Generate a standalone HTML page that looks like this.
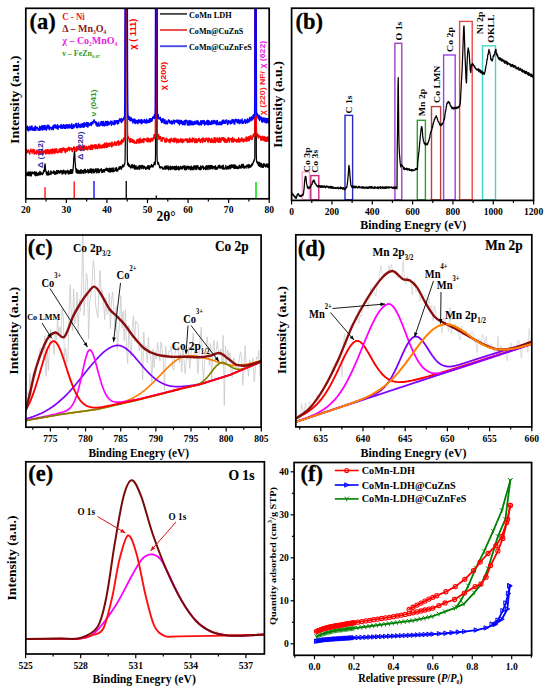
<!DOCTYPE html>
<html><head><meta charset="utf-8"><style>html,body{margin:0;padding:0;background:#fff;width:550px;height:692px;overflow:hidden}svg{display:block}</style></head>
<body><svg width="550" height="692" viewBox="0 0 550 692"><defs><clipPath id="ca"><rect x="25.8" y="9.100000000000001" width="243.39999999999998" height="190.5"/></clipPath>
<clipPath id="cb"><rect x="291.6" y="8.2" width="242.0" height="192.20000000000002"/></clipPath>
<clipPath id="cc"><rect x="25.9" y="235.0" width="235.20000000000002" height="192.2"/></clipPath>
<clipPath id="cd"><rect x="295.8" y="234.8" width="235.99999999999994" height="192.09999999999997"/></clipPath>
<clipPath id="ce"><rect x="25.8" y="461.8" width="238.59999999999997" height="192.2"/></clipPath>
<clipPath id="cf"><rect x="294.1" y="462.5" width="237.5" height="192.79999999999995"/></clipPath></defs>
<g clip-path="url(#ca)">
<path d="M25.8,172.58 L26.05,175.71 L26.3,175.33 L26.55,173.08 L26.8,174.12 L27.05,173.91 L27.3,174.78 L27.55,175.37 L27.8,172.3 L28.05,172 L28.3,175.54 L28.55,173.76 L28.8,175.2 L29.05,171.84 L29.3,173.78 L29.55,174.98 L29.8,172.8 L30.05,175.94 L30.3,175.73 L30.55,171.89 L30.8,171.85 L31.05,174.11 L31.3,175.85 L31.55,173.38 L31.8,172.64 L32.05,173.54 L32.3,171.79 L32.55,172.63 L32.8,173.57 L33.05,173.81 L33.3,172.64 L33.55,172.62 L33.8,172.55 L34.05,173.6 L34.3,172.84 L34.55,171.65 L34.8,175.23 L35.05,173.98 L35.3,174.34 L35.55,172.32 L35.8,175.86 L36.05,175.26 L36.3,172 L36.55,172.92 L36.8,174.62 L37.05,174.56 L37.3,175.54 L37.55,173.26 L37.8,175.04 L38.05,174.33 L38.3,172.7 L38.55,173.94 L38.8,175.22 L39.05,175.05 L39.3,173.54 L39.55,173.9 L39.8,171.44 L40.05,172.35 L40.3,174.78 L40.55,173.08 L40.8,172 L41.05,173.64 L41.3,174.31 L41.55,174.17 L41.8,172.84 L42.05,173.11 L42.3,173.4 L42.55,174.58 L42.8,173.42 L43.05,172.82 L43.3,173.13 L43.55,170.8 L43.8,170.2 L44.05,171.89 L44.3,171.34 L44.55,167.62 L44.8,165.21 L45.05,163.81 L45.3,166.17 L45.55,170.07 L45.8,171.09 L46.05,171.62 L46.3,173.99 L46.55,171.69 L46.8,173.11 L47.05,175.1 L47.3,173.45 L47.55,172.92 L47.8,172.07 L48.05,173.29 L48.3,175.08 L48.55,170.88 L48.8,174.29 L49.05,174.44 L49.3,174.71 L49.55,174.06 L49.8,174.35 L50.05,173.06 L50.3,173.23 L50.55,172.63 L50.8,170.99 L51.05,174.55 L51.3,173.22 L51.55,171.58 L51.8,172.91 L52.05,172.81 L52.3,172.23 L52.55,172.17 L52.8,173.01 L53.05,173.37 L53.3,173.31 L53.55,172.61 L53.8,170.71 L54.05,171.58 L54.3,171.34 L54.55,173.12 L54.8,174.32 L55.05,174.04 L55.3,174.02 L55.55,174.09 L55.8,171.61 L56.05,174.17 L56.3,173.42 L56.55,170.81 L56.8,170.51 L57.05,170.48 L57.3,173.73 L57.55,171.49 L57.8,170.86 L58.05,173.12 L58.3,171.87 L58.55,170.65 L58.8,171.03 L59.05,172.64 L59.3,171.04 L59.55,171.49 L59.8,173.41 L60.05,172.26 L60.3,171.67 L60.55,172.32 L60.8,170.33 L61.05,171.91 L61.3,172.05 L61.55,171.01 L61.8,170.65 L62.05,174.12 L62.3,172.39 L62.55,171.06 L62.8,172.79 L63.05,173.7 L63.3,170.19 L63.55,170.16 L63.8,170.71 L64.05,173.22 L64.3,170.75 L64.55,173.13 L64.8,173 L65.05,172.4 L65.3,170.96 L65.55,174.26 L65.8,173.47 L66.05,172.21 L66.3,170.91 L66.55,172.76 L66.8,171.63 L67.05,172.41 L67.3,171.27 L67.55,172.62 L67.8,170.08 L68.05,171.12 L68.3,174.04 L68.55,173.61 L68.8,171.09 L69.05,173.49 L69.3,171.06 L69.55,173.8 L69.8,172.91 L70.05,171.43 L70.3,170.68 L70.55,169.56 L70.8,173.35 L71.05,169.6 L71.3,172.98 L71.55,173.54 L71.8,171.74 L72.05,169.89 L72.3,172.81 L72.55,173.03 L72.8,171.33 L73.05,169.37 L73.3,166.67 L73.55,163.06 L73.8,157.9 L74.05,155.51 L74.3,151.78 L74.55,151.03 L74.8,153.77 L75.05,160.81 L75.3,163.55 L75.55,167.63 L75.8,168.72 L76.05,172.05 L76.3,172.59 L76.55,168.9 L76.8,169.81 L77.05,170.44 L77.3,173.39 L77.55,172.53 L77.8,170.61 L78.05,170.08 L78.3,172.13 L78.55,172.87 L78.8,173.29 L79.05,170.71 L79.3,173.09 L79.55,172.23 L79.8,171.34 L80.05,173.55 L80.3,170.24 L80.55,172.4 L80.8,169.57 L81.05,169.94 L81.3,173.2 L81.55,170.12 L81.8,172.52 L82.05,171.81 L82.3,172.87 L82.55,170.78 L82.8,170.65 L83.05,170.42 L83.3,172.95 L83.55,171.78 L83.8,173.31 L84.05,173.01 L84.3,169.69 L84.55,171.51 L84.8,169.53 L85.05,169.24 L85.3,169.38 L85.55,172.85 L85.8,172.5 L86.05,172.67 L86.3,170.51 L86.55,171.71 L86.8,172.43 L87.05,170.64 L87.3,171.48 L87.55,169.94 L87.8,169.31 L88.05,170.11 L88.3,172.84 L88.55,171.4 L88.8,172.97 L89.05,170.9 L89.3,170.1 L89.55,172.33 L89.8,172.5 L90.05,168.9 L90.3,171.78 L90.55,169.22 L90.8,169.32 L91.05,172.69 L91.3,168.96 L91.55,169.83 L91.8,173.11 L92.05,170.6 L92.3,169.25 L92.55,169.46 L92.8,169.78 L93.05,171.98 L93.3,169.14 L93.55,172.69 L93.8,170.33 L94.05,172.93 L94.3,172.64 L94.55,169.93 L94.8,169.74 L95.05,170.71 L95.3,169.04 L95.55,171.45 L95.8,168.75 L96.05,168.61 L96.3,172.87 L96.55,169.84 L96.8,171.15 L97.05,170.49 L97.3,169.88 L97.55,168.76 L97.8,172.49 L98.05,172.73 L98.3,172.72 L98.55,168.93 L98.8,169.37 L99.05,171.13 L99.3,172.71 L99.55,170.78 L99.8,171.4 L100.05,171.27 L100.3,169.49 L100.55,170.72 L100.8,169.68 L101.05,169.39 L101.3,168.66 L101.55,169.52 L101.8,172.6 L102.05,170.23 L102.3,171.11 L102.55,171.06 L102.8,172.36 L103.05,169.92 L103.3,169.54 L103.55,169.62 L103.8,169.56 L104.05,171.88 L104.3,172.07 L104.55,169.46 L104.8,169.58 L105.05,170.49 L105.3,170.63 L105.55,170.69 L105.8,169.14 L106.05,168.13 L106.3,169.1 L106.55,168.34 L106.8,170.43 L107.05,168.3 L107.3,168.3 L107.55,170.76 L107.8,169.22 L108.05,171.42 L108.3,170.09 L108.55,171.7 L108.8,168.56 L109.05,170.08 L109.3,171.35 L109.55,168.18 L109.8,172 L110.05,168.57 L110.3,171.21 L110.55,172.11 L110.8,171.37 L111.05,169.15 L111.3,168.2 L111.55,169.97 L111.8,171.74 L112.05,168.96 L112.3,171.59 L112.55,168.26 L112.8,171.62 L113.05,167.74 L113.3,168.97 L113.55,171.53 L113.8,171.07 L114.05,171.51 L114.3,171.19 L114.55,170.76 L114.8,170.48 L115.05,168.21 L115.3,169.31 L115.55,168.07 L115.8,170.5 L116.05,170.26 L116.3,168.41 L116.55,167.55 L116.8,171.47 L117.05,170.76 L117.3,169.59 L117.55,169.52 L117.8,170.84 L118.05,169.04 L118.3,168.71 L118.55,168.38 L118.8,167.94 L119.05,166.83 L119.3,169.48 L119.55,168.37 L119.8,168.95 L120.05,166.61 L120.3,167.79 L120.55,166.72 L120.8,166.54 L121.05,166.99 L121.3,169.36 L121.55,167.31 L121.8,167.16 L122.05,167.91 L122.3,166.05 L122.55,164.84 L122.8,166.9 L123.05,166.52 L123.3,166.89 L123.55,165.66 L123.8,166.41 L124.05,166.24 L124.3,163.67 L124.55,164.38 L124.8,163.85 L125.05,161.31 L125.3,142.79 L125.55,-34.17 L125.8,-50 L126.05,-50 L126.3,-50 L126.55,-50 L126.8,-50 L127.05,74.99 L127.3,156.36 L127.55,164.61 L127.8,162.03 L128.05,165.04 L128.3,165.87 L128.55,163.65 L128.8,165.58 L129.05,166.5 L129.3,164.6 L129.55,166.23 L129.8,166.53 L130.05,166.05 L130.3,167.36 L130.55,167.68 L130.8,168.09 L131.05,166.5 L131.3,164.86 L131.55,165.28 L131.8,165.22 L132.05,166.85 L132.3,167.74 L132.55,164.7 L132.8,167.53 L133.05,167.74 L133.3,166.16 L133.55,166.94 L133.8,165.44 L134.05,167.97 L134.3,164.97 L134.55,169.14 L134.8,168.41 L135.05,167.65 L135.3,166.09 L135.55,168.95 L135.8,169.18 L136.05,165.59 L136.3,168.41 L136.55,168.73 L136.8,167.94 L137.05,168.14 L137.3,167.03 L137.55,169.15 L137.8,169.38 L138.05,166.8 L138.3,168.66 L138.55,167.05 L138.8,165.88 L139.05,166.6 L139.3,165.73 L139.55,169.18 L139.8,169.41 L140.05,165.73 L140.3,167.85 L140.55,167.01 L140.8,165.74 L141.05,166.53 L141.3,166.33 L141.55,168.54 L141.8,165.26 L142.05,166.09 L142.3,167.19 L142.55,165.35 L142.8,168.02 L143.05,167.93 L143.3,168.94 L143.55,166.18 L143.8,166.52 L144.05,167.65 L144.3,166.47 L144.55,167.84 L144.8,166.37 L145.05,168.27 L145.3,168.74 L145.55,168.81 L145.8,169.53 L146.05,167.64 L146.3,167.39 L146.55,168.99 L146.8,168.6 L147.05,167.71 L147.3,166.87 L147.55,166.42 L147.8,165.63 L148.05,168.69 L148.3,165.63 L148.55,168.38 L148.8,167.46 L149.05,169.28 L149.3,168.35 L149.55,169.24 L149.8,165.52 L150.05,167.07 L150.3,167.34 L150.55,166.13 L150.8,166.91 L151.05,166.19 L151.3,166.86 L151.55,164.44 L151.8,166.28 L152.05,166.19 L152.3,165.42 L152.55,165.68 L152.8,167.19 L153.05,166.56 L153.3,165.5 L153.55,165.93 L153.8,164.46 L154.05,163.39 L154.3,162.17 L154.55,163.02 L154.8,164.05 L155.05,164.91 L155.3,164.22 L155.55,153.61 L155.8,-50 L156.05,-50 L156.3,-50 L156.55,-50 L156.8,-50 L157.05,155.74 L157.3,161.97 L157.55,161.85 L157.8,164.22 L158.05,164.22 L158.3,163.84 L158.55,162.63 L158.8,164.64 L159.05,165.1 L159.3,165.27 L159.55,167.51 L159.8,166.5 L160.05,167.34 L160.3,168.23 L160.55,167.71 L160.8,166.71 L161.05,167.93 L161.3,167.57 L161.55,167.7 L161.8,167.69 L162.05,166.78 L162.3,167.82 L162.55,167.9 L162.8,169.29 L163.05,168.66 L163.3,168.98 L163.55,168.67 L163.8,168.92 L164.05,168.03 L164.3,166.93 L164.55,166.58 L164.8,168.56 L165.05,169.31 L165.3,167.88 L165.55,166.18 L165.8,169.19 L166.05,167.67 L166.3,167.61 L166.55,165.77 L166.8,167.83 L167.05,168.87 L167.3,167.46 L167.55,167.18 L167.8,168.51 L168.05,165.72 L168.3,167.87 L168.55,169.81 L168.8,168.69 L169.05,167.43 L169.3,168.7 L169.55,168.33 L169.8,166.6 L170.05,166.6 L170.3,169.59 L170.55,166.87 L170.8,166.02 L171.05,169.35 L171.3,168 L171.55,167.32 L171.8,167.96 L172.05,168.95 L172.3,166.45 L172.55,168.59 L172.8,168.85 L173.05,169.3 L173.3,166.9 L173.55,168.4 L173.8,166.74 L174.05,168.19 L174.3,166.48 L174.55,169.2 L174.8,169.54 L175.05,167.17 L175.3,166.7 L175.55,169.96 L175.8,168.83 L176.05,169.44 L176.3,165.86 L176.55,169.68 L176.8,168.46 L177.05,167.12 L177.3,167.62 L177.55,169.07 L177.8,169.18 L178.05,166.56 L178.3,168.47 L178.55,166.45 L178.8,170 L179.05,167.67 L179.3,169.73 L179.55,168.92 L179.8,168.38 L180.05,166.87 L180.3,168.03 L180.55,166.32 L180.8,166.32 L181.05,168.86 L181.3,167.3 L181.55,169.01 L181.8,166.76 L182.05,168.86 L182.3,168.86 L182.55,167.05 L182.8,166.17 L183.05,167.45 L183.3,167.86 L183.55,166.14 L183.8,166.52 L184.05,165.94 L184.3,168.32 L184.55,169.6 L184.8,166.64 L185.05,165.84 L185.3,168.78 L185.55,169.27 L185.8,169.92 L186.05,168.38 L186.3,167.18 L186.55,169.36 L186.8,166.19 L187.05,168.72 L187.3,166.09 L187.55,167.43 L187.8,167.84 L188.05,167.33 L188.3,166.4 L188.55,166.68 L188.8,169.27 L189.05,167.69 L189.3,168.21 L189.55,166.58 L189.8,168.8 L190.05,167.1 L190.3,168.26 L190.55,169.65 L190.8,170.02 L191.05,165.84 L191.3,169.15 L191.55,169.41 L191.8,167.04 L192.05,167.32 L192.3,168.18 L192.55,169.67 L192.8,167.39 L193.05,169.5 L193.3,168.96 L193.55,166.29 L193.8,169.64 L194.05,165.68 L194.3,166.25 L194.55,168.54 L194.8,165.86 L195.05,167.28 L195.3,166.18 L195.55,167.64 L195.8,169.3 L196.05,169.58 L196.3,165.75 L196.55,165.86 L196.8,169.29 L197.05,165.78 L197.3,166.79 L197.55,166.1 L197.8,165.98 L198.05,165.7 L198.3,168.38 L198.55,168.85 L198.8,168.59 L199.05,169.29 L199.3,168.48 L199.55,167.28 L199.8,168.34 L200.05,169.83 L200.3,168.38 L200.55,166.62 L200.8,165.8 L201.05,169.65 L201.3,168.12 L201.55,167.06 L201.8,168.17 L202.05,167.97 L202.3,167.79 L202.55,165.76 L202.8,167.04 L203.05,167.29 L203.3,166.34 L203.55,169.33 L203.8,167.32 L204.05,168.36 L204.3,168.58 L204.55,168.7 L204.8,168.6 L205.05,168.73 L205.3,166.52 L205.55,169.7 L205.8,166.06 L206.05,169.43 L206.3,169.14 L206.55,169.12 L206.8,165.6 L207.05,165.76 L207.3,168.93 L207.55,167.41 L207.8,166.97 L208.05,169.66 L208.3,165.5 L208.55,167.66 L208.8,167.26 L209.05,165.87 L209.3,167.03 L209.55,168.4 L209.8,169.16 L210.05,165.38 L210.3,167.57 L210.55,165.66 L210.8,168.77 L211.05,165.62 L211.3,165.39 L211.55,166.92 L211.8,168.45 L212.05,166.59 L212.3,165.78 L212.55,168.7 L212.8,168.74 L213.05,168.95 L213.3,166.52 L213.55,167.04 L213.8,166.24 L214.05,167.61 L214.3,166.6 L214.55,166.63 L214.8,168.58 L215.05,169.33 L215.3,167.69 L215.55,165.57 L215.8,167.98 L216.05,167.07 L216.3,169.44 L216.55,168.25 L216.8,168.75 L217.05,168.15 L217.3,167.42 L217.55,169 L217.8,168.7 L218.05,166.32 L218.3,165.72 L218.55,166.65 L218.8,167.31 L219.05,165.44 L219.3,166.52 L219.55,167.52 L219.8,165.18 L220.05,168.56 L220.3,167.84 L220.55,166.34 L220.8,166.27 L221.05,166.5 L221.3,166.37 L221.55,168.23 L221.8,167.13 L222.05,167.23 L222.3,165.56 L222.55,168.93 L222.8,166.33 L223.05,166.33 L223.3,165.18 L223.55,169.18 L223.8,166.97 L224.05,168.87 L224.3,168.93 L224.55,169.11 L224.8,168.42 L225.05,168.9 L225.3,168.88 L225.55,168.34 L225.8,165.39 L226.05,167.1 L226.3,167.32 L226.55,169.15 L226.8,168.22 L227.05,167.86 L227.3,168.04 L227.55,166.34 L227.8,168.88 L228.05,167.56 L228.3,166.49 L228.55,166.76 L228.8,169.02 L229.05,167.04 L229.3,165.43 L229.55,165.33 L229.8,167.7 L230.05,167.14 L230.3,168.65 L230.55,165.46 L230.8,166.45 L231.05,167.84 L231.3,164.84 L231.55,165.05 L231.8,167.01 L232.05,165.77 L232.3,165.06 L232.55,165.73 L232.8,167.35 L233.05,166.88 L233.3,164.9 L233.55,164.87 L233.8,168.28 L234.05,167.36 L234.3,165.28 L234.55,168.3 L234.8,164.6 L235.05,166.11 L235.3,168.21 L235.55,167.6 L235.8,165.71 L236.05,168.38 L236.3,167.08 L236.55,168.24 L236.8,168.35 L237.05,166.29 L237.3,167.38 L237.55,166.79 L237.8,168.54 L238.05,167.89 L238.3,167.56 L238.55,167.93 L238.8,168.73 L239.05,165.46 L239.3,165.21 L239.55,167.59 L239.8,167.69 L240.05,166.55 L240.3,166.42 L240.55,166.04 L240.8,168.13 L241.05,167.74 L241.3,166.79 L241.55,164.39 L241.8,167.94 L242.05,166.2 L242.3,165 L242.55,165.47 L242.8,167.18 L243.05,164.14 L243.3,164.63 L243.55,165.42 L243.8,167.97 L244.05,167.34 L244.3,168.31 L244.55,166.4 L244.8,166.51 L245.05,166.4 L245.3,166.26 L245.55,166.31 L245.8,167.51 L246.05,168.07 L246.3,165.65 L246.55,166.6 L246.8,165.15 L247.05,165.09 L247.3,165.96 L247.55,166.27 L247.8,166.07 L248.05,167.91 L248.3,164.29 L248.55,166.32 L248.8,167.85 L249.05,166.65 L249.3,165.84 L249.55,164.91 L249.8,164.99 L250.05,167.26 L250.3,166.99 L250.55,165.9 L250.8,166.8 L251.05,166.8 L251.3,166.32 L251.55,164.14 L251.8,164.33 L252.05,165.6 L252.3,163.54 L252.55,164.96 L252.8,163.53 L253.05,162.6 L253.3,162.81 L253.55,160.97 L253.8,161.65 L254.05,161.53 L254.3,159.38 L254.55,159.67 L254.8,158.71 L255.05,93.67 L255.3,-50 L255.55,-50 L255.8,-50 L256.05,-50 L256.3,154.1 L256.55,161.94 L256.8,162.12 L257.05,161.37 L257.3,163.26 L257.55,162.34 L257.8,163.69 L258.05,163.02 L258.3,165.42 L258.55,164.55 L258.8,162.03 L259.05,162.39 L259.3,166.25 L259.55,163.17 L259.8,162.41 L260.05,163.54 L260.3,164.64 L260.55,166.82 L260.8,164.47 L261.05,165.97 L261.3,166.53 L261.55,163.31 L261.8,165.66 L262.05,167.4 L262.3,165.48 L262.55,165.45 L262.8,164.66 L263.05,167.33 L263.3,167.46 L263.55,163.67 L263.8,165.68 L264.05,165.11 L264.3,166.24 L264.55,163.82 L264.8,164.48 L265.05,164.55 L265.3,165.45 L265.55,166.84 L265.8,167.13 L266.05,166.82 L266.3,166.35 L266.55,163.76 L266.8,165.1 L267.05,166.33 L267.3,164.69 L267.55,165.63 L267.8,167.38 L268.05,163.91 L268.3,167.16 L268.55,163.87 L268.8,165.1 L269.05,167.39" fill="none" stroke="#000" stroke-width="1.25" stroke-linejoin="round" stroke-linecap="round" />
<path d="M25.8,153.77 L26.05,153.73 L26.3,149.28 L26.55,149.42 L26.8,153.18 L27.05,152.69 L27.3,152.36 L27.55,150.55 L27.8,152.04 L28.05,152.05 L28.3,151.93 L28.55,149.82 L28.8,151.18 L29.05,151 L29.3,152.65 L29.55,154.01 L29.8,153.79 L30.05,151.76 L30.3,151.27 L30.55,150.39 L30.8,149.23 L31.05,149.19 L31.3,151.38 L31.55,150.65 L31.8,150.96 L32.05,153.53 L32.3,151.7 L32.55,151.88 L32.8,150.26 L33.05,149.2 L33.3,150.71 L33.55,149.77 L33.8,151.64 L34.05,154.08 L34.3,152.47 L34.55,150.01 L34.8,153.57 L35.05,153.09 L35.3,152.78 L35.55,153.64 L35.8,152.93 L36.05,153.06 L36.3,150.89 L36.55,154.03 L36.8,153.93 L37.05,149.93 L37.3,152.9 L37.55,152.71 L37.8,151.44 L38.05,151.79 L38.3,151.59 L38.55,153.77 L38.8,151.65 L39.05,153.31 L39.3,150.92 L39.55,153.57 L39.8,153.66 L40.05,151.47 L40.3,152.01 L40.55,153.77 L40.8,152.79 L41.05,151.61 L41.3,150.29 L41.55,150.81 L41.8,152.68 L42.05,150.02 L42.3,153.73 L42.55,150.54 L42.8,153.75 L43.05,150.75 L43.3,153.99 L43.55,152.74 L43.8,151.73 L44.05,151.8 L44.3,152.47 L44.55,152.16 L44.8,150.78 L45.05,150.26 L45.3,151.79 L45.55,153.9 L45.8,152.35 L46.05,149.61 L46.3,153.34 L46.55,152.87 L46.8,153.78 L47.05,150.21 L47.3,152.98 L47.55,149.55 L47.8,152.52 L48.05,150.63 L48.3,150.4 L48.55,153.64 L48.8,149.8 L49.05,151.89 L49.3,153.55 L49.55,150.5 L49.8,150.33 L50.05,153.68 L50.3,151.37 L50.55,152.81 L50.8,149.36 L51.05,150.98 L51.3,150 L51.55,152.48 L51.8,149.5 L52.05,153.83 L52.3,149.16 L52.55,152.65 L52.8,149.08 L53.05,150.23 L53.3,152.99 L53.55,149.68 L53.8,149.78 L54.05,152.3 L54.3,150.74 L54.55,149 L54.8,153.7 L55.05,149.48 L55.3,148.88 L55.55,150.39 L55.8,151.72 L56.05,152.33 L56.3,149.15 L56.55,150.25 L56.8,148.69 L57.05,150.75 L57.3,152.31 L57.55,152.15 L57.8,152.93 L58.05,152.17 L58.3,152.68 L58.55,151.87 L58.8,150.68 L59.05,149.41 L59.3,151.56 L59.55,149.81 L59.8,148.71 L60.05,150.41 L60.3,152.52 L60.55,148.76 L60.8,151.02 L61.05,150.03 L61.3,150.61 L61.55,148.73 L61.8,152.78 L62.05,149.25 L62.3,150.96 L62.55,150 L62.8,147.96 L63.05,150.63 L63.3,148.52 L63.55,148.07 L63.8,147.93 L64.05,148.54 L64.3,148.18 L64.55,150.85 L64.8,150.19 L65.05,152.54 L65.3,152.27 L65.55,152.54 L65.8,148.7 L66.05,149.73 L66.3,148.74 L66.55,150.41 L66.8,150.55 L67.05,151.4 L67.3,150.92 L67.55,148.63 L67.8,149.43 L68.05,149.92 L68.3,147.29 L68.55,147.41 L68.8,149.25 L69.05,147.74 L69.3,150.77 L69.55,148.33 L69.8,147.6 L70.05,147.98 L70.3,148.2 L70.55,148.1 L70.8,149.59 L71.05,149.28 L71.3,148.48 L71.55,150.11 L71.8,147.94 L72.05,151.38 L72.3,151.63 L72.55,150.44 L72.8,148.93 L73.05,149.29 L73.3,149.61 L73.55,146.94 L73.8,148.74 L74.05,149.25 L74.3,147.5 L74.55,147.04 L74.8,150.56 L75.05,148.35 L75.3,149.08 L75.55,151.07 L75.8,149.48 L76.05,147.85 L76.3,151.29 L76.55,148.21 L76.8,146.42 L77.05,149.72 L77.3,146.77 L77.55,147.77 L77.8,150.41 L78.05,149.54 L78.3,146.23 L78.55,148.38 L78.8,148.15 L79.05,148.5 L79.3,147.08 L79.55,148.96 L79.8,146.36 L80.05,147.38 L80.3,147.79 L80.55,150.58 L80.8,146.25 L81.05,149.61 L81.3,146.77 L81.55,148.64 L81.8,147.71 L82.05,148.04 L82.3,149.46 L82.55,147.64 L82.8,146.24 L83.05,146.21 L83.3,145.98 L83.55,149.79 L83.8,148.72 L84.05,150.28 L84.3,148.92 L84.55,145.55 L84.8,148.69 L85.05,149.25 L85.3,148.95 L85.55,147.8 L85.8,147.07 L86.05,147.53 L86.3,149.21 L86.55,146.53 L86.8,147.79 L87.05,147.52 L87.3,149.87 L87.55,149.09 L87.8,149.7 L88.05,149.19 L88.3,146.46 L88.55,146.11 L88.8,147.37 L89.05,146.19 L89.3,147 L89.55,148.23 L89.8,149.4 L90.05,147.7 L90.3,148.83 L90.55,145.19 L90.8,146.46 L91.05,149.64 L91.3,145.36 L91.55,146.68 L91.8,144.9 L92.05,144.96 L92.3,148.98 L92.55,149.42 L92.8,147.68 L93.05,145.06 L93.3,145.87 L93.55,145.51 L93.8,147.68 L94.05,147.7 L94.3,146.46 L94.55,146.85 L94.8,144.76 L95.05,146.88 L95.3,148.89 L95.55,147.89 L95.8,144.56 L96.05,146.63 L96.3,147.6 L96.55,145.28 L96.8,148.44 L97.05,146.24 L97.3,147.42 L97.55,145.89 L97.8,148.82 L98.05,147.72 L98.3,146.65 L98.55,144.47 L98.8,145.92 L99.05,143.83 L99.3,146.63 L99.55,148.03 L99.8,144.5 L100.05,146.11 L100.3,145.95 L100.55,145.53 L100.8,147.02 L101.05,148.12 L101.3,146.94 L101.55,145.74 L101.8,148.16 L102.05,144.97 L102.3,147.01 L102.55,146.55 L102.8,147.03 L103.05,147.45 L103.3,144.28 L103.55,146.23 L103.8,145.11 L104.05,146.4 L104.3,147.92 L104.55,146.17 L104.8,143.03 L105.05,145.26 L105.3,146.46 L105.55,147.29 L105.8,146.09 L106.05,146.89 L106.3,142.86 L106.55,147.46 L106.8,146.36 L107.05,145.71 L107.3,147.17 L107.55,147.03 L107.8,143.08 L108.05,146.62 L108.3,146.34 L108.55,143.47 L108.8,146.16 L109.05,145.34 L109.3,143.33 L109.55,146.36 L109.8,142.99 L110.05,145.33 L110.3,144.4 L110.55,143.46 L110.8,144.98 L111.05,144.45 L111.3,143.1 L111.55,146.87 L111.8,142.36 L112.05,141.97 L112.3,144.34 L112.55,146.06 L112.8,145.13 L113.05,145.57 L113.3,144.18 L113.55,145.08 L113.8,143.34 L114.05,142.95 L114.3,144.09 L114.55,141.67 L114.8,141.88 L115.05,145.2 L115.3,142.25 L115.55,145.09 L115.8,145.2 L116.05,143.25 L116.3,144.55 L116.55,145.06 L116.8,145.38 L117.05,141.68 L117.3,141.76 L117.55,142.79 L117.8,143.14 L118.05,142.22 L118.3,140.72 L118.55,143.38 L118.8,145.35 L119.05,142.26 L119.3,143.03 L119.55,142.16 L119.8,142.36 L120.05,144.39 L120.3,141.47 L120.55,143.05 L120.8,142.1 L121.05,142.23 L121.3,143.96 L121.55,139.62 L121.8,143.18 L122.05,140.39 L122.3,141.9 L122.55,142.43 L122.8,141.48 L123.05,139.92 L123.3,141.88 L123.55,137.84 L123.8,140.22 L124.05,138.67 L124.3,139.02 L124.55,140.22 L124.8,138.74 L125.05,126.85 L125.3,44.28 L125.55,-50 L125.8,-50 L126.05,-50 L126.3,-50 L126.55,-50 L126.8,-50 L127.05,-50 L127.3,94.07 L127.55,132.48 L127.8,136.67 L128.05,136.02 L128.3,138.22 L128.55,137.04 L128.8,138.68 L129.05,138.17 L129.3,141.4 L129.55,141.74 L129.8,139.52 L130.05,140.67 L130.3,142.26 L130.55,139.37 L130.8,138.35 L131.05,139.14 L131.3,138.98 L131.55,141.5 L131.8,140.04 L132.05,140 L132.3,142.25 L132.55,139.47 L132.8,142.38 L133.05,141.53 L133.3,140.39 L133.55,142.52 L133.8,140.13 L134.05,142.82 L134.3,143.06 L134.55,140.95 L134.8,141.88 L135.05,143.17 L135.3,142.14 L135.55,142.17 L135.8,142.75 L136.05,143.07 L136.3,142.15 L136.55,143.26 L136.8,139.8 L137.05,141.44 L137.3,141.66 L137.55,140.12 L137.8,140.24 L138.05,139.11 L138.3,143 L138.55,139.96 L138.8,140.55 L139.05,142.6 L139.3,139.04 L139.55,142.88 L139.8,138.69 L140.05,138.17 L140.3,139.78 L140.55,139.82 L140.8,142.61 L141.05,142.44 L141.3,141.83 L141.55,140.2 L141.8,140.73 L142.05,139.2 L142.3,142.17 L142.55,139.95 L142.8,139.42 L143.05,141.18 L143.3,138.73 L143.55,139.55 L143.8,142.59 L144.05,138.43 L144.3,138.65 L144.55,138.95 L144.8,139.17 L145.05,140 L145.3,139.13 L145.55,139.58 L145.8,139.08 L146.05,139.03 L146.3,140.86 L146.55,139.47 L146.8,139.62 L147.05,141.57 L147.3,138.01 L147.55,138.39 L147.8,141.89 L148.05,139.75 L148.3,141.46 L148.55,138.19 L148.8,140.09 L149.05,141.65 L149.3,139.06 L149.55,141.15 L149.8,140.3 L150.05,139.15 L150.3,142.09 L150.55,138.98 L150.8,139.29 L151.05,139.92 L151.3,138.29 L151.55,140.77 L151.8,139.44 L152.05,139.24 L152.3,138.83 L152.55,140.88 L152.8,140.69 L153.05,139.73 L153.3,137.56 L153.55,137.09 L153.8,137.37 L154.05,134.68 L154.3,134.67 L154.55,138.78 L154.8,134.12 L155.05,137.84 L155.3,135.27 L155.55,103.88 L155.8,-50 L156.05,-50 L156.3,-50 L156.55,-50 L156.8,-50 L157.05,101.05 L157.3,132.73 L157.55,133.87 L157.8,136.81 L158.05,134.24 L158.3,138.96 L158.55,137.66 L158.8,134.96 L159.05,139.49 L159.3,136.46 L159.55,137.9 L159.8,138.5 L160.05,136.6 L160.3,138.6 L160.55,136.55 L160.8,137.39 L161.05,141.12 L161.3,140.76 L161.55,139.37 L161.8,140.27 L162.05,141.33 L162.3,137.73 L162.55,139.56 L162.8,137.83 L163.05,137.82 L163.3,137.83 L163.55,138.4 L163.8,137.66 L164.05,138.51 L164.3,139.37 L164.55,140.62 L164.8,141.84 L165.05,142.1 L165.3,141.19 L165.55,140.17 L165.8,142.24 L166.05,138.49 L166.3,138.23 L166.55,141.81 L166.8,140.88 L167.05,138.81 L167.3,139.66 L167.55,139.27 L167.8,139.96 L168.05,139.95 L168.3,139.82 L168.55,141.83 L168.8,141.91 L169.05,140.67 L169.3,140.23 L169.55,139.3 L169.8,141.71 L170.05,142.83 L170.3,139.04 L170.55,141.42 L170.8,141.41 L171.05,141.21 L171.3,138.08 L171.55,140.69 L171.8,138.94 L172.05,138.91 L172.3,140.84 L172.55,141.17 L172.8,141.07 L173.05,141.66 L173.3,141.47 L173.55,140.33 L173.8,138.2 L174.05,141.82 L174.3,142.08 L174.55,142.14 L174.8,140.96 L175.05,138.16 L175.3,138.95 L175.55,138.51 L175.8,141.15 L176.05,140.7 L176.3,138.91 L176.55,142.75 L176.8,142.87 L177.05,142.47 L177.3,140.3 L177.55,139.44 L177.8,139.02 L178.05,142.1 L178.3,141.48 L178.55,139.37 L178.8,142.49 L179.05,140.82 L179.3,140.04 L179.55,140.06 L179.8,141.58 L180.05,140.25 L180.3,141.27 L180.55,138.59 L180.8,141.49 L181.05,139.34 L181.3,142.53 L181.55,139.05 L181.8,139.64 L182.05,140.66 L182.3,139.93 L182.55,140.6 L182.8,142.59 L183.05,138.97 L183.3,141.83 L183.55,141.43 L183.8,141.9 L184.05,140.2 L184.3,140.23 L184.55,139.69 L184.8,140.33 L185.05,139.23 L185.3,138.91 L185.55,140.34 L185.8,138.91 L186.05,140.3 L186.3,140.82 L186.55,139.5 L186.8,138.8 L187.05,140.97 L187.3,142.25 L187.55,139.05 L187.8,141.02 L188.05,141.23 L188.3,142.36 L188.55,141.35 L188.8,139.47 L189.05,138.97 L189.3,142.12 L189.55,139.43 L189.8,137.99 L190.05,142.28 L190.3,138.91 L190.55,139.49 L190.8,139.52 L191.05,139.2 L191.3,141.54 L191.55,139.63 L191.8,140.12 L192.05,140.01 L192.3,142.08 L192.55,138 L192.8,140.8 L193.05,138.56 L193.3,138.65 L193.55,140.93 L193.8,139.78 L194.05,138.22 L194.3,140.83 L194.55,142.46 L194.8,141.12 L195.05,140.37 L195.3,141.89 L195.55,142.46 L195.8,138.64 L196.05,139.38 L196.3,142.7 L196.55,142.5 L196.8,138.89 L197.05,141.39 L197.3,142.24 L197.55,140.82 L197.8,141.38 L198.05,140.48 L198.3,139.03 L198.55,138.92 L198.8,138.16 L199.05,141.18 L199.3,138.54 L199.55,140.96 L199.8,139.8 L200.05,140.02 L200.3,142.69 L200.55,139.8 L200.8,140.21 L201.05,139.73 L201.3,138.9 L201.55,138.95 L201.8,140.49 L202.05,141.91 L202.3,138.27 L202.55,142.54 L202.8,141.18 L203.05,138.08 L203.3,141.34 L203.55,139.81 L203.8,140.37 L204.05,138.3 L204.3,140.34 L204.55,140.39 L204.8,141.7 L205.05,140.69 L205.3,141.3 L205.55,141.45 L205.8,138.88 L206.05,137.89 L206.3,140.16 L206.55,138.41 L206.8,138.47 L207.05,139.36 L207.3,140.44 L207.55,140.83 L207.8,140.98 L208.05,142.46 L208.3,138.25 L208.55,140.53 L208.8,138.17 L209.05,141.08 L209.3,139.91 L209.55,138.42 L209.8,139.27 L210.05,141.02 L210.3,140.08 L210.55,142.43 L210.8,139.48 L211.05,139.4 L211.3,142.31 L211.55,140.73 L211.8,138.23 L212.05,141.61 L212.3,139.5 L212.55,142.42 L212.8,140.86 L213.05,141.7 L213.3,142.15 L213.55,140.22 L213.8,142.5 L214.05,137.79 L214.3,139.36 L214.55,141.85 L214.8,137.69 L215.05,141.01 L215.3,142.64 L215.55,141.22 L215.8,141.95 L216.05,138.02 L216.3,140.33 L216.55,140.68 L216.8,139.8 L217.05,139.72 L217.3,141.57 L217.55,138.43 L217.8,137.84 L218.05,140.57 L218.3,142.44 L218.55,141.74 L218.8,140.96 L219.05,139.07 L219.3,142.11 L219.55,137.79 L219.8,138.81 L220.05,141.52 L220.3,142.05 L220.55,139.58 L220.8,142.11 L221.05,138.12 L221.3,140.54 L221.55,137.89 L221.8,138.72 L222.05,138.5 L222.3,137.58 L222.55,139.57 L222.8,140.04 L223.05,138.94 L223.3,140.79 L223.55,137.79 L223.8,140.11 L224.05,140.16 L224.3,139.53 L224.55,142.08 L224.8,138.14 L225.05,139.63 L225.3,139.8 L225.55,139.36 L225.8,142.36 L226.05,140.34 L226.3,140.06 L226.55,139.68 L226.8,139.66 L227.05,142.22 L227.3,141.46 L227.55,140.7 L227.8,138.27 L228.05,140.42 L228.3,138.08 L228.55,139.2 L228.8,137.55 L229.05,140.96 L229.3,142.31 L229.55,140.61 L229.8,140.27 L230.05,138.67 L230.3,139.62 L230.55,139.73 L230.8,139.51 L231.05,138.74 L231.3,138.49 L231.55,141.14 L231.8,142.14 L232.05,141.48 L232.3,140.48 L232.55,137.5 L232.8,138.87 L233.05,141.55 L233.3,142.21 L233.55,140.08 L233.8,140.18 L234.05,140.76 L234.3,138.56 L234.55,140.88 L234.8,139.14 L235.05,141.54 L235.3,139.61 L235.55,140.61 L235.8,140.07 L236.05,139.95 L236.3,139.58 L236.55,142.03 L236.8,141.03 L237.05,139.35 L237.3,139.77 L237.55,141.73 L237.8,140.97 L238.05,140.49 L238.3,142.01 L238.55,137.79 L238.8,140.19 L239.05,140.31 L239.3,139.45 L239.55,141.99 L239.8,142 L240.05,139.11 L240.3,140.22 L240.55,140.96 L240.8,140.6 L241.05,138.92 L241.3,141.09 L241.55,138.83 L241.8,137.81 L242.05,140.39 L242.3,140.3 L242.55,139.08 L242.8,139.51 L243.05,141.95 L243.3,141.03 L243.55,139.01 L243.8,141.51 L244.05,139.79 L244.3,138.94 L244.55,140.13 L244.8,140.8 L245.05,141.34 L245.3,140.18 L245.55,140.14 L245.8,138.78 L246.05,136.95 L246.3,139 L246.55,137.26 L246.8,141.37 L247.05,138.43 L247.3,139.61 L247.55,140.21 L247.8,137.39 L248.05,140.62 L248.3,138.02 L248.55,136.74 L248.8,139.28 L249.05,138.22 L249.3,140.74 L249.55,138.29 L249.8,136.45 L250.05,135.98 L250.3,135.93 L250.55,138.14 L250.8,139.12 L251.05,135.67 L251.3,136.91 L251.55,137.49 L251.8,139.4 L252.05,139.57 L252.3,138.87 L252.55,137.45 L252.8,136.87 L253.05,134.83 L253.3,136.48 L253.55,133.94 L253.8,134.3 L254.05,136.6 L254.3,134.97 L254.55,135.43 L254.8,129.87 L255.05,0.96 L255.3,-50 L255.55,-50 L255.8,-50 L256.05,-50 L256.3,117.38 L256.55,132.34 L256.8,133.19 L257.05,136.34 L257.3,136.21 L257.55,134.05 L257.8,136.17 L258.05,134.73 L258.3,138.13 L258.55,137.02 L258.8,136.88 L259.05,135.35 L259.3,136.77 L259.55,137.29 L259.8,136.9 L260.05,136.14 L260.3,136.36 L260.55,138.99 L260.8,140.23 L261.05,139.92 L261.3,138.87 L261.55,139.83 L261.8,136.62 L262.05,137.07 L262.3,139.6 L262.55,136.14 L262.8,136.61 L263.05,140.13 L263.3,137.26 L263.55,137.24 L263.8,138.33 L264.05,140.57 L264.3,136.47 L264.55,140.84 L264.8,138 L265.05,139.35 L265.3,138.88 L265.55,137.15 L265.8,141.35 L266.05,137.46 L266.3,140.62 L266.55,141 L266.8,138.89 L267.05,141.44 L267.3,136.96 L267.55,137.4 L267.8,139.09 L268.05,137.05 L268.3,140.73 L268.55,139.33 L268.8,140.7 L269.05,138.14" fill="none" stroke="#ff0000" stroke-width="1.35" stroke-linejoin="round" stroke-linecap="round" />
<path d="M25.8,127.27 L26.05,128.79 L26.3,127.91 L26.55,129.07 L26.8,129.17 L27.05,126.35 L27.3,126.08 L27.55,130.19 L27.8,127.29 L28.05,127.15 L28.3,130.95 L28.55,128.31 L28.8,130.13 L29.05,128.31 L29.3,129.12 L29.55,126.66 L29.8,129.07 L30.05,130.23 L30.3,128.49 L30.55,129.57 L30.8,129.21 L31.05,126.16 L31.3,129.62 L31.55,128.77 L31.8,127.31 L32.05,125.95 L32.3,130.11 L32.55,128.13 L32.8,129.35 L33.05,130.14 L33.3,129.3 L33.55,130.33 L33.8,127.68 L34.05,129.7 L34.3,127.91 L34.55,130.35 L34.8,130.06 L35.05,126.14 L35.3,126.32 L35.55,126.71 L35.8,130.44 L36.05,127.78 L36.3,128.72 L36.55,127.08 L36.8,128.1 L37.05,127.48 L37.3,127.3 L37.55,128.46 L37.8,128.44 L38.05,130.03 L38.3,128.91 L38.55,130.13 L38.8,129.75 L39.05,130.42 L39.3,128.81 L39.55,126.25 L39.8,129.73 L40.05,130.24 L40.3,129.93 L40.55,128.24 L40.8,128.95 L41.05,126.42 L41.3,129.51 L41.55,128.21 L41.8,126.76 L42.05,125.64 L42.3,129.58 L42.55,130.24 L42.8,125.73 L43.05,129.28 L43.3,127.31 L43.55,126 L43.8,126.71 L44.05,129.07 L44.3,129.58 L44.55,125.42 L44.8,128.26 L45.05,125.4 L45.3,128.76 L45.55,126.81 L45.8,129.55 L46.05,130.03 L46.3,127.65 L46.55,130.1 L46.8,126.64 L47.05,125.47 L47.3,128.07 L47.55,125.22 L47.8,126.03 L48.05,127.08 L48.3,128.08 L48.55,125.79 L48.8,125.21 L49.05,129.33 L49.3,126.55 L49.55,129.76 L49.8,129.44 L50.05,126.83 L50.3,127.23 L50.55,127.52 L50.8,128.13 L51.05,127.87 L51.3,127.68 L51.55,127.97 L51.8,129.56 L52.05,127.38 L52.3,126.99 L52.55,128.42 L52.8,126 L53.05,126.3 L53.3,129.68 L53.55,127.38 L53.8,127.51 L54.05,124.81 L54.3,126.82 L54.55,127.63 L54.8,124.82 L55.05,127.78 L55.3,127.85 L55.55,124.98 L55.8,127.81 L56.05,126.99 L56.3,128.04 L56.55,126.4 L56.8,128.16 L57.05,128.3 L57.3,124.71 L57.55,124.89 L57.8,127.95 L58.05,129.38 L58.3,125.81 L58.55,126.82 L58.8,127.49 L59.05,126.11 L59.3,126.32 L59.55,126.05 L59.8,126.32 L60.05,127.44 L60.3,125.95 L60.55,126.31 L60.8,128.27 L61.05,124.53 L61.3,127.22 L61.55,128.03 L61.8,125.89 L62.05,125.43 L62.3,128.32 L62.55,125.47 L62.8,125.2 L63.05,126.42 L63.3,127.71 L63.55,124.71 L63.8,125.8 L64.05,125.84 L64.3,128.32 L64.55,126.32 L64.8,128.39 L65.05,124.94 L65.3,125.76 L65.55,127.31 L65.8,128.46 L66.05,126.27 L66.3,125.13 L66.55,124.59 L66.8,126.61 L67.05,124.9 L67.3,127.96 L67.55,128.1 L67.8,124.81 L68.05,125.26 L68.3,127.89 L68.55,127.04 L68.8,127.84 L69.05,125.52 L69.3,124.42 L69.55,125.22 L69.8,127.71 L70.05,125.08 L70.3,125.43 L70.55,125.77 L70.8,125.76 L71.05,125.69 L71.3,128.23 L71.55,124.39 L71.8,123.61 L72.05,128.29 L72.3,127.95 L72.55,128.47 L72.8,125.69 L73.05,128.25 L73.3,128.11 L73.55,124.57 L73.8,127.17 L74.05,127.6 L74.3,126.72 L74.55,125.98 L74.8,124.81 L75.05,125.05 L75.3,124.46 L75.55,123.65 L75.8,126.23 L76.05,124.71 L76.3,127.3 L76.55,123.46 L76.8,127.73 L77.05,126.66 L77.3,127.8 L77.55,127.64 L77.8,127.64 L78.05,126 L78.3,123.17 L78.55,126.81 L78.8,123.92 L79.05,124.54 L79.3,126.34 L79.55,125.63 L79.8,125.06 L80.05,127.66 L80.3,126.01 L80.55,124.64 L80.8,124.17 L81.05,127.2 L81.3,125.26 L81.55,126.77 L81.8,124.59 L82.05,123.8 L82.3,125.47 L82.55,126.86 L82.8,123.62 L83.05,126.7 L83.3,127.33 L83.55,126.73 L83.8,126.8 L84.05,122.7 L84.3,125.79 L84.55,126.94 L84.8,122.86 L85.05,123.95 L85.3,123.91 L85.55,125.19 L85.8,124.65 L86.05,124.88 L86.3,126.37 L86.55,122.48 L86.8,122.73 L87.05,123.07 L87.3,123.04 L87.55,122.74 L87.8,127.25 L88.05,126.63 L88.3,122.77 L88.55,124.83 L88.8,123.88 L89.05,123.85 L89.3,124.02 L89.55,125.48 L89.8,125.15 L90.05,124.01 L90.3,123.13 L90.55,123.8 L90.8,122.74 L91.05,124.85 L91.3,125.58 L91.55,123.79 L91.8,122.11 L92.05,122.34 L92.3,122.95 L92.55,123.63 L92.8,123.95 L93.05,121.32 L93.3,122.82 L93.55,121.43 L93.8,120.15 L94.05,119.76 L94.3,120.53 L94.55,121.93 L94.8,121.04 L95.05,122.99 L95.3,122.4 L95.55,121.82 L95.8,123.67 L96.05,124.75 L96.3,121.82 L96.55,123.7 L96.8,123.77 L97.05,126.06 L97.3,126.35 L97.55,123.53 L97.8,126.14 L98.05,125.59 L98.3,122.93 L98.55,123.93 L98.8,122.2 L99.05,125.64 L99.3,124.87 L99.55,125.98 L99.8,125.49 L100.05,124.84 L100.3,125.16 L100.55,124.29 L100.8,121.97 L101.05,124.38 L101.3,121.45 L101.55,122.12 L101.8,125.26 L102.05,121.59 L102.3,121.81 L102.55,121.83 L102.8,125.72 L103.05,122.2 L103.3,121.4 L103.55,125.47 L103.8,121.85 L104.05,125.45 L104.3,124.58 L104.55,125.37 L104.8,125.94 L105.05,124.05 L105.3,125.13 L105.55,121.3 L105.8,124.94 L106.05,123.64 L106.3,124.64 L106.55,121.58 L106.8,124.77 L107.05,125.67 L107.3,121.29 L107.55,122.58 L107.8,123.76 L108.05,125.06 L108.3,122.11 L108.55,121.78 L108.8,122.1 L109.05,123.91 L109.3,124.58 L109.55,122.76 L109.8,122.6 L110.05,122.72 L110.3,122.46 L110.55,122.76 L110.8,121.05 L111.05,123.1 L111.3,125.43 L111.55,122.59 L111.8,124.22 L112.05,121.25 L112.3,123.86 L112.55,124.15 L112.8,123.7 L113.05,122.87 L113.3,122.66 L113.55,123.41 L113.8,124.64 L114.05,120.86 L114.3,120.54 L114.55,123.76 L114.8,124.55 L115.05,122.5 L115.3,122.08 L115.55,123.41 L115.8,120.69 L116.05,121.04 L116.3,120.64 L116.55,122.51 L116.8,121.09 L117.05,120.61 L117.3,122.84 L117.55,124.08 L117.8,120.71 L118.05,122.68 L118.3,121.16 L118.55,123.29 L118.8,121.87 L119.05,120.21 L119.3,119.88 L119.55,118.81 L119.8,121 L120.05,120.41 L120.3,119.24 L120.55,120.06 L120.8,119.73 L121.05,121.85 L121.3,118.54 L121.55,122.6 L121.8,119.86 L122.05,120.26 L122.3,119.39 L122.55,120.98 L122.8,120.67 L123.05,119.08 L123.3,118.41 L123.55,119.3 L123.8,119.67 L124.05,117.04 L124.3,118.14 L124.55,116.81 L124.8,99.72 L125.05,29.24 L125.3,-50 L125.55,-50 L125.8,-50 L126.05,-50 L126.3,-50 L126.55,-50 L126.8,-50 L127.05,-50 L127.3,-50 L127.55,71.12 L127.8,110.45 L128.05,117.92 L128.3,115.92 L128.55,119.38 L128.8,116.93 L129.05,117.78 L129.3,119.59 L129.55,116.64 L129.8,116.92 L130.05,120.86 L130.3,118.36 L130.55,118.88 L130.8,120.17 L131.05,120.81 L131.3,117.62 L131.55,119.4 L131.8,120.03 L132.05,120.39 L132.3,119.12 L132.55,121.09 L132.8,123.03 L133.05,120.29 L133.3,121.13 L133.55,119.07 L133.8,119.91 L134.05,121.91 L134.3,119.2 L134.55,123.12 L134.8,123.27 L135.05,119.25 L135.3,123.51 L135.55,120.7 L135.8,122.72 L136.05,122.68 L136.3,120.39 L136.55,122.31 L136.8,122.22 L137.05,123 L137.3,120.32 L137.55,122.77 L137.8,123.82 L138.05,122.39 L138.3,121.71 L138.55,119.61 L138.8,121.52 L139.05,120.81 L139.3,122.65 L139.55,122.45 L139.8,121.89 L140.05,119.97 L140.3,122.3 L140.55,122.23 L140.8,119.98 L141.05,123.53 L141.3,122.36 L141.55,119.71 L141.8,123.75 L142.05,119.8 L142.3,120.75 L142.55,122.69 L142.8,122.07 L143.05,121.86 L143.3,122.31 L143.55,121.36 L143.8,120.62 L144.05,119.93 L144.3,119.38 L144.55,122.61 L144.8,122.79 L145.05,121.72 L145.3,122.68 L145.55,120.76 L145.8,120.27 L146.05,120.84 L146.3,123.26 L146.55,119.08 L146.8,121.36 L147.05,120.04 L147.3,122.61 L147.55,120.5 L147.8,120.35 L148.05,120.66 L148.3,121.3 L148.55,122.4 L148.8,120.24 L149.05,122.65 L149.3,118.9 L149.55,119.62 L149.8,118.68 L150.05,118.65 L150.3,121.88 L150.55,121.52 L150.8,118.69 L151.05,118.58 L151.3,119.57 L151.55,121.05 L151.8,121.24 L152.05,120.72 L152.3,119.74 L152.55,117.29 L152.8,118.31 L153.05,117.04 L153.3,118.43 L153.55,118.35 L153.8,116.22 L154.05,116.14 L154.3,118.48 L154.55,114.41 L154.8,117.95 L155.05,117.6 L155.3,106.55 L155.55,-16.71 L155.8,-50 L156.05,-50 L156.3,-50 L156.55,-50 L156.8,-50 L157.05,-17.11 L157.3,106.14 L157.55,115.61 L157.8,117 L158.05,117.95 L158.3,114.66 L158.55,118.83 L158.8,118.6 L159.05,118.07 L159.3,118.52 L159.55,118.49 L159.8,117.41 L160.05,119.34 L160.3,117.1 L160.55,119.63 L160.8,120.55 L161.05,119.72 L161.3,120.5 L161.55,122.61 L161.8,122.42 L162.05,118.77 L162.3,122.17 L162.55,121.43 L162.8,118.67 L163.05,120.31 L163.3,119.77 L163.55,119.07 L163.8,121.45 L164.05,123.47 L164.3,120.51 L164.55,123.3 L164.8,122.48 L165.05,119.73 L165.3,123.4 L165.55,122.16 L165.8,123.83 L166.05,122.82 L166.3,122.98 L166.55,121.03 L166.8,123.38 L167.05,124.04 L167.3,123.72 L167.55,121.63 L167.8,123.25 L168.05,121.92 L168.3,120.07 L168.55,119.76 L168.8,119.96 L169.05,120.59 L169.3,120.42 L169.55,122.12 L169.8,123.15 L170.05,122.36 L170.3,121.8 L170.55,122.95 L170.8,121.24 L171.05,122.06 L171.3,123.54 L171.55,121.77 L171.8,120.68 L172.05,124.29 L172.3,123.4 L172.55,121.65 L172.8,121.68 L173.05,122.49 L173.3,122.84 L173.55,120.98 L173.8,119.89 L174.05,120.93 L174.3,123.81 L174.55,120.62 L174.8,122.21 L175.05,120.9 L175.3,120.98 L175.55,120.8 L175.8,121.97 L176.05,120.8 L176.3,120.11 L176.55,120.53 L176.8,120.83 L177.05,122.44 L177.3,120.3 L177.55,120.12 L177.8,122.25 L178.05,122.06 L178.3,123.55 L178.55,120.29 L178.8,122.06 L179.05,122.03 L179.3,120.19 L179.55,124.89 L179.8,121.16 L180.05,120.55 L180.3,122.45 L180.55,120.91 L180.8,123.2 L181.05,121.83 L181.3,120.72 L181.55,120.37 L181.8,123.75 L182.05,121.5 L182.3,124.06 L182.55,122.46 L182.8,124.8 L183.05,121.64 L183.3,121.4 L183.55,121.48 L183.8,124.23 L184.05,123.31 L184.3,121.89 L184.55,120.64 L184.8,123.59 L185.05,125.03 L185.3,123.15 L185.55,120.21 L185.8,120.35 L186.05,120.65 L186.3,121.06 L186.55,120.39 L186.8,120.48 L187.05,123.49 L187.3,124.72 L187.55,121.23 L187.8,125.1 L188.05,122.62 L188.3,124.26 L188.55,124.83 L188.8,124.95 L189.05,120.42 L189.3,121.78 L189.55,123.3 L189.8,125 L190.05,120.71 L190.3,121.74 L190.55,124.53 L190.8,120.85 L191.05,122.23 L191.3,121.96 L191.55,123.69 L191.8,124.94 L192.05,121.17 L192.3,124 L192.55,123.98 L192.8,124.49 L193.05,123.08 L193.3,124.94 L193.55,122.14 L193.8,122.4 L194.05,121.48 L194.3,124.23 L194.55,122.74 L194.8,121.69 L195.05,121.19 L195.3,123.95 L195.55,123.38 L195.8,123.91 L196.05,122.29 L196.3,122.8 L196.55,121.13 L196.8,123.92 L197.05,120.49 L197.3,122.71 L197.55,124.17 L197.8,123.77 L198.05,120.87 L198.3,121.58 L198.55,124.61 L198.8,123.61 L199.05,124.79 L199.3,124.76 L199.55,122.66 L199.8,124.89 L200.05,124.07 L200.3,122.07 L200.55,122.25 L200.8,120.75 L201.05,122.38 L201.3,125.15 L201.55,120.89 L201.8,123.21 L202.05,120.91 L202.3,120.75 L202.55,123.59 L202.8,121.54 L203.05,120.57 L203.3,121.08 L203.55,123.54 L203.8,123.23 L204.05,120.36 L204.3,121.44 L204.55,125.12 L204.8,121.38 L205.05,123.08 L205.3,122.36 L205.55,124.16 L205.8,123.27 L206.05,124.19 L206.3,122.91 L206.55,121.17 L206.8,121.11 L207.05,120.61 L207.3,124.33 L207.55,120.76 L207.8,120.31 L208.05,125.02 L208.3,121.17 L208.55,124.64 L208.8,120.59 L209.05,122.48 L209.3,121.26 L209.55,124.29 L209.8,123.21 L210.05,123.34 L210.3,123.93 L210.55,124.47 L210.8,121.84 L211.05,123.11 L211.3,122.32 L211.55,120.64 L211.8,124.25 L212.05,123.04 L212.3,124.13 L212.55,121.08 L212.8,122.74 L213.05,122.36 L213.3,123.67 L213.55,120.41 L213.8,121.75 L214.05,122.43 L214.3,120.36 L214.55,122.76 L214.8,123.66 L215.05,122.09 L215.3,123.21 L215.55,122.99 L215.8,121.03 L216.05,121.7 L216.3,124.92 L216.55,121.61 L216.8,122.08 L217.05,120.34 L217.3,121 L217.55,120.73 L217.8,124.55 L218.05,123.52 L218.3,124.25 L218.55,124.8 L218.8,122.92 L219.05,124.51 L219.3,122.53 L219.55,121.93 L219.8,124.57 L220.05,124.34 L220.3,124.56 L220.55,122.23 L220.8,123.67 L221.05,121.83 L221.3,124.77 L221.55,124.38 L221.8,121.23 L222.05,124.43 L222.3,120.67 L222.55,120.22 L222.8,123.35 L223.05,121.2 L223.3,122.32 L223.55,122.91 L223.8,119.9 L224.05,123.42 L224.3,121.06 L224.55,121.84 L224.8,121.39 L225.05,123.37 L225.3,123.38 L225.55,121.08 L225.8,120.15 L226.05,121.12 L226.3,121.67 L226.55,120 L226.8,120.37 L227.05,123.4 L227.3,123.08 L227.55,124.45 L227.8,124.46 L228.05,123.94 L228.3,121.41 L228.55,120.34 L228.8,121.09 L229.05,121.83 L229.3,122.14 L229.55,122.21 L229.8,121.29 L230.05,123.74 L230.3,120.9 L230.55,121.78 L230.8,123.89 L231.05,123.48 L231.3,120.92 L231.55,120.63 L231.8,123.44 L232.05,119.45 L232.3,120.05 L232.55,122.03 L232.8,122.05 L233.05,120.19 L233.3,119.6 L233.55,120.36 L233.8,123.18 L234.05,121.64 L234.3,124.2 L234.55,123.22 L234.8,124.18 L235.05,119.45 L235.3,120.18 L235.55,119.31 L235.8,121.4 L236.05,120.91 L236.3,119.47 L236.55,121.93 L236.8,119.65 L237.05,120.73 L237.3,120.39 L237.55,123.15 L237.8,121.22 L238.05,120.42 L238.3,119.32 L238.55,121.23 L238.8,122.21 L239.05,122.43 L239.3,123.6 L239.55,123.06 L239.8,120.24 L240.05,119.67 L240.3,122.76 L240.55,122.9 L240.8,121.48 L241.05,123.07 L241.3,121.65 L241.55,120.27 L241.8,119.7 L242.05,118.92 L242.3,122.02 L242.55,123.27 L242.8,123.29 L243.05,121.07 L243.3,122.04 L243.55,123.32 L243.8,122.72 L244.05,121.64 L244.3,120.66 L244.55,121.15 L244.8,119.38 L245.05,119.4 L245.3,121.87 L245.55,123.37 L245.8,121.11 L246.05,120.37 L246.3,120.04 L246.55,120.5 L246.8,122.19 L247.05,120.38 L247.3,122.86 L247.55,118.78 L247.8,119.51 L248.05,120.47 L248.3,119.84 L248.55,121.95 L248.8,121.75 L249.05,122.17 L249.3,120.47 L249.55,117.45 L249.8,120.05 L250.05,119.8 L250.3,119.35 L250.55,118.15 L250.8,120.14 L251.05,120.97 L251.3,116.73 L251.55,119.35 L251.8,117.63 L252.05,118.11 L252.3,119.75 L252.55,119.79 L252.8,117.91 L253.05,115.36 L253.3,118.66 L253.55,114.63 L253.8,115.31 L254.05,117.21 L254.3,114.34 L254.55,113.4 L254.8,99.07 L255.05,-50 L255.3,-50 L255.55,-50 L255.8,-50 L256.05,-50 L256.3,53.86 L256.55,115.04 L256.8,112.95 L257.05,114.01 L257.3,114.17 L257.55,113.88 L257.8,116.43 L258.05,117.83 L258.3,118.61 L258.55,117.86 L258.8,119.07 L259.05,115.26 L259.3,116.88 L259.55,120.5 L259.8,116.24 L260.05,117.42 L260.3,118.66 L260.55,117.75 L260.8,119.28 L261.05,116.92 L261.3,117.98 L261.55,121.7 L261.8,117.73 L262.05,121.63 L262.3,118.08 L262.55,122.23 L262.8,120.71 L263.05,120.64 L263.3,118.17 L263.55,117.79 L263.8,121.37 L264.05,118.5 L264.3,118.61 L264.55,121.81 L264.8,122.11 L265.05,118.01 L265.3,122.6 L265.55,120.5 L265.8,119.76 L266.05,118.41 L266.3,119.85 L266.55,122.86 L266.8,119.34 L267.05,118.61 L267.3,118.7 L267.55,118.62 L267.8,119.76 L268.05,122.59 L268.3,118.41 L268.55,118.99 L268.8,122.74 L269.05,123.04" fill="none" stroke="#0000ff" stroke-width="1.35" stroke-linejoin="round" stroke-linecap="round" />
</g>
<line x1="45" y1="187.3" x2="45" y2="198.8" stroke="#ff0000" stroke-width="1.3"/>
<line x1="74.2" y1="181.5" x2="74.2" y2="198.8" stroke="#ff0000" stroke-width="1.3"/>
<line x1="94" y1="181" x2="94" y2="198.8" stroke="#0000ff" stroke-width="1.3"/>
<line x1="126.25" y1="181" x2="126.25" y2="198.8" stroke="#000" stroke-width="1.3"/>
<line x1="156.3" y1="195.5" x2="156.3" y2="198.8" stroke="#000" stroke-width="1.3"/>
<line x1="256" y1="182" x2="256" y2="198.8" stroke="#00dd00" stroke-width="1.5"/>
<rect x="25.8" y="8.3" width="243.4" height="190.5" fill="none" stroke="#000" stroke-width="1.7"/>
<line x1="25.8" y1="198.8" x2="25.8" y2="203.1" stroke="#000" stroke-width="1.2"/>
<line x1="46.08" y1="198.8" x2="46.08" y2="201.4" stroke="#000" stroke-width="1.2"/>
<line x1="66.37" y1="198.8" x2="66.37" y2="203.1" stroke="#000" stroke-width="1.2"/>
<line x1="86.65" y1="198.8" x2="86.65" y2="201.4" stroke="#000" stroke-width="1.2"/>
<line x1="106.93" y1="198.8" x2="106.93" y2="203.1" stroke="#000" stroke-width="1.2"/>
<line x1="127.22" y1="198.8" x2="127.22" y2="201.4" stroke="#000" stroke-width="1.2"/>
<line x1="147.5" y1="198.8" x2="147.5" y2="203.1" stroke="#000" stroke-width="1.2"/>
<line x1="167.78" y1="198.8" x2="167.78" y2="201.4" stroke="#000" stroke-width="1.2"/>
<line x1="188.07" y1="198.8" x2="188.07" y2="203.1" stroke="#000" stroke-width="1.2"/>
<line x1="208.35" y1="198.8" x2="208.35" y2="201.4" stroke="#000" stroke-width="1.2"/>
<line x1="228.63" y1="198.8" x2="228.63" y2="203.1" stroke="#000" stroke-width="1.2"/>
<line x1="248.92" y1="198.8" x2="248.92" y2="201.4" stroke="#000" stroke-width="1.2"/>
<line x1="269.2" y1="198.8" x2="269.2" y2="203.1" stroke="#000" stroke-width="1.2"/>
<text x="0" y="0" font-family="Liberation Serif" font-weight="bold" font-size="10.56" text-anchor="middle" fill="#000" transform="translate(25.8 213.2) scale(0.9091 1)" >20</text>
<text x="0" y="0" font-family="Liberation Serif" font-weight="bold" font-size="10.56" text-anchor="middle" fill="#000" transform="translate(66.37 213.2) scale(0.9091 1)" >30</text>
<text x="0" y="0" font-family="Liberation Serif" font-weight="bold" font-size="10.56" text-anchor="middle" fill="#000" transform="translate(106.93 213.2) scale(0.9091 1)" >40</text>
<text x="0" y="0" font-family="Liberation Serif" font-weight="bold" font-size="10.56" text-anchor="middle" fill="#000" transform="translate(147.5 213.2) scale(0.9091 1)" >50</text>
<text x="0" y="0" font-family="Liberation Serif" font-weight="bold" font-size="10.56" text-anchor="middle" fill="#000" transform="translate(188.07 213.2) scale(0.9091 1)" >60</text>
<text x="0" y="0" font-family="Liberation Serif" font-weight="bold" font-size="10.56" text-anchor="middle" fill="#000" transform="translate(228.63 213.2) scale(0.9091 1)" >70</text>
<text x="0" y="0" font-family="Liberation Serif" font-weight="bold" font-size="10.56" text-anchor="middle" fill="#000" transform="translate(269.2 213.2) scale(0.9091 1)" >80</text>
<text x="0" y="0" font-family="Liberation Serif" font-weight="bold" font-size="14.85" text-anchor="middle" fill="#000" transform="translate(166 221.3) scale(0.9091 1)" >2θ°</text>
<text x="0" y="0" font-family="Liberation Serif" font-weight="bold" font-size="14.2" text-anchor="middle" fill="#000" transform="translate(19.4 99.8) scale(0.8800 1) rotate(-90)" >Intensity (a.u.)</text>
<text x="0" y="0" font-family="Liberation Serif" font-weight="bold" font-size="23.85" text-anchor="start" fill="#000" stroke="#000" stroke-width="0.3" transform="translate(29.5 28.8) scale(0.9434 1)" >(a)</text>
<text x="0" y="0" font-family="Liberation Serif" font-weight="bold" font-size="11" text-anchor="start" fill="#e8141c" transform="translate(62.3 19.8) scale(0.8000 1)" >C - Ni</text>
<text x="0" y="0" font-family="Liberation Serif" font-weight="bold" font-size="11" text-anchor="start" fill="#8b1a1a" transform="translate(62.3 32.2) scale(0.9091 1)" >Δ – Mn<tspan font-size="6" dy="2">3</tspan><tspan dy="-2">O</tspan><tspan font-size="6" dy="2">4</tspan></text>
<text x="0" y="0" font-family="Liberation Serif" font-weight="bold" font-size="11" text-anchor="start" fill="#e61ee6" transform="translate(62.3 44.3) scale(0.9091 1)" >χ – Co<tspan font-size="6" dy="2">2</tspan><tspan dy="-2">MnO</tspan><tspan font-size="6" dy="2">4</tspan></text>
<text x="0" y="0" font-family="Liberation Serif" font-weight="bold" font-size="8.8" text-anchor="start" fill="#2e9a2e" transform="translate(62.3 56) scale(0.9091 1)" >ν – FeZn<tspan font-size="5" dy="2">0.87</tspan></text>
<line x1="160" y1="13.9" x2="187" y2="13.9" stroke="#4a4a4a" stroke-width="1.9"/>
<line x1="160" y1="30" x2="187" y2="30" stroke="#e84a4a" stroke-width="1.9"/>
<line x1="160" y1="46.2" x2="187" y2="46.2" stroke="#4a4ae0" stroke-width="1.9"/>
<text x="0" y="0" font-family="Liberation Serif" font-weight="bold" font-size="9.13" text-anchor="start" fill="#000" transform="translate(189 18.4) scale(0.9091 1)" >CoMn LDH</text>
<text x="0" y="0" font-family="Liberation Serif" font-weight="bold" font-size="8.91" text-anchor="start" fill="#000" transform="translate(189 34) scale(0.9091 1)" >CoMn@CuZnS</text>
<text x="0" y="0" font-family="Liberation Serif" font-weight="bold" font-size="8.91" text-anchor="start" fill="#000" transform="translate(189 50.3) scale(0.9091 1)" >CoMn@CuZnFeS</text>
<text x="0" y="0" font-family="Liberation Sans" font-weight="bold" font-size="9.3" text-anchor="middle" fill="#ff0000" transform="translate(136.21 34.2) scale(0.8800 1) rotate(-90)" >χ ( 111)</text>
<text x="0" y="0" font-family="Liberation Sans" font-weight="bold" font-size="9" text-anchor="middle" fill="#ff0000" transform="translate(166.22 76) scale(0.8800 1) rotate(-90)" >χ (200)</text>
<text x="0" y="0" font-family="Liberation Sans" font-weight="bold" font-size="8.5" text-anchor="middle" fill="#3030a0" transform="translate(43.44 154) scale(0.8800 1) rotate(-90)" >Δ (112)</text>
<text x="0" y="0" font-family="Liberation Sans" font-weight="bold" font-size="8.5" text-anchor="middle" fill="#3030a0" transform="translate(82.64 145.6) scale(0.8800 1) rotate(-90)" >Δ (220)</text>
<text x="0" y="0" font-family="Liberation Sans" font-weight="bold" font-size="8.5" text-anchor="middle" fill="#2e9a2e" transform="translate(96.44 103) scale(0.8800 1) rotate(-90)" >ν (041)</text>
<text x="0" y="0" font-family="Liberation Sans" font-weight="bold" font-size="8.7" text-anchor="middle" fill="#000" transform="translate(264.63 78) scale(0.8800 1) rotate(-90)" ><tspan fill="#ff2020">χ (220) NF/</tspan><tspan fill="#e61ee6"> χ (622)</tspan></text>
<rect x="302.3" y="172" width="7.1" height="27.8" fill="none" stroke="#f4a6d4" stroke-width="1.4"/>
<rect x="310.8" y="175.6" width="8" height="24.2" fill="none" stroke="#c8287c" stroke-width="1.4"/>
<rect x="345" y="115.4" width="7.6" height="84.4" fill="none" stroke="#2a2ac0" stroke-width="1.4"/>
<rect x="394.9" y="43.3" width="6.9" height="156.5" fill="none" stroke="#a040c8" stroke-width="1.4"/>
<rect x="417.3" y="120.3" width="8.1" height="79.5" fill="none" stroke="#2ea02e" stroke-width="1.4"/>
<rect x="431.5" y="106.6" width="9.1" height="93.2" fill="none" stroke="#b84040" stroke-width="1.4"/>
<rect x="443.6" y="55" width="11.6" height="144.8" fill="none" stroke="#9a40e8" stroke-width="1.4"/>
<rect x="459.6" y="21.4" width="12.6" height="178.4" fill="none" stroke="#e84848" stroke-width="1.4"/>
<rect x="482.5" y="45.8" width="13" height="154" fill="none" stroke="#40d6c8" stroke-width="1.4"/>
<g clip-path="url(#cb)">
<path d="M292,192.9 L292.25,193.52 L292.5,194.65 L292.75,194.14 L293,194.62 L293.25,195.16 L293.5,194.72 L293.75,195.72 L294,196.26 L294.25,196.88 L294.5,195.77 L294.75,196.48 L295,196.31 L295.25,197.95 L295.5,197.86 L295.75,196.62 L296,198.46 L296.25,198.23 L296.5,197.26 L296.75,196.73 L297,195.31 L297.25,194.53 L297.5,195.1 L297.75,193.82 L298,193.88 L298.25,193.98 L298.5,193.69 L298.75,194.77 L299,195.01 L299.25,196.11 L299.5,195.73 L299.75,196.18 L300,196 L300.25,196.32 L300.5,195.86 L300.75,195.42 L301,196.73 L301.25,196.57 L301.5,196.08 L301.75,195.62 L302,194.63 L302.25,194.37 L302.5,194.53 L302.75,194.14 L303,195.32 L303.25,193.93 L303.5,193.69 L303.75,190.88 L304,189.59 L304.25,186.63 L304.5,182.14 L304.75,179.91 L305,179.02 L305.25,176.5 L305.5,176.93 L305.75,176.29 L306,177.26 L306.25,180.62 L306.5,183.29 L306.75,184.23 L307,185.17 L307.25,186.36 L307.5,188.12 L307.75,188.06 L308,187 L308.25,187.39 L308.5,187.17 L308.75,187.11 L309,188.59 L309.25,187.32 L309.5,187.97 L309.75,187.57 L310,186.81 L310.25,187.59 L310.5,186.05 L310.75,186.69 L311,185.23 L311.25,185.35 L311.5,184.33 L311.75,183.78 L312,184.49 L312.25,183.46 L312.5,181.81 L312.75,182.37 L313,180.51 L313.25,180.48 L313.5,181.17 L313.75,180.72 L314,179.84 L314.25,182.05 L314.5,181.1 L314.75,181.89 L315,183.63 L315.25,183.39 L315.5,183.86 L315.75,183.84 L316,184.18 L316.25,185.41 L316.5,185.02 L316.75,185.96 L317,185.6 L317.25,185.83 L317.5,186.89 L317.75,185.98 L318,186.19 L318.25,186.81 L318.5,185.48 L318.75,185.45 L319,186.99 L319.25,186.84 L319.5,185.74 L319.75,185.65 L320,186.78 L320.25,187.21 L320.5,185.75 L320.75,187.29 L321,187.18 L321.25,186.65 L321.5,186.31 L321.75,185.7 L322,185.6 L322.25,187.47 L322.5,186.05 L322.75,187.01 L323,186.14 L323.25,187.29 L323.5,186.86 L323.75,186.28 L324,186.07 L324.25,187.18 L324.5,185.9 L324.75,186.24 L325,186.93 L325.25,187.54 L325.5,187.08 L325.75,186.44 L326,187.73 L326.25,186.33 L326.5,185.98 L326.75,186.5 L327,186.88 L327.25,186.13 L327.5,186.38 L327.75,186.79 L328,187.22 L328.25,186.36 L328.5,186.84 L328.75,187.92 L329,188.12 L329.25,187.49 L329.5,187.58 L329.75,187.39 L330,186.52 L330.25,186.33 L330.5,186.32 L330.75,188.12 L331,187.72 L331.25,188.27 L331.5,186.41 L331.75,187.66 L332,187.37 L332.25,187.88 L332.5,187.08 L332.75,188.46 L333,186.63 L333.25,187.59 L333.5,188 L333.75,188.34 L334,188.04 L334.25,187.99 L334.5,188.19 L334.75,188.45 L335,187.34 L335.25,188.03 L335.5,188.48 L335.75,188.44 L336,187.55 L336.25,188.31 L336.5,188.48 L336.75,187.92 L337,188.04 L337.25,187.57 L337.5,187.99 L337.75,188.06 L338,187.02 L338.25,188.16 L338.5,188.88 L338.75,188.67 L339,188.39 L339.25,187.73 L339.5,188.44 L339.75,188.14 L340,187.88 L340.25,188.7 L340.5,187.22 L340.75,188.57 L341,187.16 L341.25,188.33 L341.5,188.13 L341.75,187.66 L342,188.64 L342.25,188.28 L342.5,188.57 L342.75,189.24 L343,187.96 L343.25,187.54 L343.5,188.18 L343.75,189 L344,188.11 L344.25,188.09 L344.5,189.6 L344.75,189.11 L345,188.65 L345.25,189.46 L345.5,188.16 L345.75,188.61 L346,187.4 L346.25,187.47 L346.5,187.71 L346.75,187.25 L347,186.25 L347.25,183.95 L347.5,182.55 L347.75,179.79 L348,177.27 L348.25,175.19 L348.5,171.15 L348.75,166.83 L349,165.42 L349.25,167.43 L349.5,168.97 L349.75,172.19 L350,176.3 L350.25,179.12 L350.5,181.43 L350.75,184.27 L351,185.94 L351.25,185.99 L351.5,185.82 L351.75,187.03 L352,187.46 L352.25,186.54 L352.5,185.92 L352.75,185.96 L353,187.74 L353.25,186.15 L353.5,187.53 L353.75,187.29 L354,186.79 L354.25,187.77 L354.5,186.23 L354.75,186.48 L355,187.12 L355.25,186.26 L355.5,187.88 L355.75,186.7 L356,186.51 L356.25,186.33 L356.5,187.49 L356.75,187.13 L357,187.5 L357.25,187.56 L357.5,187.87 L357.75,188.17 L358,187.63 L358.25,186.66 L358.5,187.22 L358.75,186.63 L359,186.3 L359.25,187.23 L359.5,187.72 L359.75,186.65 L360,186.84 L360.25,187 L360.5,187.71 L360.75,187.36 L361,187.55 L361.25,187.84 L361.5,187.12 L361.75,187.92 L362,188.15 L362.25,186.52 L362.5,188.22 L362.75,187.8 L363,186.62 L363.25,187.27 L363.5,187.62 L363.75,188.19 L364,187.13 L364.25,187.52 L364.5,188.14 L364.75,187.98 L365,188.28 L365.25,187.33 L365.5,187.71 L365.75,186.82 L366,187.85 L366.25,188.05 L366.5,187.7 L366.75,187.86 L367,186.85 L367.25,188.23 L367.5,188.39 L367.75,188.39 L368,187.51 L368.25,188.02 L368.5,187.09 L368.75,188.27 L369,188.16 L369.25,187.15 L369.5,186.63 L369.75,187.34 L370,187.57 L370.25,188.01 L370.5,187.45 L370.75,186.53 L371,188.1 L371.25,186.61 L371.5,188.08 L371.75,186.83 L372,187.16 L372.25,188.07 L372.5,186.78 L372.75,186.8 L373,187.53 L373.25,187.95 L373.5,188.19 L373.75,187.89 L374,188.4 L374.25,187.5 L374.5,188.41 L374.75,186.69 L375,186.96 L375.25,187.58 L375.5,187.11 L375.75,187.99 L376,187.81 L376.25,187.58 L376.5,188.22 L376.75,187.66 L377,187.16 L377.25,187.3 L377.5,188.24 L377.75,188.35 L378,186.96 L378.25,188.25 L378.5,188.49 L378.75,187.6 L379,187.7 L379.25,186.96 L379.5,187.63 L379.75,187.57 L380,187.77 L380.25,186.62 L380.5,188.5 L380.75,187.6 L381,187.37 L381.25,188.17 L381.5,187.7 L381.75,187.55 L382,187.95 L382.25,186.71 L382.5,187.65 L382.75,187.4 L383,188.49 L383.25,188.42 L383.5,187.12 L383.75,187.53 L384,186.83 L384.25,187.45 L384.5,188.21 L384.75,188.38 L385,187.54 L385.25,187.22 L385.5,186.97 L385.75,187.82 L386,188.43 L386.25,186.84 L386.5,188.14 L386.75,186.63 L387,186.97 L387.25,187.04 L387.5,187.95 L387.75,187.22 L388,187.29 L388.25,187.82 L388.5,186.79 L388.75,188.04 L389,186.82 L389.25,187.6 L389.5,187.07 L389.75,186.97 L390,187.63 L390.25,187.44 L390.5,187.31 L390.75,187.39 L391,187.62 L391.25,186.88 L391.5,186.96 L391.75,187.81 L392,187.82 L392.25,187.6 L392.5,188.24 L392.75,187.75 L393,188.24 L393.25,186.98 L393.5,187.99 L393.75,188.13 L394,188.31 L394.25,187.15 L394.5,187.17 L394.75,188.41 L395,187.02 L395.25,188.6 L395.5,188.39 L395.75,186.99 L396,187.31 L396.25,188.02 L396.5,187.97 L396.75,188.18 L397,188.81 L397.25,147.19 L397.5,134.18 L397.75,111.5 L398,85.66 L398.25,77.56 L398.5,102.53 L398.75,131.14 L399,143.44 L399.25,149.84 L399.5,154.43 L399.75,157.53 L400,160.53 L400.25,163.39 L400.5,165.01 L400.75,166.85 L401,166.22 L401.25,165.53 L401.5,165.02 L401.75,164.56 L402,165.6 L402.25,165.84 L402.5,166.45 L402.75,166.16 L403,166.7 L403.25,167.1 L403.5,168.66 L403.75,169.17 L404,169.22 L404.25,167.7 L404.5,167.75 L404.75,169.61 L405,168.72 L405.25,169.39 L405.5,168.58 L405.75,168.92 L406,169.07 L406.25,168.96 L406.5,169.35 L406.75,168.23 L407,169.66 L407.25,169.99 L407.5,168.72 L407.75,169.31 L408,169.93 L408.25,169.3 L408.5,168.92 L408.75,168.9 L409,169.64 L409.25,168.68 L409.5,170.47 L409.75,170.32 L410,170.16 L410.25,170.5 L410.5,170.07 L410.75,169.65 L411,170.06 L411.25,169.89 L411.5,170.86 L411.75,170.52 L412,169.45 L412.25,170.77 L412.5,170.44 L412.75,170.51 L413,170.58 L413.25,169.77 L413.5,170.74 L413.75,170.69 L414,170.3 L414.25,170.43 L414.5,170.4 L414.75,169.63 L415,170.22 L415.25,168.86 L415.5,169.35 L415.75,169.49 L416,168.46 L416.25,169.03 L416.5,169.42 L416.75,169.2 L417,168.16 L417.25,169.28 L417.5,168.12 L417.75,162.44 L418,160.32 L418.25,157.92 L418.5,155.4 L418.75,152.57 L419,151.17 L419.25,147.8 L419.5,145.27 L419.75,142.75 L420,140.6 L420.25,136.17 L420.5,134.92 L420.75,132.9 L421,129.9 L421.25,128.48 L421.5,126.61 L421.75,126.56 L422,127.63 L422.25,129.3 L422.5,132.79 L422.75,136.99 L423,138.1 L423.25,139.12 L423.5,141.1 L423.75,141.27 L424,142.96 L424.25,142.95 L424.5,143.87 L424.75,142.84 L425,144.2 L425.25,144.74 L425.5,143.47 L425.75,145.36 L426,143.88 L426.25,144.52 L426.5,143.88 L426.75,144.45 L427,144.52 L427.25,143.2 L427.5,144.69 L427.75,143.28 L428,143.05 L428.25,142.62 L428.5,141.46 L428.75,140.49 L429,140.32 L429.25,139.15 L429.5,137.57 L429.75,137.38 L430,135.48 L430.25,133.89 L430.5,133.36 L430.75,132 L431,131.31 L431.25,131.6 L431.5,129.95 L431.75,130.02 L432,128.77 L432.25,126.41 L432.5,127.33 L432.75,126.28 L433,123.6 L433.25,124.32 L433.5,122.46 L433.75,121.65 L434,121.78 L434.25,119.47 L434.5,119.25 L434.75,119.33 L435,118.23 L435.25,117.14 L435.5,117.66 L435.75,117.06 L436,116.53 L436.25,115.67 L436.5,117.05 L436.75,117.31 L437,117.58 L437.25,118.14 L437.5,119.91 L437.75,119.77 L438,120.89 L438.25,121.73 L438.5,121.72 L438.75,121.77 L439,122.85 L439.25,122.95 L439.5,124.07 L439.75,123.95 L440,125.2 L440.25,125.37 L440.5,125.13 L440.75,124.25 L441,124.03 L441.25,125.52 L441.5,125.19 L441.75,124.71 L442,123.96 L442.25,123.51 L442.5,124.01 L442.75,123.35 L443,122.92 L443.25,122.44 L443.5,122.04 L443.75,120.19 L444,119.5 L444.25,119.96 L444.5,118.68 L444.75,117.31 L445,114.24 L445.25,112.82 L445.5,111.72 L445.75,110.49 L446,109.37 L446.25,106.86 L446.5,106.35 L446.75,104.17 L447,103.17 L447.25,103.55 L447.5,102.66 L447.75,102.4 L448,101.68 L448.25,101.92 L448.5,101.53 L448.75,101.99 L449,102.99 L449.25,103.45 L449.5,102.35 L449.75,102.99 L450,104.97 L450.25,105.2 L450.5,106.07 L450.75,105.47 L451,106.33 L451.25,106.39 L451.5,107.8 L451.75,107.14 L452,107.91 L452.25,108.69 L452.5,107.47 L452.75,107.99 L453,108.46 L453.25,108.85 L453.5,107.91 L453.75,107.83 L454,107.31 L454.25,108.88 L454.5,107.3 L454.75,107.31 L455,108.27 L455.25,108.1 L455.5,108.49 L455.75,107.7 L456,108.62 L456.25,107.2 L456.5,107.43 L456.75,108.28 L457,107.08 L457.25,107.46 L457.5,108.23 L457.75,108.08 L458,107.17 L458.25,106.77 L458.5,107.08 L458.75,107.68 L459,106.78 L459.25,106 L459.5,106.67 L459.75,105.47 L460,104.84 L460.25,103.05 L460.5,99.95 L460.75,94.52 L461,90.61 L461.25,85.06 L461.5,80.31 L461.75,75.53 L462,71.51 L462.25,66.19 L462.5,59.5 L462.75,53.34 L463,45.97 L463.25,38.44 L463.5,31.78 L463.75,27.17 L464,25.87 L464.25,30.57 L464.5,39.11 L464.75,47.75 L465,55.67 L465.25,61.11 L465.5,66.4 L465.75,73.42 L466,78.99 L466.25,82.02 L466.5,82.97 L466.75,75.87 L467,65.09 L467.25,59.66 L467.5,55.62 L467.75,51.35 L468,49.61 L468.25,47.76 L468.5,49.37 L468.75,51.19 L469,51.59 L469.25,53.71 L469.5,57.97 L469.75,62.59 L470,65.6 L470.25,70.51 L470.5,70.93 L470.75,72.45 L471,69.94 L471.25,66.26 L471.5,64.43 L471.75,65.02 L472,63.86 L472.25,64.53 L472.5,63.49 L472.75,63.47 L473,65.58 L473.25,64.97 L473.5,64.73 L473.75,65.19 L474,66.08 L474.25,66.39 L474.5,67.37 L474.75,66.21 L475,67.8 L475.25,67.65 L475.5,68.52 L475.75,68.66 L476,69 L476.25,69.39 L476.5,69.81 L476.75,69.07 L477,68.92 L477.25,69.68 L477.5,70.15 L477.75,69.2 L478,69.38 L478.25,68.74 L478.5,70.7 L478.75,71.63 L479,69.95 L479.25,69.5 L479.5,69.78 L479.75,70.61 L480,70.38 L480.25,72.59 L480.5,70.05 L480.75,71.01 L481,70.64 L481.25,72.46 L481.5,73.06 L481.75,71.5 L482,71.36 L482.25,72.76 L482.5,73.33 L482.75,74.49 L483,72.03 L483.25,72.39 L483.5,72.72 L483.75,72.89 L484,72.96 L484.25,74.32 L484.5,73.77 L484.75,72.29 L485,71.5 L485.25,70.51 L485.5,68.23 L485.75,68.19 L486,65.44 L486.25,64.79 L486.5,64.09 L486.75,61.51 L487,59.28 L487.25,59.61 L487.5,58.17 L487.75,55.01 L488,54.31 L488.25,54.35 L488.5,51.91 L488.75,50.34 L489,49.35 L489.25,52.08 L489.5,52.15 L489.75,51.82 L490,53.49 L490.25,54.91 L490.5,55.72 L490.75,59.35 L491,59.64 L491.25,59.33 L491.5,59.13 L491.75,60.58 L492,60.08 L492.25,60.95 L492.5,60.13 L492.75,59.13 L493,57.02 L493.25,56.21 L493.5,55.9 L493.75,54.94 L494,56.11 L494.25,54.39 L494.5,53.96 L494.75,54.16 L495,51.16 L495.25,51.28 L495.5,49.74 L495.75,51.51 L496,49.46 L496.25,52.7 L496.5,53.94 L496.75,55.01 L497,53.69 L497.25,54.97 L497.5,56.85 L497.75,55.42 L498,56.94 L498.25,57.19 L498.5,58.93 L498.75,58.06 L499,59.11 L499.25,57.67 L499.5,59.33 L499.75,58.42 L500,60.11 L500.25,57.82 L500.5,60.2 L500.75,58.52 L501,59.7 L501.25,59.81 L501.5,58.87 L501.75,61.06 L502,59.65 L502.25,59.8 L502.5,59.25 L502.75,60.09 L503,60.72 L503.25,61.62 L503.5,60.7 L503.75,61.83 L504,60.23 L504.25,61.24 L504.5,61.59 L504.75,63.25 L505,62.99 L505.25,62.6 L505.5,60.82 L505.75,62.06 L506,63.2 L506.25,61.91 L506.5,63.03 L506.75,62.84 L507,61.63 L507.25,64.7 L507.5,64.25 L507.75,62.61 L508,63.96 L508.25,63.11 L508.5,63.49 L508.75,64.1 L509,63.5 L509.25,63.74 L509.5,64.02 L509.75,64.97 L510,63.86 L510.25,63.81 L510.5,65.52 L510.75,64.44 L511,66.4 L511.25,65.38 L511.5,65.98 L511.75,64.92 L512,66.53 L512.25,64.44 L512.5,64.71 L512.75,64.69 L513,66.56 L513.25,66.77 L513.5,65.3 L513.75,66.09 L514,67.52 L514.25,66.91 L514.5,65.52 L514.75,66.06 L515,65.97 L515.25,66 L515.5,66.97 L515.75,66.09 L516,68.76 L516.25,67.41 L516.5,67.78 L516.75,68.32 L517,68.8 L517.25,69.09 L517.5,67.91 L517.75,67.87 L518,68.24 L518.25,67.17 L518.5,68.45 L518.75,69.47 L519,70.45 L519.25,69.99 L519.5,69.73 L519.75,69.7 L520,68.06 L520.25,69.12 L520.5,69.28 L520.75,70.33 L521,68.82 L521.25,69.76 L521.5,70.28 L521.75,71.24 L522,71.48 L522.25,70.96 L522.5,69.73 L522.75,71.67 L523,72.21 L523.25,71.27 L523.5,70.81 L523.75,71.38 L524,70.43 L524.25,72.27 L524.5,73.21 L524.75,71.92 L525,72.65 L525.25,73.13 L525.5,71.34 L525.75,73.71 L526,72.88 L526.25,71.72 L526.5,71.5 L526.75,72.11 L527,73.23 L527.25,73.72 L527.5,72.74 L527.75,74.66 L528,73.08 L528.25,73.51 L528.5,72.62 L528.75,75.3 L529,72.91 L529.25,75.34 L529.5,74.38 L529.75,74.56 L530,74.68 L530.25,73.92 L530.5,75.98 L530.75,76.35 L531,75.95 L531.25,75.43 L531.5,74.12 L531.75,76.35 L532,74.87 L532.25,76.82 L532.5,74.97 L532.75,76.1 L533,76.99 L533.25,75.06 L533.5,76.14" fill="none" stroke="#000" stroke-width="1.25" stroke-linejoin="round" stroke-linecap="round" />
</g>
<rect x="291.6" y="8.2" width="242" height="192.2" fill="none" stroke="#000" stroke-width="1.7"/>
<line x1="291.6" y1="200.4" x2="291.6" y2="204.4" stroke="#000" stroke-width="1.2"/>
<line x1="311.77" y1="200.4" x2="311.77" y2="202.9" stroke="#000" stroke-width="1.2"/>
<line x1="331.93" y1="200.4" x2="331.93" y2="204.4" stroke="#000" stroke-width="1.2"/>
<line x1="352.1" y1="200.4" x2="352.1" y2="202.9" stroke="#000" stroke-width="1.2"/>
<line x1="372.27" y1="200.4" x2="372.27" y2="204.4" stroke="#000" stroke-width="1.2"/>
<line x1="392.43" y1="200.4" x2="392.43" y2="202.9" stroke="#000" stroke-width="1.2"/>
<line x1="412.6" y1="200.4" x2="412.6" y2="204.4" stroke="#000" stroke-width="1.2"/>
<line x1="432.77" y1="200.4" x2="432.77" y2="202.9" stroke="#000" stroke-width="1.2"/>
<line x1="452.93" y1="200.4" x2="452.93" y2="204.4" stroke="#000" stroke-width="1.2"/>
<line x1="473.1" y1="200.4" x2="473.1" y2="202.9" stroke="#000" stroke-width="1.2"/>
<line x1="493.27" y1="200.4" x2="493.27" y2="204.4" stroke="#000" stroke-width="1.2"/>
<line x1="513.43" y1="200.4" x2="513.43" y2="202.9" stroke="#000" stroke-width="1.2"/>
<line x1="533.6" y1="200.4" x2="533.6" y2="204.4" stroke="#000" stroke-width="1.2"/>
<text x="0" y="0" font-family="Liberation Serif" font-weight="bold" font-size="10.56" text-anchor="middle" fill="#000" transform="translate(291.6 215) scale(0.9091 1)" >0</text>
<text x="0" y="0" font-family="Liberation Serif" font-weight="bold" font-size="10.56" text-anchor="middle" fill="#000" transform="translate(331.93 215) scale(0.9091 1)" >200</text>
<text x="0" y="0" font-family="Liberation Serif" font-weight="bold" font-size="10.56" text-anchor="middle" fill="#000" transform="translate(372.27 215) scale(0.9091 1)" >400</text>
<text x="0" y="0" font-family="Liberation Serif" font-weight="bold" font-size="10.56" text-anchor="middle" fill="#000" transform="translate(412.6 215) scale(0.9091 1)" >600</text>
<text x="0" y="0" font-family="Liberation Serif" font-weight="bold" font-size="10.56" text-anchor="middle" fill="#000" transform="translate(452.93 215) scale(0.9091 1)" >800</text>
<text x="0" y="0" font-family="Liberation Serif" font-weight="bold" font-size="10.56" text-anchor="middle" fill="#000" transform="translate(493.27 215) scale(0.9091 1)" >1000</text>
<text x="0" y="0" font-family="Liberation Serif" font-weight="bold" font-size="10.56" text-anchor="middle" fill="#000" transform="translate(533.6 215) scale(0.9091 1)" >1200</text>
<text x="0" y="0" font-family="Liberation Serif" font-weight="bold" font-size="13.2" text-anchor="middle" fill="#000" transform="translate(413.2 229.2) scale(0.9091 1)" >Binding Enegry (eV)</text>
<text x="0" y="0" font-family="Liberation Serif" font-weight="bold" font-size="13.9" text-anchor="middle" fill="#000" transform="translate(282.22 104.5) scale(0.8800 1) rotate(-90)" >Intensity (a.u.)</text>
<text x="0" y="0" font-family="Liberation Serif" font-weight="bold" font-size="23.85" text-anchor="start" fill="#000" stroke="#000" stroke-width="0.3" transform="translate(295.5 29.3) scale(0.9434 1)" >(b)</text>
<text x="0" y="0" font-family="Liberation Serif" font-weight="bold" font-size="9.8" text-anchor="middle" fill="#000" transform="translate(309.69 159.8) scale(0.8800 1) rotate(-90)" >Co 3p</text>
<text x="0" y="0" font-family="Liberation Serif" font-weight="bold" font-size="9.8" text-anchor="middle" fill="#000" transform="translate(317.99 161.3) scale(0.8800 1) rotate(-90)" >Co 3s</text>
<text x="0" y="0" font-family="Liberation Serif" font-weight="bold" font-size="9.8" text-anchor="middle" fill="#000" transform="translate(351.99 104.5) scale(0.8800 1) rotate(-90)" >C 1s</text>
<text x="0" y="0" font-family="Liberation Serif" font-weight="bold" font-size="9.8" text-anchor="middle" fill="#000" transform="translate(401.59 31) scale(0.8800 1) rotate(-90)" >O 1s</text>
<text x="0" y="0" font-family="Liberation Serif" font-weight="bold" font-size="9.8" text-anchor="middle" fill="#000" transform="translate(424.59 102.5) scale(0.8800 1) rotate(-90)" >Mn 2p</text>
<text x="0" y="0" font-family="Liberation Serif" font-weight="bold" font-size="9.8" text-anchor="middle" fill="#000" transform="translate(439.79 84.3) scale(0.8800 1) rotate(-90)" >Co LMN</text>
<text x="0" y="0" font-family="Liberation Serif" font-weight="bold" font-size="9.8" text-anchor="middle" fill="#000" transform="translate(453.19 39.5) scale(0.8800 1) rotate(-90)" >Co 2p</text>
<text x="0" y="0" font-family="Liberation Serif" font-weight="bold" font-size="9.8" text-anchor="middle" fill="#000" transform="translate(482.69 22.9) scale(0.8800 1) rotate(-90)" >Ni 2p</text>
<text x="0" y="0" font-family="Liberation Serif" font-weight="bold" font-size="9.8" text-anchor="middle" fill="#000" transform="translate(494.19 28.6) scale(0.8800 1) rotate(-90)" >OKLL</text>
<g clip-path="url(#cc)">
<path d="M26.5,396.56 L27.65,392.18 L28.8,395.79 L29.95,372.9 L31.1,400.71 L32.25,376.54 L33.4,372.45 L34.55,375.69 L35.7,375.95 L36.85,365.88 L38,362.93 L39.15,354.17 L40.3,347.87 L41.45,348.64 L42.6,353.05 L43.75,357.07 L44.9,335.95 L46.05,376.37 L47.2,348.8 L48.35,370.47 L49.5,346.8 L50.65,329.27 L51.8,338.74 L52.95,338.71 L54.1,354.74 L55.25,333.16 L56.4,339.64 L57.55,318.96 L58.7,332.75 L59.85,327.31 L61,335.19 L62.15,308.8 L63.3,316.76 L64.45,358.49 L65.6,348.52 L66.75,362.81 L67.9,358.66 L69.05,311.47 L70.2,284.81 L71.35,316.63 L72.5,330.65 L73.65,288.81 L74.8,324.03 L75.95,318.17 L77.1,292.17 L78.25,334 L79.4,299.4 L80.55,311.14 L81.7,283.85 L82.85,229.58 L84,315.49 L85.15,295.19 L86.3,273.24 L87.45,278.79 L88.6,339.04 L89.75,301.74 L90.9,293.81 L92.05,282.46 L93.2,260.66 L94.35,268.74 L95.5,303.99 L96.65,311.03 L97.8,317.86 L98.95,291.6 L100.1,270.38 L101.25,296.33 L102.4,290.19 L103.55,303.17 L104.7,319.76 L105.85,297.84 L107,314.23 L108.15,312.73 L109.3,293 L110.45,328.83 L111.6,298.98 L112.75,291.98 L113.9,310.26 L115.05,330.34 L116.2,306.42 L117.35,349.31 L118.5,335.61 L119.65,320.55 L120.8,295.41 L121.95,327.68 L123.1,311.35 L124.25,340.63 L125.4,309.71 L126.55,348.93 L127.7,363.39 L128.85,325.08 L130,345.3 L131.15,356.53 L132.3,327.05 L133.45,315.61 L134.6,341.22 L135.75,320.87 L136.9,323.05 L138.05,324.6 L139.2,350.98 L140.35,345.54 L141.5,349.51 L142.65,380.12 L143.8,332.16 L144.95,350.61 L146.1,345.78 L147.25,362.93 L148.4,337.21 L149.55,354.13 L150.7,355.45 L151.85,382.51 L153,348.82 L154.15,367.66 L155.3,351.43 L156.45,358.81 L157.6,342.43 L158.75,351.28 L159.9,361.12 L161.05,341.95 L162.2,350.11 L163.35,361.24 L164.5,391.17 L165.65,346.18 L166.8,356.88 L167.95,355.92 L169.1,350.7 L170.25,351.56 L171.4,346.12 L172.55,367.17 L173.7,370.18 L174.85,354.34 L176,347.75 L177.15,350.55 L178.3,346.11 L179.45,362.92 L180.6,353.09 L181.75,372.22 L182.9,345.77 L184.05,360.76 L185.2,373.91 L186.35,358.18 L187.5,358.89 L188.65,346.54 L189.8,368.53 L190.95,356.12 L192.1,345.3 L193.25,332.96 L194.4,357.85 L195.55,345.31 L196.7,352.18 L197.85,373.68 L199,356.32 L200.15,338.57 L201.3,327.11 L202.45,365.52 L203.6,380.96 L204.75,358.81 L205.9,351.27 L207.05,337.12 L208.2,345.57 L209.35,365.1 L210.5,343.52 L211.65,380.56 L212.8,349.89 L213.95,340.62 L215.1,360.87 L216.25,349.82 L217.4,341.07 L218.55,353.46 L219.7,355.13 L220.85,349 L222,363.19 L223.15,335.4 L224.3,405.74 L225.45,346.15 L226.6,362.98 L227.75,350.09 L228.9,357.41 L230.05,352.72 L231.2,372.23 L232.35,377.3 L233.5,357.82 L234.65,360.58 L235.8,368.69 L236.95,366.7 L238.1,370.14 L239.25,359.62 L240.4,351.82 L241.55,355.49 L242.7,385.5 L243.85,372.71 L245,345.64 L246.15,364.73 L247.3,364.19 L248.45,376.18 L249.6,359.71 L250.75,363.68 L251.9,363.4 L253.05,357.92 L254.2,381.63 L255.35,369.74 L256.5,357.08 L257.65,358.59 L258.8,350.55 L259.95,376.04" fill="none" stroke="#c8c8c8" stroke-width="0.8" stroke-linejoin="round" stroke-linecap="round" />
<path d="M25.9,420.5 L26.9,420.32 L27.9,420.15 L28.9,419.97 L29.9,419.8 L30.9,419.62 L31.9,419.44 L32.9,419.27 L33.9,419.09 L34.9,418.92 L35.9,418.74 L36.9,418.56 L37.9,418.39 L38.9,418.21 L39.9,418.04 L40.9,417.86 L41.9,417.68 L42.9,417.51 L43.9,417.33 L44.9,417.16 L45.9,416.98 L46.9,416.8 L47.9,416.63 L48.9,416.45 L49.9,416.28 L50.9,416.1 L51.9,415.93 L52.9,415.75 L53.9,415.57 L54.9,415.4 L55.9,415.22 L56.9,415.05 L57.9,414.87 L58.9,414.69 L59.9,414.52 L60.9,414.37 L61.9,414.23 L62.9,414.09 L63.9,413.95 L64.9,413.81 L65.9,413.67 L66.9,413.53 L67.9,413.39 L68.9,413.25 L69.9,413.11 L70.9,412.97 L71.9,412.83 L72.9,412.69 L73.9,412.55 L74.9,412.4 L75.9,412.26 L76.9,412.12 L77.9,411.98 L78.9,411.84 L79.9,411.7 L80.9,411.56 L81.9,411.42 L82.9,411.28 L83.9,411.14 L84.9,410.99 L85.9,410.85 L86.9,410.71 L87.9,410.57 L88.9,410.43 L89.9,410.28 L90.9,410.14 L91.9,410 L92.9,409.85 L93.9,409.71 L94.9,409.56 L95.9,409.42 L96.9,409.27 L97.9,409.11 L98.9,408.87 L99.9,408.63 L100.9,408.39 L101.9,408.15 L102.9,407.91 L103.9,407.66 L104.9,407.42 L105.9,407.17 L106.9,406.92 L107.9,406.66 L108.9,406.41 L109.9,406.14 L110.9,405.88 L111.9,405.61 L112.9,405.34 L113.9,405.06 L114.9,404.77 L115.9,404.48 L116.9,404.19 L117.9,403.88 L118.9,403.57 L119.9,403.25 L120.9,402.92 L121.9,402.58 L122.9,402.23 L123.9,401.86 L124.9,401.49 L125.9,401.1 L126.9,400.7 L127.9,400.28 L128.9,399.85 L129.9,399.4 L130.9,398.94 L131.9,398.45 L132.9,397.95 L133.9,397.43 L134.9,396.88 L135.9,396.32 L136.9,395.73 L137.9,395.12 L138.9,394.49 L139.9,393.83 L140.9,393.13 L141.9,392.39 L142.9,391.63 L143.9,390.85 L144.9,390.04 L145.9,389.21 L146.9,388.35 L147.9,387.47 L148.9,386.57 L149.9,385.65 L150.9,384.71 L151.9,383.74 L152.9,382.76 L153.9,381.76 L154.9,380.75 L155.9,379.73 L156.9,378.69 L157.9,377.64 L158.9,376.59 L159.9,375.54 L160.9,374.48 L161.9,373.43 L162.9,372.38 L163.9,371.34 L164.9,370.31 L165.9,369.29 L166.9,368.29 L167.9,367.3 L168.9,366.35 L169.9,365.41 L170.9,364.51 L171.9,363.64 L172.9,362.81 L173.9,362.01 L174.9,361.25 L175.9,360.54 L176.9,359.87 L177.9,359.25 L178.9,358.67 L179.9,358.15 L180.9,357.68 L181.9,357.26 L182.9,356.9 L183.9,356.59 L184.9,356.33 L185.9,356.15 L186.9,356 L187.9,355.89 L188.9,355.81 L189.9,355.77 L190.9,355.76 L191.9,355.78 L192.9,355.83 L193.9,355.91 L194.9,356.03 L195.9,356.17 L196.9,356.34 L197.9,356.54 L198.9,356.76 L199.9,357.01 L200.9,357.19 L201.9,357.38 L202.9,357.59 L203.9,357.82 L204.9,358.06 L205.9,358.32 L206.9,358.6 L207.9,358.88 L208.9,359.18 L209.9,359.48 L210.9,359.79 L211.9,360.1 L212.9,360.42 L213.9,360.74 L214.9,361.06 L215.9,361.38 L216.9,361.69 L217.9,362.01 L218.9,362.32 L219.9,362.62 L220.9,362.92 L221.9,363.2 L222.9,363.48 L223.9,363.75 L224.9,364.01 L225.9,364.25 L226.9,364.49 L227.9,364.71 L228.9,364.92 L229.9,365.11 L230.9,365.19 L231.9,365.24 L232.9,365.28 L233.9,365.31 L234.9,365.32 L235.9,365.31 L236.9,365.29 L237.9,365.25 L238.9,365.19 L239.9,365.13 L240.9,365.04 L241.9,364.94 L242.9,364.83 L243.9,364.7 L244.9,364.55 L245.9,364.4 L246.9,364.23 L247.9,364.04 L248.9,363.84 L249.9,363.63 L250.9,363.41 L251.9,363.18 L252.9,362.93 L253.9,362.68 L254.9,362.41 L255.9,362.14 L256.9,361.85 L257.9,361.55 L258.9,361.25 L259.9,360.94 L260.9,360.79" fill="none" stroke="#ff8000" stroke-width="1.7" stroke-linejoin="round" stroke-linecap="round" />
<path d="M25.9,418.9 L26.9,418.61 L27.9,418.31 L28.9,418.01 L29.9,417.69 L30.9,417.37 L31.9,417.03 L32.9,416.68 L33.9,416.32 L34.9,415.95 L35.9,415.57 L36.9,415.17 L37.9,414.76 L38.9,414.34 L39.9,413.89 L40.9,413.44 L41.9,412.96 L42.9,412.47 L43.9,411.96 L44.9,411.43 L45.9,410.88 L46.9,410.32 L47.9,409.73 L48.9,409.12 L49.9,408.49 L50.9,407.83 L51.9,407.16 L52.9,406.46 L53.9,405.73 L54.9,404.99 L55.9,404.21 L56.9,403.42 L57.9,402.6 L58.9,401.75 L59.9,400.88 L60.9,400.01 L61.9,399.12 L62.9,398.21 L63.9,397.27 L64.9,396.31 L65.9,395.32 L66.9,394.31 L67.9,393.28 L68.9,392.22 L69.9,391.14 L70.9,390.04 L71.9,388.92 L72.9,387.78 L73.9,386.62 L74.9,385.44 L75.9,384.25 L76.9,383.04 L77.9,381.83 L78.9,380.6 L79.9,379.36 L80.9,378.11 L81.9,376.86 L82.9,375.6 L83.9,374.35 L84.9,373.09 L85.9,371.84 L86.9,370.59 L87.9,369.34 L88.9,368.11 L89.9,366.89 L90.9,365.69 L91.9,364.5 L92.9,363.33 L93.9,362.19 L94.9,361.07 L95.9,359.97 L96.9,358.91 L97.9,357.86 L98.9,356.77 L99.9,355.72 L100.9,354.71 L101.9,353.74 L102.9,352.82 L103.9,351.94 L104.9,351.11 L105.9,350.33 L106.9,349.6 L107.9,348.92 L108.9,348.3 L109.9,347.73 L110.9,347.22 L111.9,346.77 L112.9,346.37 L113.9,346.04 L114.9,345.76 L115.9,345.55 L116.9,345.44 L117.9,345.42 L118.9,345.5 L119.9,345.67 L120.9,345.94 L121.9,346.29 L122.9,346.73 L123.9,347.25 L124.9,347.85 L125.9,348.53 L126.9,349.27 L127.9,350.08 L128.9,350.96 L129.9,351.88 L130.9,352.86 L131.9,353.89 L132.9,354.95 L133.9,356.05 L134.9,357.18 L135.9,358.33 L136.9,359.5 L137.9,360.69 L138.9,361.88 L139.9,363.08 L140.9,364.25 L141.9,365.42 L142.9,366.57 L143.9,367.72 L144.9,368.84 L145.9,369.95 L146.9,371.03 L147.9,372.09 L148.9,373.11 L149.9,374.11 L150.9,375.07 L151.9,376 L152.9,376.89 L153.9,377.74 L154.9,378.55 L155.9,379.32 L156.9,380.05 L157.9,380.74 L158.9,381.39 L159.9,382 L160.9,382.56 L161.9,383.09 L162.9,383.57 L163.9,384.01 L164.9,384.42 L165.9,384.79 L166.9,385.12 L167.9,385.41 L168.9,385.67 L169.9,385.9 L170.9,386.09 L171.9,386.26 L172.9,386.39 L173.9,386.5 L174.9,386.58 L175.9,386.63 L176.9,386.67 L177.9,386.67 L178.9,386.66 L179.9,386.63 L180.9,386.58 L181.9,386.51 L182.9,386.43 L183.9,386.33 L184.9,386.22 L185.9,386.13 L186.9,386.03 L187.9,385.92 L188.9,385.8 L189.9,385.67 L190.9,385.53 L191.9,385.39 L192.9,385.24 L193.9,385.08 L194.9,384.91 L195.9,384.74 L196.9,384.57 L197.9,384.39 L198.9,384.21 L199.9,384.02 L200.9,383.74 L201.9,383.45 L202.9,383.16 L203.9,382.87 L204.9,382.57 L205.9,382.27 L206.9,381.97 L207.9,381.67 L208.9,381.36 L209.9,381.06 L210.9,380.75 L211.9,380.45 L212.9,380.14 L213.9,379.83 L214.9,379.52 L215.9,379.21 L216.9,378.9 L217.9,378.59 L218.9,378.28 L219.9,377.97 L220.9,377.66 L221.9,377.35 L222.9,377.04 L223.9,376.72 L224.9,376.41 L225.9,376.1 L226.9,375.79 L227.9,375.47 L228.9,375.16 L229.9,374.85 L230.9,374.43 L231.9,374.01 L232.9,373.59 L233.9,373.16 L234.9,372.74 L235.9,372.32 L236.9,371.89 L237.9,371.47 L238.9,371.05 L239.9,370.62 L240.9,370.2 L241.9,369.78 L242.9,369.35 L243.9,368.93 L244.9,368.5 L245.9,368.08 L246.9,367.66 L247.9,367.23 L248.9,366.81 L249.9,366.38 L250.9,365.96 L251.9,365.53 L252.9,365.11 L253.9,364.68 L254.9,364.26 L255.9,363.84 L256.9,363.41 L257.9,362.99 L258.9,362.56 L259.9,362.14 L260.9,361.88" fill="none" stroke="#8000ff" stroke-width="1.7" stroke-linejoin="round" stroke-linecap="round" />
<path d="M25.9,420.13 L26.9,419.94 L27.9,419.75 L28.9,419.57 L29.9,419.38 L30.9,419.19 L31.9,419 L32.9,418.8 L33.9,418.61 L34.9,418.42 L35.9,418.22 L36.9,418.03 L37.9,417.83 L38.9,417.64 L39.9,417.44 L40.9,417.24 L41.9,417.04 L42.9,416.83 L43.9,416.63 L44.9,416.42 L45.9,416.21 L46.9,416 L47.9,415.79 L48.9,415.57 L49.9,415.36 L50.9,415.13 L51.9,414.91 L52.9,414.68 L53.9,414.45 L54.9,414.21 L55.9,413.96 L56.9,413.71 L57.9,413.45 L58.9,413.18 L59.9,412.9 L60.9,412.64 L61.9,412.36 L62.9,412.05 L63.9,411.71 L64.9,411.33 L65.9,410.88 L66.9,410.36 L67.9,409.75 L68.9,409.01 L69.9,408.12 L70.9,407.05 L71.9,405.75 L72.9,404.19 L73.9,402.33 L74.9,400.14 L75.9,397.58 L76.9,394.64 L77.9,391.32 L78.9,387.62 L79.9,383.58 L80.9,379.26 L81.9,374.75 L82.9,370.15 L83.9,365.61 L84.9,361.3 L85.9,357.4 L86.9,354.13 L87.9,351.67 L88.9,350.21 L89.9,349.84 L90.9,350.4 L91.9,351.79 L92.9,353.92 L93.9,356.67 L94.9,359.88 L95.9,363.43 L96.9,367.16 L97.9,370.95 L98.9,374.64 L99.9,378.22 L100.9,381.61 L101.9,384.76 L102.9,387.64 L103.9,390.22 L104.9,392.5 L105.9,394.48 L106.9,396.17 L107.9,397.58 L108.9,398.75 L109.9,399.69 L110.9,400.44 L111.9,401.01 L112.9,401.45 L113.9,401.76 L114.9,401.97 L115.9,402.1 L116.9,402.17 L117.9,402.18 L118.9,402.16 L119.9,402.1 L120.9,402.01 L121.9,401.91 L122.9,401.79 L123.9,401.65 L124.9,401.51 L125.9,401.36 L126.9,401.2 L127.9,401.03 L128.9,400.86 L129.9,400.69 L130.9,400.51 L131.9,400.33 L132.9,400.14 L133.9,399.96 L134.9,399.77 L135.9,399.57 L136.9,399.38 L137.9,399.18 L138.9,398.98 L139.9,398.78 L140.9,398.55 L141.9,398.32 L142.9,398.09 L143.9,397.85 L144.9,397.61 L145.9,397.37 L146.9,397.13 L147.9,396.89 L148.9,396.65 L149.9,396.41 L150.9,396.16 L151.9,395.92 L152.9,395.67 L153.9,395.43 L154.9,395.18 L155.9,394.93 L156.9,394.69 L157.9,394.44 L158.9,394.19 L159.9,393.94 L160.9,393.69 L161.9,393.44 L162.9,393.19 L163.9,392.94 L164.9,392.69 L165.9,392.44 L166.9,392.19 L167.9,391.93 L168.9,391.68 L169.9,391.43 L170.9,391.18 L171.9,390.92 L172.9,390.67 L173.9,390.42 L174.9,390.16 L175.9,389.91 L176.9,389.65 L177.9,389.4 L178.9,389.14 L179.9,388.89 L180.9,388.64 L181.9,388.38 L182.9,388.12 L183.9,387.87 L184.9,387.61 L185.9,387.39 L186.9,387.18 L187.9,386.96 L188.9,386.75 L189.9,386.53 L190.9,386.31 L191.9,386.1 L192.9,385.88 L193.9,385.66 L194.9,385.45 L195.9,385.23 L196.9,385.01 L197.9,384.8 L198.9,384.58 L199.9,384.36 L200.9,384.06 L201.9,383.75 L202.9,383.43 L203.9,383.12 L204.9,382.8 L205.9,382.49 L206.9,382.17 L207.9,381.86 L208.9,381.55 L209.9,381.23 L210.9,380.92 L211.9,380.6 L212.9,380.29 L213.9,379.97 L214.9,379.66 L215.9,379.34 L216.9,379.03 L217.9,378.71 L218.9,378.4 L219.9,378.08 L220.9,377.77 L221.9,377.45 L222.9,377.14 L223.9,376.82 L224.9,376.51 L225.9,376.19 L226.9,375.88 L227.9,375.56 L228.9,375.25 L229.9,374.93 L230.9,374.52 L231.9,374.09 L232.9,373.67 L233.9,373.24 L234.9,372.82 L235.9,372.39 L236.9,371.97 L237.9,371.54 L238.9,371.12 L239.9,370.69 L240.9,370.27 L241.9,369.84 L242.9,369.42 L243.9,368.99 L244.9,368.57 L245.9,368.14 L246.9,367.72 L247.9,367.29 L248.9,366.87 L249.9,366.44 L250.9,366.02 L251.9,365.59 L252.9,365.17 L253.9,364.74 L254.9,364.32 L255.9,363.89 L256.9,363.47 L257.9,363.04 L258.9,362.61 L259.9,362.19 L260.9,361.93" fill="none" stroke="#ff00ff" stroke-width="1.7" stroke-linejoin="round" stroke-linecap="round" />
<path d="M25.9,420.5 L26.9,420.32 L27.9,420.15 L28.9,419.97 L29.9,419.8 L30.9,419.62 L31.9,419.44 L32.9,419.27 L33.9,419.09 L34.9,418.92 L35.9,418.74 L36.9,418.56 L37.9,418.39 L38.9,418.21 L39.9,418.04 L40.9,417.86 L41.9,417.68 L42.9,417.51 L43.9,417.33 L44.9,417.16 L45.9,416.98 L46.9,416.8 L47.9,416.63 L48.9,416.45 L49.9,416.28 L50.9,416.1 L51.9,415.93 L52.9,415.75 L53.9,415.57 L54.9,415.4 L55.9,415.22 L56.9,415.05 L57.9,414.87 L58.9,414.69 L59.9,414.52 L60.9,414.37 L61.9,414.23 L62.9,414.09 L63.9,413.95 L64.9,413.81 L65.9,413.67 L66.9,413.53 L67.9,413.39 L68.9,413.25 L69.9,413.11 L70.9,412.97 L71.9,412.83 L72.9,412.69 L73.9,412.55 L74.9,412.41 L75.9,412.26 L76.9,412.12 L77.9,411.98 L78.9,411.84 L79.9,411.7 L80.9,411.56 L81.9,411.42 L82.9,411.28 L83.9,411.14 L84.9,411 L85.9,410.86 L86.9,410.72 L87.9,410.58 L88.9,410.44 L89.9,410.3 L90.9,410.16 L91.9,410.02 L92.9,409.87 L93.9,409.73 L94.9,409.59 L95.9,409.45 L96.9,409.31 L97.9,409.15 L98.9,408.92 L99.9,408.7 L100.9,408.47 L101.9,408.24 L102.9,408.01 L103.9,407.78 L104.9,407.55 L105.9,407.32 L106.9,407.09 L107.9,406.86 L108.9,406.63 L109.9,406.4 L110.9,406.17 L111.9,405.94 L112.9,405.71 L113.9,405.49 L114.9,405.26 L115.9,405.03 L116.9,404.8 L117.9,404.57 L118.9,404.34 L119.9,404.11 L120.9,403.88 L121.9,403.65 L122.9,403.42 L123.9,403.19 L124.9,402.96 L125.9,402.73 L126.9,402.5 L127.9,402.27 L128.9,402.05 L129.9,401.82 L130.9,401.59 L131.9,401.36 L132.9,401.13 L133.9,400.9 L134.9,400.67 L135.9,400.44 L136.9,400.21 L137.9,399.98 L138.9,399.75 L139.9,399.52 L140.9,399.27 L141.9,399.01 L142.9,398.75 L143.9,398.49 L144.9,398.23 L145.9,397.97 L146.9,397.71 L147.9,397.45 L148.9,397.19 L149.9,396.93 L150.9,396.67 L151.9,396.41 L152.9,396.15 L153.9,395.89 L154.9,395.63 L155.9,395.37 L156.9,395.11 L157.9,394.85 L158.9,394.59 L159.9,394.33 L160.9,394.07 L161.9,393.81 L162.9,393.55 L163.9,393.29 L164.9,393.03 L165.9,392.77 L166.9,392.51 L167.9,392.25 L168.9,391.99 L169.9,391.73 L170.9,391.47 L171.9,391.21 L172.9,390.95 L173.9,390.69 L174.9,390.43 L175.9,390.17 L176.9,389.91 L177.9,389.65 L178.9,389.39 L179.9,389.13 L180.9,388.87 L181.9,388.6 L182.9,388.34 L183.9,388.08 L184.9,387.82 L185.9,387.59 L186.9,387.37 L187.9,387.14 L188.9,386.91 L189.9,386.68 L190.9,386.44 L191.9,386.19 L192.9,385.93 L193.9,385.66 L194.9,385.38 L195.9,385.07 L196.9,384.73 L197.9,384.36 L198.9,383.94 L199.9,383.48 L200.9,382.88 L201.9,382.21 L202.9,381.46 L203.9,380.64 L204.9,379.74 L205.9,378.75 L206.9,377.69 L207.9,376.54 L208.9,375.33 L209.9,374.06 L210.9,372.76 L211.9,371.43 L212.9,370.11 L213.9,368.82 L214.9,367.59 L215.9,366.45 L216.9,365.43 L217.9,364.54 L218.9,363.81 L219.9,363.26 L220.9,362.89 L221.9,362.7 L222.9,362.69 L223.9,362.85 L224.9,363.16 L225.9,363.6 L226.9,364.15 L227.9,364.77 L228.9,365.44 L229.9,366.14 L230.9,366.72 L231.9,367.27 L232.9,367.78 L233.9,368.22 L234.9,368.59 L235.9,368.88 L236.9,369.09 L237.9,369.22 L238.9,369.27 L239.9,369.24 L240.9,369.15 L241.9,368.99 L242.9,368.79 L243.9,368.53 L244.9,368.25 L245.9,367.93 L246.9,367.58 L247.9,367.21 L248.9,366.83 L249.9,366.44 L250.9,366.04 L251.9,365.63 L252.9,365.21 L253.9,364.8 L254.9,364.38 L255.9,363.95 L256.9,363.53 L257.9,363.11 L258.9,362.68 L259.9,362.25" fill="none" stroke="#808000" stroke-width="1.7" stroke-linejoin="round" stroke-linecap="round" />
<path d="M25.9,409.48 L26.9,407.84 L27.9,406.05 L28.9,404.09 L29.9,401.97 L30.9,399.67 L31.9,397.21 L32.9,394.58 L33.9,391.79 L34.9,388.84 L35.9,385.77 L36.9,382.57 L37.9,379.27 L38.9,375.9 L39.9,372.49 L40.9,369.06 L41.9,365.65 L42.9,362.3 L43.9,359.06 L44.9,355.96 L45.9,353.04 L46.9,350.36 L47.9,347.94 L48.9,345.85 L49.9,344.1 L50.9,342.74 L51.9,341.79 L52.9,341.27 L53.9,341.18 L54.9,341.52 L55.9,342.29 L56.9,343.45 L57.9,344.99 L58.9,346.87 L59.9,349.04 L60.9,351.5 L61.9,354.18 L62.9,357.03 L63.9,360.01 L64.9,363.06 L65.9,366.17 L66.9,369.28 L67.9,372.36 L68.9,375.39 L69.9,378.33 L70.9,381.17 L71.9,383.88 L72.9,386.44 L73.9,388.86 L74.9,391.1 L75.9,393.18 L76.9,395.09 L77.9,396.84 L78.9,398.41 L79.9,399.82 L80.9,401.08 L81.9,402.19 L82.9,403.16 L83.9,404.01 L84.9,404.73 L85.9,405.35 L86.9,405.88 L87.9,406.31 L88.9,406.67 L89.9,406.96 L90.9,407.19 L91.9,407.36 L92.9,407.49 L93.9,407.58 L94.9,407.64 L95.9,407.67 L96.9,407.67 L97.9,407.64 L98.9,407.51 L99.9,407.38 L100.9,407.23 L101.9,407.07 L102.9,406.9 L103.9,406.72 L104.9,406.54 L105.9,406.36 L106.9,406.17 L107.9,405.97 L108.9,405.78 L109.9,405.58 L110.9,405.38 L111.9,405.18 L112.9,404.97 L113.9,404.77 L114.9,404.56 L115.9,404.35 L116.9,404.14 L117.9,403.93 L118.9,403.72 L119.9,403.51 L120.9,403.3 L121.9,403.08 L122.9,402.87 L123.9,402.65 L124.9,402.44 L125.9,402.22 L126.9,402.01 L127.9,401.79 L128.9,401.57 L129.9,401.36 L130.9,401.14 L131.9,400.92 L132.9,400.7 L133.9,400.48 L134.9,400.26 L135.9,400.04 L136.9,399.82 L137.9,399.6 L138.9,399.38 L139.9,399.16 L140.9,398.91 L141.9,398.66 L142.9,398.41 L143.9,398.15 L144.9,397.9 L145.9,397.65 L146.9,397.39 L147.9,397.14 L148.9,396.89 L149.9,396.63 L150.9,396.38 L151.9,396.12 L152.9,395.87 L153.9,395.61 L154.9,395.36 L155.9,395.1 L156.9,394.85 L157.9,394.59 L158.9,394.34 L159.9,394.08 L160.9,393.83 L161.9,393.57 L162.9,393.32 L163.9,393.06 L164.9,392.8 L165.9,392.55 L166.9,392.29 L167.9,392.04 L168.9,391.78 L169.9,391.52 L170.9,391.27 L171.9,391.01 L172.9,390.75 L173.9,390.5 L174.9,390.24 L175.9,389.98 L176.9,389.72 L177.9,389.47 L178.9,389.21 L179.9,388.95 L180.9,388.7 L181.9,388.44 L182.9,388.18 L183.9,387.92 L184.9,387.67 L185.9,387.44 L186.9,387.23 L187.9,387.01 L188.9,386.79 L189.9,386.57 L190.9,386.36 L191.9,386.14 L192.9,385.92 L193.9,385.7 L194.9,385.48 L195.9,385.27 L196.9,385.05 L197.9,384.83 L198.9,384.61 L199.9,384.39 L200.9,384.09 L201.9,383.77 L202.9,383.46 L203.9,383.14 L204.9,382.83 L205.9,382.51 L206.9,382.2 L207.9,381.88 L208.9,381.57 L209.9,381.25 L210.9,380.94 L211.9,380.62 L212.9,380.31 L213.9,379.99 L214.9,379.67 L215.9,379.36 L216.9,379.04 L217.9,378.73 L218.9,378.41 L219.9,378.1 L220.9,377.78 L221.9,377.47 L222.9,377.15 L223.9,376.84 L224.9,376.52 L225.9,376.2 L226.9,375.89 L227.9,375.57 L228.9,375.26 L229.9,374.94 L230.9,374.53 L231.9,374.1 L232.9,373.68 L233.9,373.25 L234.9,372.83 L235.9,372.4 L236.9,371.98 L237.9,371.55 L238.9,371.13 L239.9,370.7 L240.9,370.27 L241.9,369.85 L242.9,369.42 L243.9,369 L244.9,368.57 L245.9,368.15 L246.9,367.72 L247.9,367.3 L248.9,366.87 L249.9,366.45 L250.9,366.02 L251.9,365.59 L252.9,365.17 L253.9,364.74 L254.9,364.32 L255.9,363.89 L256.9,363.47 L257.9,363.04 L258.9,362.62 L259.9,362.19" fill="none" stroke="#ff0000" stroke-width="1.9" stroke-linejoin="round" stroke-linecap="round" />
<path d="M25.9,409.6C26.58,406.83 28.22,400.27 30,393C31.78,385.73 33.8,374.87 36.6,366C39.4,357.13 43.65,345.38 46.8,339.8C49.95,334.22 52.58,332.98 55.5,332.5C58.42,332.02 61.38,339.57 64.3,336.9C67.22,334.23 70.33,322.07 73,316.5C75.67,310.93 77.88,307.37 80.3,303.5C82.72,299.63 85.18,296.12 87.5,293.3C89.82,290.48 92.02,286.57 94.2,286.6C96.38,286.63 98.07,289.77 100.6,293.5C103.13,297.23 106.73,305.25 109.4,309C112.07,312.75 114,313.33 116.6,316C119.2,318.67 122.33,321.75 125,325C127.67,328.25 129.38,331.58 132.6,335.5C135.82,339.42 140.42,345.35 144.3,348.5C148.18,351.65 151.53,353.03 155.9,354.4C160.27,355.77 165.65,356.32 170.5,356.7C175.35,357.08 180.08,356.6 185,356.7C189.92,356.8 195.83,357.45 200,357.3C204.17,357.15 206.75,356.52 210,355.8C213.25,355.08 216.5,352.55 219.5,353C222.5,353.45 225.25,356.58 228,358.5C230.75,360.42 233,363.33 236,364.5C239,365.67 241.92,366 246,365.5C250.08,365 258.08,362.17 260.5,361.5" fill="none" stroke="#8b0e0e" stroke-width="2.4" stroke-linejoin="round" stroke-linecap="round" />
</g>
<rect x="25.9" y="235" width="235.2" height="192.2" fill="none" stroke="#000" stroke-width="1.7"/>
<line x1="32.82" y1="427.2" x2="32.82" y2="429.8" stroke="#000" stroke-width="1.2"/>
<line x1="50.4" y1="427.2" x2="50.4" y2="431.5" stroke="#000" stroke-width="1.2"/>
<line x1="67.98" y1="427.2" x2="67.98" y2="429.8" stroke="#000" stroke-width="1.2"/>
<line x1="85.56" y1="427.2" x2="85.56" y2="431.5" stroke="#000" stroke-width="1.2"/>
<line x1="103.14" y1="427.2" x2="103.14" y2="429.8" stroke="#000" stroke-width="1.2"/>
<line x1="120.72" y1="427.2" x2="120.72" y2="431.5" stroke="#000" stroke-width="1.2"/>
<line x1="138.3" y1="427.2" x2="138.3" y2="429.8" stroke="#000" stroke-width="1.2"/>
<line x1="155.88" y1="427.2" x2="155.88" y2="431.5" stroke="#000" stroke-width="1.2"/>
<line x1="173.46" y1="427.2" x2="173.46" y2="429.8" stroke="#000" stroke-width="1.2"/>
<line x1="191.04" y1="427.2" x2="191.04" y2="431.5" stroke="#000" stroke-width="1.2"/>
<line x1="208.62" y1="427.2" x2="208.62" y2="429.8" stroke="#000" stroke-width="1.2"/>
<line x1="226.2" y1="427.2" x2="226.2" y2="431.5" stroke="#000" stroke-width="1.2"/>
<line x1="243.78" y1="427.2" x2="243.78" y2="429.8" stroke="#000" stroke-width="1.2"/>
<line x1="261.36" y1="427.2" x2="261.36" y2="431.5" stroke="#000" stroke-width="1.2"/>
<text x="0" y="0" font-family="Liberation Serif" font-weight="bold" font-size="10.56" text-anchor="middle" fill="#000" transform="translate(50.4 442.3) scale(0.9091 1)" >775</text>
<text x="0" y="0" font-family="Liberation Serif" font-weight="bold" font-size="10.56" text-anchor="middle" fill="#000" transform="translate(85.56 442.3) scale(0.9091 1)" >780</text>
<text x="0" y="0" font-family="Liberation Serif" font-weight="bold" font-size="10.56" text-anchor="middle" fill="#000" transform="translate(120.72 442.3) scale(0.9091 1)" >785</text>
<text x="0" y="0" font-family="Liberation Serif" font-weight="bold" font-size="10.56" text-anchor="middle" fill="#000" transform="translate(155.88 442.3) scale(0.9091 1)" >790</text>
<text x="0" y="0" font-family="Liberation Serif" font-weight="bold" font-size="10.56" text-anchor="middle" fill="#000" transform="translate(191.04 442.3) scale(0.9091 1)" >795</text>
<text x="0" y="0" font-family="Liberation Serif" font-weight="bold" font-size="10.56" text-anchor="middle" fill="#000" transform="translate(226.2 442.3) scale(0.9091 1)" >800</text>
<text x="0" y="0" font-family="Liberation Serif" font-weight="bold" font-size="10.56" text-anchor="middle" fill="#000" transform="translate(261.36 442.3) scale(0.9091 1)" >805</text>
<text x="0" y="0" font-family="Liberation Serif" font-weight="bold" font-size="12.54" text-anchor="middle" fill="#000" transform="translate(138.8 456.5) scale(0.9091 1)" >Binding Enegry (eV)</text>
<text x="0" y="0" font-family="Liberation Serif" font-weight="bold" font-size="14.1" text-anchor="middle" fill="#000" transform="translate(17.81 330.8) scale(0.8800 1) rotate(-90)" >Intensity (a.u.)</text>
<text x="0" y="0" font-family="Liberation Serif" font-weight="bold" font-size="23.85" text-anchor="start" fill="#000" stroke="#000" stroke-width="0.3" transform="translate(27.8 255.2) scale(0.9434 1)" >(c)</text>
<text x="0" y="0" font-family="Liberation Serif" font-weight="bold" font-size="12.65" text-anchor="start" fill="#000" transform="translate(73 251.5) scale(0.9091 1)" >Co 2p<tspan font-size="7.5" dy="4">3/2</tspan></text>
<text x="0" y="0" font-family="Liberation Serif" font-weight="bold" font-size="14.63" text-anchor="start" fill="#000" stroke="#000" stroke-width="0.2" transform="translate(215 250.6) scale(0.9091 1)" >Co 2p</text>
<text x="0" y="0" font-family="Liberation Serif" font-weight="bold" font-size="11.55" text-anchor="start" fill="#000" transform="translate(41.4 286.5) scale(0.9091 1)" >Co<tspan font-size="7.2" dy="-8.5">3+</tspan></text>
<text x="0" y="0" font-family="Liberation Serif" font-weight="bold" font-size="11.55" text-anchor="start" fill="#000" transform="translate(116.6 279) scale(0.9091 1)" >Co<tspan font-size="7.2" dy="-8.5">2+</tspan></text>
<text x="0" y="0" font-family="Liberation Serif" font-weight="bold" font-size="9.02" text-anchor="start" fill="#000" transform="translate(27.2 320.3) scale(0.9091 1)" >Co LMM</text>
<text x="0" y="0" font-family="Liberation Serif" font-weight="bold" font-size="11.55" text-anchor="start" fill="#000" transform="translate(183.2 322.5) scale(0.9091 1)" >Co<tspan font-size="7.2" dy="-8.5">3+</tspan></text>
<text x="0" y="0" font-family="Liberation Serif" font-weight="bold" font-size="12.65" text-anchor="start" fill="#000" transform="translate(171.8 350) scale(0.9091 1)" >Co 2p<tspan font-size="7.5" dy="4">1/2</tspan></text>
<line x1="50" y1="288.5" x2="87.5" y2="347" stroke="#000" stroke-width="0.9"/>
<path d="M87.5,347 L86.59,342.24 L83.56,344.18 Z" fill="#000"/>
<line x1="120.5" y1="283" x2="113.5" y2="342" stroke="#000" stroke-width="0.9"/>
<path d="M113.5,342 L115.82,337.74 L112.24,337.32 Z" fill="#000"/>
<line x1="42" y1="323" x2="51.5" y2="338" stroke="#000" stroke-width="0.9"/>
<path d="M51.5,338 L50.61,333.24 L47.57,335.16 Z" fill="#000"/>
<line x1="188" y1="325.5" x2="186" y2="354" stroke="#000" stroke-width="0.9"/>
<path d="M186,354 L188.11,349.64 L184.52,349.39 Z" fill="#000"/>
<line x1="191" y1="325.5" x2="219" y2="361.5" stroke="#000" stroke-width="0.9"/>
<path d="M219,361.5 L217.66,356.84 L214.82,359.05 Z" fill="#000"/>
<g clip-path="url(#cd)">
<path d="M296.5,410.51 L297.8,418.16 L299.1,421.5 L300.4,415.6 L301.7,403.66 L303,411.18 L304.3,410.87 L305.6,402.81 L306.9,410.51 L308.2,411.55 L309.5,401.86 L310.8,402.39 L312.1,407.74 L313.4,405.14 L314.7,399.38 L316,400.17 L317.3,394.55 L318.6,403.64 L319.9,394.87 L321.2,390.9 L322.5,394.79 L323.8,389.53 L325.1,383.93 L326.4,381.91 L327.7,380.93 L329,378.59 L330.3,377.33 L331.6,373.06 L332.9,366.29 L334.2,371.6 L335.5,362.65 L336.8,361.16 L338.1,365.29 L339.4,360.43 L340.7,352.2 L342,376.91 L343.3,344.61 L344.6,333.94 L345.9,345.59 L347.2,339.49 L348.5,335.53 L349.8,330.23 L351.1,324.76 L352.4,323.43 L353.7,322.32 L355,320.36 L356.3,315.55 L357.6,317.31 L358.9,323.38 L360.2,314.71 L361.5,316.74 L362.8,307.9 L364.1,303.45 L365.4,298.67 L366.7,300.99 L368,308.91 L369.3,298.33 L370.6,287.77 L371.9,295.43 L373.2,287.25 L374.5,293.43 L375.8,296.17 L377.1,286.32 L378.4,283.04 L379.7,272.15 L381,265.7 L382.3,273.43 L383.6,275.74 L384.9,275.29 L386.2,273.45 L387.5,274.58 L388.8,265.43 L390.1,270.86 L391.4,264.15 L392.7,272.31 L394,273.68 L395.3,271.92 L396.6,272.87 L397.9,278.07 L399.2,276.54 L400.5,275.22 L401.8,280.16 L403.1,260.28 L404.4,276.98 L405.7,283.92 L407,276.22 L408.3,281.49 L409.6,279.45 L410.9,279.14 L412.2,295.04 L413.5,282.41 L414.8,280.53 L416.1,292.3 L417.4,289.97 L418.7,291.35 L420,301.07 L421.3,296.01 L422.6,296.67 L423.9,296.31 L425.2,294.87 L426.5,300.52 L427.8,304.67 L429.1,298.56 L430.4,311.41 L431.7,305.22 L433,321.09 L434.3,305.86 L435.6,310.74 L436.9,321.49 L438.2,321.65 L439.5,321.97 L440.8,326.14 L442.1,333.03 L443.4,317.84 L444.7,317.81 L446,324.93 L447.3,324.78 L448.6,331.36 L449.9,307.76 L451.2,333.71 L452.5,327.61 L453.8,326.31 L455.1,323.94 L456.4,327.25 L457.7,327.44 L459,338.37 L460.3,339.92 L461.6,326.17 L462.9,334.89 L464.2,333.27 L465.5,330.27 L466.8,331.98 L468.1,333.43 L469.4,338.48 L470.7,332.89 L472,331.35 L473.3,332.89 L474.6,341.75 L475.9,342.82 L477.2,352.67 L478.5,338.65 L479.8,339.33 L481.1,343.6 L482.4,334.31 L483.7,337.24 L485,343.94 L486.3,336.55 L487.6,347.52 L488.9,344.24 L490.2,346.54 L491.5,344.1 L492.8,347.22 L494.1,352.45 L495.4,349.64 L496.7,355.47 L498,336.15 L499.3,356.77 L500.6,345.81 L501.9,346.84 L503.2,351.7 L504.5,351.33 L505.8,354.27 L507.1,360.74 L508.4,348.71 L509.7,352.64 L511,342.93 L512.3,347.47 L513.6,350.15 L514.9,347.97 L516.2,351.08 L517.5,342.04 L518.8,340.1 L520.1,348.7 L521.4,358.14 L522.7,346.77 L524,346.56 L525.3,344.41 L526.6,346.27 L527.9,352.37 L529.2,328.65 L530.5,340.3" fill="none" stroke="#cfcfcf" stroke-width="0.7" stroke-linejoin="round" stroke-linecap="round" />
<path d="M295.6,418.49 L296.6,418.02 L297.6,417.55 L298.6,417.06 L299.6,416.56 L300.6,416.04 L301.6,415.52 L302.6,414.97 L303.6,414.41 L304.6,413.82 L305.6,413.22 L306.6,412.59 L307.6,411.94 L308.6,411.26 L309.6,410.55 L310.6,409.8 L311.6,409.03 L312.6,408.21 L313.6,407.36 L314.6,406.47 L315.6,405.53 L316.6,404.55 L317.6,403.51 L318.6,402.43 L319.6,401.29 L320.6,400.1 L321.6,398.85 L322.6,397.54 L323.6,396.18 L324.6,394.75 L325.6,393.26 L326.6,391.71 L327.6,390.09 L328.6,388.42 L329.6,386.68 L330.6,384.89 L331.6,383.04 L332.6,381.14 L333.6,379.19 L334.6,377.19 L335.6,375.15 L336.6,373.07 L337.6,370.97 L338.6,368.84 L339.6,366.71 L340.6,364.57 L341.6,362.43 L342.6,360.32 L343.6,358.24 L344.6,356.2 L345.6,354.22 L346.6,352.32 L347.6,350.52 L348.6,348.82 L349.6,347.24 L350.6,345.81 L351.6,344.53 L352.6,343.43 L353.6,342.51 L354.6,341.78 L355.6,341.25 L356.6,340.92 L357.6,340.86 L358.6,341.06 L359.6,341.51 L360.6,342.19 L361.6,343.09 L362.6,344.18 L363.6,345.44 L364.6,346.83 L365.6,348.35 L366.6,349.95 L367.6,351.62 L368.6,353.34 L369.6,355.09 L370.6,356.84 L371.6,358.59 L372.6,360.32 L373.6,362.02 L374.6,363.67 L375.6,365.27 L376.6,366.8 L377.6,368.27 L378.6,369.67 L379.6,371 L380.6,372.24 L381.6,373.4 L382.6,374.49 L383.6,375.49 L384.6,376.4 L385.6,377.24 L386.6,378 L387.6,378.68 L388.6,379.29 L389.6,379.83 L390.6,380.3 L391.6,380.71 L392.6,381.06 L393.6,381.35 L394.6,381.59 L395.6,381.78 L396.6,381.92 L397.6,382.02 L398.6,382.08 L399.6,382.11 L400.6,382.11 L401.6,382.07 L402.6,382.01 L403.6,381.93 L404.6,381.83 L405.6,381.7 L406.6,381.56 L407.6,381.4 L408.6,381.23 L409.6,381.05 L410.6,380.85 L411.6,380.65 L412.6,380.43 L413.6,380.21 L414.6,379.98 L415.6,379.75 L416.6,379.5 L417.6,379.26 L418.6,379.01 L419.6,378.75 L420.6,378.49 L421.6,378.23 L422.6,377.96 L423.6,377.7 L424.6,377.42 L425.6,377.15 L426.6,376.87 L427.6,376.59 L428.6,376.31 L429.6,376.03 L430.6,375.75 L431.6,375.46 L432.6,375.17 L433.6,374.88 L434.6,374.59 L435.6,374.3 L436.6,374.01 L437.6,373.71 L438.6,373.42 L439.6,373.12 L440.6,372.82 L441.6,372.52 L442.6,372.22 L443.6,371.92 L444.6,371.62 L445.6,371.32 L446.6,371.01 L447.6,370.71 L448.6,370.4 L449.6,370.1 L450.6,369.79 L451.6,369.48 L452.6,369.17 L453.6,368.87 L454.6,368.56 L455.6,368.25 L456.6,367.94 L457.6,367.62 L458.6,367.31 L459.6,367 L460.6,366.69 L461.6,366.38 L462.6,366.06 L463.6,365.75 L464.6,365.43 L465.6,365.12 L466.6,364.8 L467.6,364.49 L468.6,364.17 L469.6,363.86 L470.6,363.54 L471.6,363.22 L472.6,362.91 L473.6,362.59 L474.6,362.27 L475.6,361.95 L476.6,361.64 L477.6,361.32 L478.6,361 L479.6,360.68 L480.6,360.36 L481.6,360.04 L482.6,359.72 L483.6,359.4 L484.6,359.08 L485.6,358.76 L486.6,358.44 L487.6,358.12 L488.6,357.8 L489.6,357.48 L490.6,357.16 L491.6,356.83 L492.6,356.51 L493.6,356.19 L494.6,355.87 L495.6,355.55 L496.6,355.22 L497.6,354.9 L498.6,354.58 L499.6,354.26 L500.6,353.93 L501.6,353.61 L502.6,353.29 L503.6,352.96 L504.6,352.64 L505.6,352.32 L506.6,351.99 L507.6,351.67 L508.6,351.34 L509.6,351.02 L510.6,350.7 L511.6,350.37 L512.6,350.05 L513.6,349.72 L514.6,349.4 L515.6,349.07 L516.6,348.75 L517.6,348.42 L518.6,348.1 L519.6,347.77 L520.6,347.45 L521.6,347.12 L522.6,346.8 L523.6,346.47 L524.6,346.15 L525.6,345.82 L526.6,345.5 L527.6,345.17 L528.6,344.85 L529.6,344.52 L530.6,344.19 L531.6,343.87" fill="none" stroke="#ff0000" stroke-width="1.9" stroke-linejoin="round" stroke-linecap="round" />
<path d="M295.6,421.9 L296.6,421.55 L297.6,421.2 L298.6,420.85 L299.6,420.5 L300.6,420.14 L301.6,419.78 L302.6,419.42 L303.6,419.05 L304.6,418.67 L305.6,418.29 L306.6,417.91 L307.6,417.51 L308.6,417.11 L309.6,416.7 L310.6,416.28 L311.6,415.85 L312.6,415.41 L313.6,414.96 L314.6,414.49 L315.6,414.01 L316.6,413.51 L317.6,412.99 L318.6,412.46 L319.6,411.9 L320.6,411.32 L321.6,410.72 L322.6,410.09 L323.6,409.43 L324.6,408.75 L325.6,408.03 L326.6,407.28 L327.6,406.49 L328.6,405.67 L329.6,404.8 L330.6,403.9 L331.6,402.95 L332.6,401.95 L333.6,400.91 L334.6,399.82 L335.6,398.67 L336.6,397.47 L337.6,396.22 L338.6,394.91 L339.6,393.54 L340.6,392.11 L341.6,390.62 L342.6,389.06 L343.6,387.45 L344.6,385.77 L345.6,384.04 L346.6,382.24 L347.6,380.37 L348.6,378.45 L349.6,376.47 L350.6,374.43 L351.6,372.33 L352.6,370.19 L353.6,367.99 L354.6,365.74 L355.6,363.45 L356.6,361.13 L357.6,358.77 L358.6,356.37 L359.6,353.96 L360.6,351.53 L361.6,349.08 L362.6,346.63 L363.6,344.18 L364.6,341.73 L365.6,339.31 L366.6,336.9 L367.6,334.52 L368.6,332.18 L369.6,329.89 L370.6,327.65 L371.6,325.47 L372.6,323.35 L373.6,321.32 L374.6,319.36 L375.6,317.5 L376.6,315.73 L377.6,314.07 L378.6,312.51 L379.6,311.07 L380.6,309.75 L381.6,308.55 L382.6,307.48 L383.6,306.55 L384.6,305.75 L385.6,305.08 L386.6,304.56 L387.6,304.17 L388.6,304 L389.6,304.11 L390.6,304.47 L391.6,305.09 L392.6,305.97 L393.6,307.08 L394.6,308.41 L395.6,309.96 L396.6,311.7 L397.6,313.62 L398.6,315.7 L399.6,317.91 L400.6,320.24 L401.6,322.67 L402.6,325.18 L403.6,327.74 L404.6,330.34 L405.6,332.96 L406.6,335.58 L407.6,338.17 L408.6,340.73 L409.6,343.24 L410.6,345.68 L411.6,348.05 L412.6,350.33 L413.6,352.52 L414.6,354.6 L415.6,356.57 L416.6,358.43 L417.6,360.16 L418.6,361.78 L419.6,363.28 L420.6,364.66 L421.6,365.92 L422.6,367.06 L423.6,368.09 L424.6,369.01 L425.6,369.83 L426.6,370.55 L427.6,371.17 L428.6,371.7 L429.6,372.15 L430.6,372.52 L431.6,372.82 L432.6,373.05 L433.6,373.21 L434.6,373.32 L435.6,373.38 L436.6,373.4 L437.6,373.37 L438.6,373.3 L439.6,373.2 L440.6,373.07 L441.6,372.91 L442.6,372.73 L443.6,372.53 L444.6,372.31 L445.6,372.07 L446.6,371.82 L447.6,371.56 L448.6,371.29 L449.6,371 L450.6,370.71 L451.6,370.42 L452.6,370.12 L453.6,369.81 L454.6,369.5 L455.6,369.19 L456.6,368.87 L457.6,368.55 L458.6,368.23 L459.6,367.91 L460.6,367.58 L461.6,367.26 L462.6,366.93 L463.6,366.61 L464.6,366.28 L465.6,365.95 L466.6,365.62 L467.6,365.29 L468.6,364.97 L469.6,364.64 L470.6,364.31 L471.6,363.98 L472.6,363.65 L473.6,363.32 L474.6,362.99 L475.6,362.66 L476.6,362.33 L477.6,362 L478.6,361.67 L479.6,361.34 L480.6,361.01 L481.6,360.68 L482.6,360.35 L483.6,360.02 L484.6,359.69 L485.6,359.36 L486.6,359.03 L487.6,358.71 L488.6,358.38 L489.6,358.05 L490.6,357.72 L491.6,357.39 L492.6,357.06 L493.6,356.73 L494.6,356.4 L495.6,356.07 L496.6,355.74 L497.6,355.41 L498.6,355.08 L499.6,354.75 L500.6,354.42 L501.6,354.09 L502.6,353.76 L503.6,353.43 L504.6,353.1 L505.6,352.77 L506.6,352.44 L507.6,352.11 L508.6,351.78 L509.6,351.45 L510.6,351.12 L511.6,350.79 L512.6,350.46 L513.6,350.13 L514.6,349.8 L515.6,349.47 L516.6,349.14 L517.6,348.82 L518.6,348.49 L519.6,348.16 L520.6,347.83 L521.6,347.5 L522.6,347.17 L523.6,346.84 L524.6,346.51 L525.6,346.18 L526.6,345.85 L527.6,345.52 L528.6,345.19 L529.6,344.86 L530.6,344.53 L531.6,344.2" fill="none" stroke="#ff00ff" stroke-width="1.8" stroke-linejoin="round" stroke-linecap="round" />
<path d="M295.6,422 L296.6,421.67 L297.6,421.34 L298.6,421.01 L299.6,420.68 L300.6,420.35 L301.6,420.02 L302.6,419.69 L303.6,419.36 L304.6,419.03 L305.6,418.7 L306.6,418.37 L307.6,418.04 L308.6,417.71 L309.6,417.38 L310.6,417.06 L311.6,416.73 L312.6,416.4 L313.6,416.07 L314.6,415.74 L315.6,415.41 L316.6,415.08 L317.6,414.75 L318.6,414.42 L319.6,414.09 L320.6,413.76 L321.6,413.43 L322.6,413.1 L323.6,412.77 L324.6,412.44 L325.6,412.11 L326.6,411.78 L327.6,411.45 L328.6,411.12 L329.6,410.79 L330.6,410.46 L331.6,410.13 L332.6,409.8 L333.6,409.47 L334.6,409.14 L335.6,408.81 L336.6,408.48 L337.6,408.15 L338.6,407.82 L339.6,407.49 L340.6,407.17 L341.6,406.84 L342.6,406.51 L343.6,406.18 L344.6,405.85 L345.6,405.52 L346.6,405.19 L347.6,404.86 L348.6,404.53 L349.6,404.2 L350.6,403.87 L351.6,403.54 L352.6,403.21 L353.6,402.88 L354.6,402.55 L355.6,402.22 L356.6,401.89 L357.6,401.56 L358.6,401.23 L359.6,400.9 L360.6,400.57 L361.6,400.24 L362.6,399.91 L363.6,399.58 L364.6,399.25 L365.6,398.92 L366.6,398.59 L367.6,398.26 L368.6,397.93 L369.6,397.61 L370.6,397.28 L371.6,396.95 L372.6,396.62 L373.6,396.29 L374.6,395.96 L375.6,395.63 L376.6,395.3 L377.6,394.97 L378.6,394.64 L379.6,394.31 L380.6,393.98 L381.6,393.65 L382.6,393.32 L383.6,392.99 L384.6,392.66 L385.6,392.33 L386.6,392 L387.6,391.67 L388.6,391.34 L389.6,391.01 L390.6,390.68 L391.6,390.35 L392.6,390.02 L393.6,389.69 L394.6,389.36 L395.6,389.03 L396.6,388.7 L397.6,388.37 L398.6,388.04 L399.6,387.72 L400.6,387.39 L401.6,387.06 L402.6,386.73 L403.6,386.4 L404.6,386.07 L405.6,385.74 L406.6,385.41 L407.6,385.08 L408.6,384.75 L409.6,384.42 L410.6,384.09 L411.6,383.76 L412.6,383.43 L413.6,383.1 L414.6,382.77 L415.6,382.44 L416.6,382.11 L417.6,381.78 L418.6,381.45 L419.6,381.12 L420.6,380.79 L421.6,380.46 L422.6,380.13 L423.6,379.8 L424.6,379.47 L425.6,379.14 L426.6,378.81 L427.6,378.48 L428.6,378.16 L429.6,377.83 L430.6,377.5 L431.6,377.17 L432.6,376.84 L433.6,376.51 L434.6,376.18 L435.6,375.85 L436.6,375.52 L437.6,375.19 L438.6,374.86 L439.6,374.53 L440.6,374.2 L441.6,373.87 L442.6,373.54 L443.6,373.21 L444.6,372.88 L445.6,372.55 L446.6,372.22 L447.6,371.89 L448.6,371.56 L449.6,371.23 L450.6,370.9 L451.6,370.57 L452.6,370.24 L453.6,369.91 L454.6,369.58 L455.6,369.25 L456.6,368.92 L457.6,368.59 L458.6,368.27 L459.6,367.94 L460.6,367.61 L461.6,367.28 L462.6,366.95 L463.6,366.62 L464.6,366.29 L465.6,365.96 L466.6,365.63 L467.6,365.3 L468.6,364.97 L469.6,364.64 L470.6,364.31 L471.6,363.98 L472.6,363.65 L473.6,363.32 L474.6,362.99 L475.6,362.66 L476.6,362.33 L477.6,362 L478.6,361.67 L479.6,361.34 L480.6,361.01 L481.6,360.68 L482.6,360.35 L483.6,360.02 L484.6,359.69 L485.6,359.36 L486.6,359.03 L487.6,358.71 L488.6,358.38 L489.6,358.05 L490.6,357.72 L491.6,357.39 L492.6,357.06 L493.6,356.73 L494.6,356.4 L495.6,356.07 L496.6,355.74 L497.6,355.41 L498.6,355.08 L499.6,354.75 L500.6,354.42 L501.6,354.09 L502.6,353.76 L503.6,353.43 L504.6,353.1 L505.6,352.77 L506.6,352.44 L507.6,352.11 L508.6,351.78 L509.6,351.45 L510.6,351.12 L511.6,350.79 L512.6,350.46 L513.6,350.13 L514.6,349.8 L515.6,349.47 L516.6,349.14 L517.6,348.82 L518.6,348.49 L519.6,348.16 L520.6,347.83 L521.6,347.5 L522.6,347.17 L523.6,346.84 L524.6,346.51 L525.6,346.18 L526.6,345.85 L527.6,345.52 L528.6,345.19 L529.6,344.86 L530.6,344.53 L531.6,344.2" fill="none" stroke="#8000ff" stroke-width="1.8" stroke-linejoin="round" stroke-linecap="round" />
<path d="M295.6,421.95 L296.6,421.62 L297.6,421.29 L298.6,420.96 L299.6,420.62 L300.6,420.29 L301.6,419.96 L302.6,419.63 L303.6,419.29 L304.6,418.96 L305.6,418.63 L306.6,418.3 L307.6,417.96 L308.6,417.63 L309.6,417.29 L310.6,416.96 L311.6,416.63 L312.6,416.29 L313.6,415.96 L314.6,415.62 L315.6,415.29 L316.6,414.96 L317.6,414.62 L318.6,414.29 L319.6,413.95 L320.6,413.61 L321.6,413.28 L322.6,412.94 L323.6,412.61 L324.6,412.27 L325.6,411.93 L326.6,411.6 L327.6,411.26 L328.6,410.92 L329.6,410.58 L330.6,410.25 L331.6,409.91 L332.6,409.57 L333.6,409.23 L334.6,408.89 L335.6,408.55 L336.6,408.21 L337.6,407.87 L338.6,407.53 L339.6,407.19 L340.6,406.85 L341.6,406.51 L342.6,406.17 L343.6,405.83 L344.6,405.49 L345.6,405.14 L346.6,404.8 L347.6,404.46 L348.6,404.11 L349.6,403.77 L350.6,403.43 L351.6,403.08 L352.6,402.73 L353.6,402.39 L354.6,402.04 L355.6,401.69 L356.6,401.35 L357.6,401 L358.6,400.64 L359.6,400.29 L360.6,399.94 L361.6,399.58 L362.6,399.22 L363.6,398.86 L364.6,398.49 L365.6,398.12 L366.6,397.74 L367.6,397.35 L368.6,396.95 L369.6,396.55 L370.6,396.13 L371.6,395.69 L372.6,395.24 L373.6,394.76 L374.6,394.26 L375.6,393.73 L376.6,393.17 L377.6,392.57 L378.6,391.93 L379.6,391.24 L380.6,390.5 L381.6,389.69 L382.6,388.82 L383.6,387.88 L384.6,386.86 L385.6,385.76 L386.6,384.57 L387.6,383.29 L388.6,381.91 L389.6,380.43 L390.6,378.85 L391.6,377.17 L392.6,375.39 L393.6,373.52 L394.6,371.56 L395.6,369.52 L396.6,367.4 L397.6,365.23 L398.6,363.01 L399.6,360.75 L400.6,358.49 L401.6,356.23 L402.6,353.99 L403.6,351.81 L404.6,349.69 L405.6,347.66 L406.6,345.75 L407.6,343.98 L408.6,342.35 L409.6,340.9 L410.6,339.64 L411.6,338.58 L412.6,337.73 L413.6,337.1 L414.6,336.69 L415.6,336.51 L416.6,336.56 L417.6,336.84 L418.6,337.32 L419.6,338 L420.6,338.87 L421.6,339.9 L422.6,341.07 L423.6,342.37 L424.6,343.77 L425.6,345.24 L426.6,346.77 L427.6,348.34 L428.6,349.91 L429.6,351.48 L430.6,353.01 L431.6,354.51 L432.6,355.94 L433.6,357.3 L434.6,358.58 L435.6,359.76 L436.6,360.85 L437.6,361.84 L438.6,362.73 L439.6,363.52 L440.6,364.2 L441.6,364.79 L442.6,365.28 L443.6,365.69 L444.6,366 L445.6,366.24 L446.6,366.41 L447.6,366.51 L448.6,366.55 L449.6,366.54 L450.6,366.48 L451.6,366.38 L452.6,366.24 L453.6,366.07 L454.6,365.87 L455.6,365.65 L456.6,365.4 L457.6,365.14 L458.6,364.87 L459.6,364.58 L460.6,364.29 L461.6,363.98 L462.6,363.67 L463.6,363.36 L464.6,363.04 L465.6,362.72 L466.6,362.4 L467.6,362.08 L468.6,361.75 L469.6,361.42 L470.6,361.1 L471.6,360.77 L472.6,360.45 L473.6,360.12 L474.6,359.8 L475.6,359.47 L476.6,359.15 L477.6,358.83 L478.6,358.5 L479.6,358.18 L480.6,357.86 L481.6,357.54 L482.6,357.22 L483.6,356.9 L484.6,356.59 L485.6,356.27 L486.6,355.95 L487.6,355.64 L488.6,355.33 L489.6,355.01 L490.6,354.7 L491.6,354.39 L492.6,354.08 L493.6,353.77 L494.6,353.46 L495.6,353.15 L496.6,352.84 L497.6,352.53 L498.6,352.22 L499.6,351.92 L500.6,351.61 L501.6,351.3 L502.6,351 L503.6,350.69 L504.6,350.39 L505.6,350.09 L506.6,349.78 L507.6,349.48 L508.6,349.18 L509.6,348.88 L510.6,348.58 L511.6,348.28 L512.6,347.98 L513.6,347.68 L514.6,347.38 L515.6,347.08 L516.6,346.78 L517.6,346.48 L518.6,346.18 L519.6,345.88 L520.6,345.58 L521.6,345.29 L522.6,344.99 L523.6,344.69 L524.6,344.39 L525.6,344.09 L526.6,343.8 L527.6,343.5 L528.6,343.2 L529.6,342.91 L530.6,342.61 L531.6,342.31" fill="none" stroke="#8000ff" stroke-width="1.8" stroke-linejoin="round" stroke-linecap="round" />
<path d="M295.6,422 L296.6,421.67 L297.6,421.34 L298.6,421.01 L299.6,420.68 L300.6,420.35 L301.6,420.02 L302.6,419.69 L303.6,419.36 L304.6,419.03 L305.6,418.7 L306.6,418.37 L307.6,418.04 L308.6,417.71 L309.6,417.38 L310.6,417.05 L311.6,416.72 L312.6,416.39 L313.6,416.06 L314.6,415.73 L315.6,415.4 L316.6,415.07 L317.6,414.74 L318.6,414.41 L319.6,414.08 L320.6,413.75 L321.6,413.42 L322.6,413.09 L323.6,412.76 L324.6,412.43 L325.6,412.1 L326.6,411.77 L327.6,411.44 L328.6,411.1 L329.6,410.77 L330.6,410.44 L331.6,410.11 L332.6,409.77 L333.6,409.44 L334.6,409.11 L335.6,408.77 L336.6,408.43 L337.6,408.1 L338.6,407.76 L339.6,407.42 L340.6,407.08 L341.6,406.74 L342.6,406.4 L343.6,406.05 L344.6,405.71 L345.6,405.36 L346.6,405.01 L347.6,404.66 L348.6,404.31 L349.6,403.95 L350.6,403.59 L351.6,403.23 L352.6,402.86 L353.6,402.49 L354.6,402.11 L355.6,401.73 L356.6,401.35 L357.6,400.96 L358.6,400.56 L359.6,400.16 L360.6,399.74 L361.6,399.33 L362.6,398.9 L363.6,398.47 L364.6,398.02 L365.6,397.57 L366.6,397.1 L367.6,396.63 L368.6,396.14 L369.6,395.64 L370.6,395.12 L371.6,394.59 L372.6,394.05 L373.6,393.49 L374.6,392.91 L375.6,392.32 L376.6,391.7 L377.6,391.07 L378.6,390.42 L379.6,389.74 L380.6,389.05 L381.6,388.33 L382.6,387.59 L383.6,386.82 L384.6,386.03 L385.6,385.21 L386.6,384.37 L387.6,383.5 L388.6,382.61 L389.6,381.68 L390.6,380.73 L391.6,379.76 L392.6,378.75 L393.6,377.72 L394.6,376.65 L395.6,375.57 L396.6,374.45 L397.6,373.31 L398.6,372.14 L399.6,370.94 L400.6,369.72 L401.6,368.48 L402.6,367.22 L403.6,365.93 L404.6,364.63 L405.6,363.3 L406.6,361.96 L407.6,360.61 L408.6,359.25 L409.6,357.87 L410.6,356.49 L411.6,355.1 L412.6,353.71 L413.6,352.32 L414.6,350.93 L415.6,349.55 L416.6,348.18 L417.6,346.81 L418.6,345.47 L419.6,344.13 L420.6,342.83 L421.6,341.54 L422.6,340.28 L423.6,339.05 L424.6,337.85 L425.6,336.69 L426.6,335.57 L427.6,334.49 L428.6,333.45 L429.6,332.46 L430.6,331.52 L431.6,330.63 L432.6,329.8 L433.6,329.01 L434.6,328.29 L435.6,327.62 L436.6,327.02 L437.6,326.47 L438.6,325.98 L439.6,325.56 L440.6,325.2 L441.6,324.9 L442.6,324.66 L443.6,324.49 L444.6,324.38 L445.6,324.33 L446.6,324.33 L447.6,324.4 L448.6,324.52 L449.6,324.7 L450.6,324.93 L451.6,325.21 L452.6,325.54 L453.6,325.92 L454.6,326.34 L455.6,326.8 L456.6,327.31 L457.6,327.84 L458.6,328.41 L459.6,329.01 L460.6,329.64 L461.6,330.29 L462.6,330.96 L463.6,331.65 L464.6,332.35 L465.6,333.07 L466.6,333.79 L467.6,334.52 L468.6,335.25 L469.6,335.98 L470.6,336.71 L471.6,337.43 L472.6,338.15 L473.6,338.85 L474.6,339.55 L475.6,340.23 L476.6,340.89 L477.6,341.54 L478.6,342.16 L479.6,342.77 L480.6,343.35 L481.6,343.91 L482.6,344.45 L483.6,344.96 L484.6,345.44 L485.6,345.9 L486.6,346.33 L487.6,346.73 L488.6,347.1 L489.6,347.45 L490.6,347.77 L491.6,348.06 L492.6,348.32 L493.6,348.56 L494.6,348.77 L495.6,348.95 L496.6,349.11 L497.6,349.24 L498.6,349.34 L499.6,349.43 L500.6,349.49 L501.6,349.52 L502.6,349.54 L503.6,349.53 L504.6,349.51 L505.6,349.46 L506.6,349.4 L507.6,349.31 L508.6,349.21 L509.6,349.1 L510.6,348.97 L511.6,348.83 L512.6,348.67 L513.6,348.5 L514.6,348.31 L515.6,348.12 L516.6,347.91 L517.6,347.7 L518.6,347.47 L519.6,347.24 L520.6,347 L521.6,346.75 L522.6,346.49 L523.6,346.23 L524.6,345.96 L525.6,345.69 L526.6,345.41 L527.6,345.13 L528.6,344.84 L529.6,344.55 L530.6,344.25 L531.6,343.95" fill="none" stroke="#ff8000" stroke-width="2.0" stroke-linejoin="round" stroke-linecap="round" />
<path d="M296,418.5C298.25,416.82 304.83,413.48 309.5,408.4C314.17,403.32 319.15,396.25 324,388C328.85,379.75 333.73,369.57 338.6,358.9C343.47,348.23 348.35,334.18 353.2,324C358.05,313.82 362.85,305.55 367.7,297.8C372.55,290.05 378.17,281.97 382.3,277.5C386.43,273.03 389.12,270.75 392.5,271C395.88,271.25 399.7,277.43 402.6,279C405.5,280.57 407.47,278.97 409.9,280.4C412.33,281.83 414.53,283.73 417.2,287.6C419.87,291.47 423,298.75 425.9,303.6C428.8,308.45 431.68,313.55 434.6,316.7C437.52,319.85 440,320.55 443.4,322.5C446.8,324.45 450.57,325.98 455,328.4C459.43,330.82 465,334.23 470,337C475,339.77 480.23,342.92 485,345C489.77,347.08 493.6,349.08 498.6,349.5C503.6,349.92 509.5,348.83 515,347.5C520.5,346.17 528.83,342.5 531.6,341.5" fill="none" stroke="#8b0e0e" stroke-width="2.3" stroke-linejoin="round" stroke-linecap="round" />
<path d="M446.6,324.33 L447.6,324.4 L448.6,324.52 L449.6,324.7 L450.6,324.93 L451.6,325.21 L452.6,325.54 L453.6,325.92 L454.6,326.34 L455.6,326.8 L456.6,327.31 L457.6,327.84 L458.6,328.41 L459.6,329.01 L460.6,329.64 L461.6,330.29 L462.6,330.96 L463.6,331.65 L464.6,332.35 L465.6,333.07 L466.6,333.79 L467.6,334.52 L468.6,335.25 L469.6,335.98 L470.6,336.71 L471.6,337.43 L472.6,338.15 L473.6,338.85 L474.6,339.55 L475.6,340.23 L476.6,340.89 L477.6,341.54 L478.6,342.16 L479.6,342.77 L480.6,343.35 L481.6,343.91 L482.6,344.45 L483.6,344.96 L484.6,345.44 L485.6,345.9 L486.6,346.33 L487.6,346.73 L488.6,347.1 L489.6,347.45 L490.6,347.77 L491.6,348.06 L492.6,348.32 L493.6,348.56 L494.6,348.77 L495.6,348.95 L496.6,349.11 L497.6,349.24 L498.6,349.34 L499.6,349.43 L500.6,349.49 L501.6,349.52 L502.6,349.54 L503.6,349.53 L504.6,349.51 L505.6,349.46 L506.6,349.4 L507.6,349.31 L508.6,349.21 L509.6,349.1 L510.6,348.97 L511.6,348.83 L512.6,348.67 L513.6,348.5 L514.6,348.31 L515.6,348.12 L516.6,347.91 L517.6,347.7 L518.6,347.47 L519.6,347.24 L520.6,347 L521.6,346.75 L522.6,346.49 L523.6,346.23 L524.6,345.96 L525.6,345.69 L526.6,345.41 L527.6,345.13 L528.6,344.84 L529.6,344.55 L530.6,344.25 L531.6,343.95" fill="none" stroke="#ff8000" stroke-width="1.9" stroke-linejoin="round" stroke-linecap="round" />
</g>
<rect x="295.8" y="234.8" width="236" height="192.1" fill="none" stroke="#000" stroke-width="1.7"/>
<line x1="299.7" y1="426.9" x2="299.7" y2="429.5" stroke="#000" stroke-width="1.2"/>
<line x1="320.8" y1="426.9" x2="320.8" y2="431.2" stroke="#000" stroke-width="1.2"/>
<line x1="341.9" y1="426.9" x2="341.9" y2="429.5" stroke="#000" stroke-width="1.2"/>
<line x1="363" y1="426.9" x2="363" y2="431.2" stroke="#000" stroke-width="1.2"/>
<line x1="384.1" y1="426.9" x2="384.1" y2="429.5" stroke="#000" stroke-width="1.2"/>
<line x1="405.2" y1="426.9" x2="405.2" y2="431.2" stroke="#000" stroke-width="1.2"/>
<line x1="426.3" y1="426.9" x2="426.3" y2="429.5" stroke="#000" stroke-width="1.2"/>
<line x1="447.4" y1="426.9" x2="447.4" y2="431.2" stroke="#000" stroke-width="1.2"/>
<line x1="468.5" y1="426.9" x2="468.5" y2="429.5" stroke="#000" stroke-width="1.2"/>
<line x1="489.6" y1="426.9" x2="489.6" y2="431.2" stroke="#000" stroke-width="1.2"/>
<line x1="510.7" y1="426.9" x2="510.7" y2="429.5" stroke="#000" stroke-width="1.2"/>
<line x1="531.8" y1="426.9" x2="531.8" y2="431.2" stroke="#000" stroke-width="1.2"/>
<text x="0" y="0" font-family="Liberation Serif" font-weight="bold" font-size="10.56" text-anchor="middle" fill="#000" transform="translate(320.8 442.3) scale(0.9091 1)" >635</text>
<text x="0" y="0" font-family="Liberation Serif" font-weight="bold" font-size="10.56" text-anchor="middle" fill="#000" transform="translate(363 442.3) scale(0.9091 1)" >640</text>
<text x="0" y="0" font-family="Liberation Serif" font-weight="bold" font-size="10.56" text-anchor="middle" fill="#000" transform="translate(405.2 442.3) scale(0.9091 1)" >645</text>
<text x="0" y="0" font-family="Liberation Serif" font-weight="bold" font-size="10.56" text-anchor="middle" fill="#000" transform="translate(447.4 442.3) scale(0.9091 1)" >650</text>
<text x="0" y="0" font-family="Liberation Serif" font-weight="bold" font-size="10.56" text-anchor="middle" fill="#000" transform="translate(489.6 442.3) scale(0.9091 1)" >655</text>
<text x="0" y="0" font-family="Liberation Serif" font-weight="bold" font-size="10.56" text-anchor="middle" fill="#000" transform="translate(531.8 442.3) scale(0.9091 1)" >660</text>
<text x="0" y="0" font-family="Liberation Serif" font-weight="bold" font-size="13.2" text-anchor="middle" fill="#000" transform="translate(413.5 456.5) scale(0.9091 1)" >Binding Enegry (eV)</text>
<text x="0" y="0" font-family="Liberation Serif" font-weight="bold" font-size="14.1" text-anchor="middle" fill="#000" transform="translate(285.81 330.2) scale(0.8800 1) rotate(-90)" >Intensity (a.u.)</text>
<text x="0" y="0" font-family="Liberation Serif" font-weight="bold" font-size="23.85" text-anchor="start" fill="#000" stroke="#000" stroke-width="0.3" transform="translate(297.8 255.7) scale(0.9434 1)" >(d)</text>
<text x="0" y="0" font-family="Liberation Serif" font-weight="bold" font-size="12.65" text-anchor="start" fill="#000" transform="translate(372.5 255.5) scale(0.9091 1)" >Mn 2p<tspan font-size="7.5" dy="4">3/2</tspan></text>
<text x="0" y="0" font-family="Liberation Serif" font-weight="bold" font-size="14.63" text-anchor="start" fill="#000" stroke="#000" stroke-width="0.2" transform="translate(485.3 250.4) scale(0.9091 1)" >Mn 2p</text>
<text x="0" y="0" font-family="Liberation Serif" font-weight="bold" font-size="11.55" text-anchor="start" fill="#000" transform="translate(309 317.5) scale(0.9091 1)" >Mn<tspan font-size="7.2" dy="-8.5">2+</tspan></text>
<text x="0" y="0" font-family="Liberation Serif" font-weight="bold" font-size="11.55" text-anchor="start" fill="#000" transform="translate(424.8 277.5) scale(0.9091 1)" >Mn<tspan font-size="7.2" dy="-8.5">4+</tspan></text>
<text x="0" y="0" font-family="Liberation Serif" font-weight="bold" font-size="11.55" text-anchor="start" fill="#000" transform="translate(436.8 289) scale(0.9091 1)" >Mn<tspan font-size="7.2" dy="-8.5">3+</tspan></text>
<text x="0" y="0" font-family="Liberation Serif" font-weight="bold" font-size="12.65" text-anchor="start" fill="#000" transform="translate(445 319) scale(0.9091 1)" >Mn 2p<tspan font-size="7.5" dy="4">1/2</tspan></text>
<line x1="332.5" y1="308.5" x2="385" y2="304" stroke="#000" stroke-width="0.9"/>
<path d="M385,304 L380.36,302.59 L380.67,306.18 Z" fill="#000"/>
<line x1="330.5" y1="312.5" x2="354" y2="340" stroke="#000" stroke-width="0.9"/>
<path d="M354,340 L352.44,335.41 L349.71,337.75 Z" fill="#000"/>
<line x1="433.5" y1="281" x2="414.5" y2="337" stroke="#000" stroke-width="0.9"/>
<path d="M414.5,337 L417.65,333.32 L414.24,332.16 Z" fill="#000"/>
<line x1="441" y1="292" x2="440.6" y2="323.5" stroke="#000" stroke-width="0.9"/>
<path d="M440.6,323.5 L442.46,319.02 L438.86,318.98 Z" fill="#000"/>
<g clip-path="url(#ce)">
<path d="M195,619.24 L196,622.56 L197,620.78 L198,620.29 L199,623.47 L200,624.63 L201,625.05 L202,625.92 L203,625.88 L204,626.02 L205,626.53 L206,627.89 L207,628.4 L208,630.69 L209,631.02 L210,629.47 L211,632.49 L212,631.87 L213,633.5 L214,634.22 L215,633.34 L216,630.77 L217,633.96 L218,631.54 L219,635.58 L220,633.14 L221,633.96 L222,636.65 L223,632.56 L224,634.99 L225,633.9 L226,634.72 L227,634.43 L228,636.26 L229,635.11 L230,635.94 L231,636.34 L232,633.52 L233,637.34 L234,635.39 L235,633.71 L236,634.97 L237,636.87 L238,637.07 L239,635.06 L240,636.06 L241,636.17 L242,637.09 L243,635.61 L244,636.91 L245,634.58 L246,634.73 L247,636.37 L248,636.38 L249,635.39 L250,636.13 L251,635.59 L252,636.22 L253,636.65 L254,635.81 L255,636.12 L256,634.58 L257,634.33 L258,632.08 L259,635.4 L260,634.88 L261,635.44" fill="none" stroke="#d0d0d0" stroke-width="0.8" stroke-linejoin="round" stroke-linecap="round" />
<path d="M25.6,639C31.33,638.97 50.93,638.88 60,638.8C69.07,638.72 74.25,639.47 80,638.5C85.75,637.53 88.68,638.3 94.5,633C100.32,627.7 108.58,616.42 114.9,606.7C121.22,596.98 127.8,582.7 132.4,574.7C137,566.7 139.35,562.08 142.5,558.7C145.65,555.32 148.38,554.4 151.3,554.4C154.22,554.4 157.33,555.85 160,558.7C162.67,561.55 163.67,564.47 167.3,571.5C170.93,578.53 176.95,592.6 181.8,600.9C186.65,609.2 191.55,616.2 196.4,621.3C201.25,626.4 206.05,629.18 210.9,631.5C215.75,633.82 220.65,634.48 225.5,635.2C230.35,635.92 233.63,635.92 240,635.8C246.37,635.68 259.75,634.72 263.7,634.5" fill="none" stroke="#ff00ff" stroke-width="1.8" stroke-linejoin="round" stroke-linecap="round" />
<path d="M25.6,639C31.33,638.97 50.93,638.88 60,638.8C69.07,638.72 74.5,639.13 80,638.5C85.5,637.87 89.12,636.67 93,635C96.88,633.33 100.13,634.67 103.3,628.5C106.47,622.33 109.33,609.38 112,598C114.67,586.62 116.63,570.62 119.3,560.2C121.97,549.78 125.1,536.47 128,535.5C130.9,534.53 133.78,544.48 136.7,554.4C139.62,564.32 142.58,583.13 145.5,595C148.42,606.87 151.05,618.8 154.2,625.6C157.35,632.4 160.28,634 164.4,635.8C168.52,637.6 166.3,636.5 178.9,636.4C191.5,636.3 225.87,635.47 240,635.2C254.13,634.93 259.75,634.87 263.7,634.8" fill="none" stroke="#ff1010" stroke-width="1.9" stroke-linejoin="round" stroke-linecap="round" />
<path d="M25.6,639C31.33,638.93 50.93,638.75 60,638.6C69.07,638.45 73.75,640.03 80,638.1C86.25,636.17 93.13,633.68 97.5,627C101.87,620.32 103.3,612.05 106.2,598C109.1,583.95 112,559.67 114.9,542.7C117.8,525.73 120.78,506.62 123.6,496.2C126.42,485.78 128.88,480.2 131.8,480.2C134.72,480.2 137.62,487.23 141.1,496.2C144.58,505.17 148.33,521.4 152.7,534C157.07,546.6 162.45,560.65 167.3,571.8C172.15,582.95 176.95,592.65 181.8,600.9C186.65,609.15 191.55,616.2 196.4,621.3C201.25,626.4 206.05,629.18 210.9,631.5C215.75,633.82 220.65,634.48 225.5,635.2C230.35,635.92 233.63,635.92 240,635.8C246.37,635.68 259.75,634.72 263.7,634.5" fill="none" stroke="#7a0a0a" stroke-width="2.0" stroke-linejoin="round" stroke-linecap="round" />
</g>
<rect x="25.8" y="461.8" width="238.6" height="192.2" fill="none" stroke="#000" stroke-width="1.7"/>
<line x1="25.6" y1="654" x2="25.6" y2="658.3" stroke="#000" stroke-width="1.2"/>
<line x1="53.14" y1="654" x2="53.14" y2="656.6" stroke="#000" stroke-width="1.2"/>
<line x1="80.68" y1="654" x2="80.68" y2="658.3" stroke="#000" stroke-width="1.2"/>
<line x1="108.22" y1="654" x2="108.22" y2="656.6" stroke="#000" stroke-width="1.2"/>
<line x1="135.76" y1="654" x2="135.76" y2="658.3" stroke="#000" stroke-width="1.2"/>
<line x1="163.3" y1="654" x2="163.3" y2="656.6" stroke="#000" stroke-width="1.2"/>
<line x1="190.84" y1="654" x2="190.84" y2="658.3" stroke="#000" stroke-width="1.2"/>
<line x1="218.38" y1="654" x2="218.38" y2="656.6" stroke="#000" stroke-width="1.2"/>
<line x1="245.92" y1="654" x2="245.92" y2="658.3" stroke="#000" stroke-width="1.2"/>
<text x="0" y="0" font-family="Liberation Serif" font-weight="bold" font-size="10.56" text-anchor="middle" fill="#000" transform="translate(25.6 669) scale(0.9091 1)" >525</text>
<text x="0" y="0" font-family="Liberation Serif" font-weight="bold" font-size="10.56" text-anchor="middle" fill="#000" transform="translate(80.68 669) scale(0.9091 1)" >528</text>
<text x="0" y="0" font-family="Liberation Serif" font-weight="bold" font-size="10.56" text-anchor="middle" fill="#000" transform="translate(135.76 669) scale(0.9091 1)" >531</text>
<text x="0" y="0" font-family="Liberation Serif" font-weight="bold" font-size="10.56" text-anchor="middle" fill="#000" transform="translate(190.84 669) scale(0.9091 1)" >534</text>
<text x="0" y="0" font-family="Liberation Serif" font-weight="bold" font-size="10.56" text-anchor="middle" fill="#000" transform="translate(245.92 669) scale(0.9091 1)" >537</text>
<text x="0" y="0" font-family="Liberation Serif" font-weight="bold" font-size="12.87" text-anchor="middle" fill="#000" transform="translate(144.2 682.7) scale(0.9091 1)" >Binding Enegry (eV)</text>
<text x="0" y="0" font-family="Liberation Serif" font-weight="bold" font-size="13.6" text-anchor="middle" fill="#000" transform="translate(16.43 558) scale(0.8800 1) rotate(-90)" >Intensity (a.u.)</text>
<text x="0" y="0" font-family="Liberation Serif" font-weight="bold" font-size="23.85" text-anchor="start" fill="#000" stroke="#000" stroke-width="0.3" transform="translate(28.3 481) scale(0.9434 1)" >(e)</text>
<text x="0" y="0" font-family="Liberation Serif" font-weight="bold" font-size="14.96" text-anchor="start" fill="#000" stroke="#000" stroke-width="0.2" transform="translate(228.4 480) scale(0.9091 1)" >O 1s</text>
<text x="0" y="0" font-family="Liberation Serif" font-weight="bold" font-size="10.12" text-anchor="start" fill="#000" transform="translate(77.4 515) scale(0.9091 1)" >O 1s</text>
<text x="0" y="0" font-family="Liberation Serif" font-weight="bold" font-size="10.12" text-anchor="start" fill="#000" transform="translate(168.6 520) scale(0.9091 1)" >O 1s</text>
<line x1="97.5" y1="516.5" x2="125.5" y2="533" stroke="#e01010" stroke-width="1.0"/>
<path d="M125.5,533 L122.21,528.74 L120.18,532.18 Z" fill="#e01010"/>
<line x1="176" y1="522" x2="150.5" y2="551" stroke="#e01010" stroke-width="1.0"/>
<path d="M150.5,551 L155.3,548.57 L152.3,545.92 Z" fill="#e01010"/>
<g clip-path="url(#cf)">
<path d="M316.47,641.22 L324.36,639.93 L334.22,639.07 L353.94,637.78 L373.66,636.92 L393.38,636.06 L413.1,635.2 L432.82,634.12 L445.84,633.26 L464.37,631.54 L476.2,630.04 L486.06,627.89 L495.14,624.45 L501.84,619.29 L507.36,608.97 L509.73,585.75" fill="none" stroke="#0000ff" stroke-width="1.8" stroke-linejoin="round" stroke-linecap="round" />
<path d="M314.47,639.02 L318.87,641.22 L314.47,643.42 Z" fill="none" stroke="#0000ff" stroke-width="1.0"/>
<path d="M315.79,638.8 L320.19,641 L315.79,643.21 Z" fill="none" stroke="#0000ff" stroke-width="1.0"/>
<path d="M317.1,638.59 L321.5,640.79 L317.1,642.99 Z" fill="none" stroke="#0000ff" stroke-width="1.0"/>
<path d="M318.42,638.37 L322.82,640.57 L318.42,642.77 Z" fill="none" stroke="#0000ff" stroke-width="1.0"/>
<path d="M319.73,638.16 L324.13,640.36 L319.73,642.56 Z" fill="none" stroke="#0000ff" stroke-width="1.0"/>
<path d="M321.05,637.94 L325.45,640.14 L321.05,642.35 Z" fill="none" stroke="#0000ff" stroke-width="1.0"/>
<path d="M322.36,637.73 L326.76,639.93 L322.36,642.13 Z" fill="none" stroke="#0000ff" stroke-width="1.0"/>
<path d="M323.59,637.62 L327.99,639.82 L323.59,642.02 Z" fill="none" stroke="#0000ff" stroke-width="1.0"/>
<path d="M324.82,637.51 L329.22,639.71 L324.82,641.91 Z" fill="none" stroke="#0000ff" stroke-width="1.0"/>
<path d="M326.06,637.41 L330.46,639.61 L326.06,641.81 Z" fill="none" stroke="#0000ff" stroke-width="1.0"/>
<path d="M327.29,637.3 L331.69,639.5 L327.29,641.7 Z" fill="none" stroke="#0000ff" stroke-width="1.0"/>
<path d="M328.52,637.19 L332.92,639.39 L328.52,641.59 Z" fill="none" stroke="#0000ff" stroke-width="1.0"/>
<path d="M329.75,637.08 L334.15,639.28 L329.75,641.49 Z" fill="none" stroke="#0000ff" stroke-width="1.0"/>
<path d="M330.99,636.98 L335.39,639.18 L330.99,641.38 Z" fill="none" stroke="#0000ff" stroke-width="1.0"/>
<path d="M332.22,636.87 L336.62,639.07 L332.22,641.27 Z" fill="none" stroke="#0000ff" stroke-width="1.0"/>
<path d="M333.45,636.79 L337.85,638.99 L333.45,641.19 Z" fill="none" stroke="#0000ff" stroke-width="1.0"/>
<path d="M334.69,636.71 L339.08,638.91 L334.69,641.11 Z" fill="none" stroke="#0000ff" stroke-width="1.0"/>
<path d="M335.92,636.63 L340.32,638.83 L335.92,641.03 Z" fill="none" stroke="#0000ff" stroke-width="1.0"/>
<path d="M337.15,636.55 L341.55,638.75 L337.15,640.95 Z" fill="none" stroke="#0000ff" stroke-width="1.0"/>
<path d="M338.38,636.47 L342.78,638.67 L338.38,640.87 Z" fill="none" stroke="#0000ff" stroke-width="1.0"/>
<path d="M339.62,636.39 L344.01,638.59 L339.62,640.79 Z" fill="none" stroke="#0000ff" stroke-width="1.0"/>
<path d="M340.85,636.31 L345.25,638.51 L340.85,640.71 Z" fill="none" stroke="#0000ff" stroke-width="1.0"/>
<path d="M342.08,636.22 L346.48,638.42 L342.08,640.62 Z" fill="none" stroke="#0000ff" stroke-width="1.0"/>
<path d="M343.31,636.14 L347.71,638.34 L343.31,640.54 Z" fill="none" stroke="#0000ff" stroke-width="1.0"/>
<path d="M344.55,636.06 L348.94,638.26 L344.55,640.46 Z" fill="none" stroke="#0000ff" stroke-width="1.0"/>
<path d="M345.78,635.98 L350.18,638.18 L345.78,640.38 Z" fill="none" stroke="#0000ff" stroke-width="1.0"/>
<path d="M347.01,635.9 L351.41,638.1 L347.01,640.3 Z" fill="none" stroke="#0000ff" stroke-width="1.0"/>
<path d="M348.24,635.82 L352.64,638.02 L348.24,640.22 Z" fill="none" stroke="#0000ff" stroke-width="1.0"/>
<path d="M349.48,635.74 L353.88,637.94 L349.48,640.14 Z" fill="none" stroke="#0000ff" stroke-width="1.0"/>
<path d="M350.71,635.66 L355.11,637.86 L350.71,640.06 Z" fill="none" stroke="#0000ff" stroke-width="1.0"/>
<path d="M351.94,635.58 L356.34,637.78 L351.94,639.98 Z" fill="none" stroke="#0000ff" stroke-width="1.0"/>
<path d="M355.88,635.41 L360.28,637.61 L355.88,639.81 Z" fill="none" stroke="#0000ff" stroke-width="1.0"/>
<path d="M359.83,635.24 L364.23,637.44 L359.83,639.64 Z" fill="none" stroke="#0000ff" stroke-width="1.0"/>
<path d="M363.77,635.06 L368.17,637.26 L363.77,639.46 Z" fill="none" stroke="#0000ff" stroke-width="1.0"/>
<path d="M367.72,634.89 L372.12,637.09 L367.72,639.29 Z" fill="none" stroke="#0000ff" stroke-width="1.0"/>
<path d="M371.66,634.72 L376.06,636.92 L371.66,639.12 Z" fill="none" stroke="#0000ff" stroke-width="1.0"/>
<path d="M375.6,634.55 L380,636.75 L375.6,638.95 Z" fill="none" stroke="#0000ff" stroke-width="1.0"/>
<path d="M379.55,634.38 L383.95,636.58 L379.55,638.78 Z" fill="none" stroke="#0000ff" stroke-width="1.0"/>
<path d="M383.49,634.2 L387.89,636.4 L383.49,638.6 Z" fill="none" stroke="#0000ff" stroke-width="1.0"/>
<path d="M387.44,634.03 L391.84,636.23 L387.44,638.43 Z" fill="none" stroke="#0000ff" stroke-width="1.0"/>
<path d="M391.38,633.86 L395.78,636.06 L391.38,638.26 Z" fill="none" stroke="#0000ff" stroke-width="1.0"/>
<path d="M395.32,633.69 L399.72,635.89 L395.32,638.09 Z" fill="none" stroke="#0000ff" stroke-width="1.0"/>
<path d="M399.27,633.52 L403.67,635.72 L399.27,637.92 Z" fill="none" stroke="#0000ff" stroke-width="1.0"/>
<path d="M403.21,633.34 L407.61,635.54 L403.21,637.74 Z" fill="none" stroke="#0000ff" stroke-width="1.0"/>
<path d="M407.16,633.17 L411.56,635.37 L407.16,637.57 Z" fill="none" stroke="#0000ff" stroke-width="1.0"/>
<path d="M411.1,633 L415.5,635.2 L411.1,637.4 Z" fill="none" stroke="#0000ff" stroke-width="1.0"/>
<path d="M415.04,632.78 L419.44,634.98 L415.04,637.18 Z" fill="none" stroke="#0000ff" stroke-width="1.0"/>
<path d="M418.99,632.57 L423.39,634.77 L418.99,636.97 Z" fill="none" stroke="#0000ff" stroke-width="1.0"/>
<path d="M422.93,632.35 L427.33,634.55 L422.93,636.75 Z" fill="none" stroke="#0000ff" stroke-width="1.0"/>
<path d="M426.88,632.14 L431.28,634.34 L426.88,636.54 Z" fill="none" stroke="#0000ff" stroke-width="1.0"/>
<path d="M430.82,631.92 L435.22,634.12 L430.82,636.33 Z" fill="none" stroke="#0000ff" stroke-width="1.0"/>
<path d="M437.33,631.49 L441.73,633.69 L437.33,635.89 Z" fill="none" stroke="#0000ff" stroke-width="1.0"/>
<path d="M443.84,631.06 L448.24,633.26 L443.84,635.47 Z" fill="none" stroke="#0000ff" stroke-width="1.0"/>
<path d="M450.01,630.49 L454.41,632.69 L450.01,634.89 Z" fill="none" stroke="#0000ff" stroke-width="1.0"/>
<path d="M456.19,629.92 L460.59,632.12 L456.19,634.32 Z" fill="none" stroke="#0000ff" stroke-width="1.0"/>
<path d="M462.37,629.34 L466.77,631.54 L462.37,633.75 Z" fill="none" stroke="#0000ff" stroke-width="1.0"/>
<path d="M474.2,627.84 L478.6,630.04 L474.2,632.24 Z" fill="none" stroke="#0000ff" stroke-width="1.0"/>
<path d="M484.06,625.69 L488.46,627.89 L484.06,630.09 Z" fill="none" stroke="#0000ff" stroke-width="1.0"/>
<path d="M493.14,622.25 L497.54,624.45 L493.14,626.65 Z" fill="none" stroke="#0000ff" stroke-width="1.0"/>
<path d="M499.84,617.09 L504.24,619.29 L499.84,621.49 Z" fill="none" stroke="#0000ff" stroke-width="1.0"/>
<path d="M505.36,606.77 L509.76,608.97 L505.36,611.17 Z" fill="none" stroke="#0000ff" stroke-width="1.0"/>
<path d="M507.73,583.55 L512.13,585.75 L507.73,587.95 Z" fill="none" stroke="#0000ff" stroke-width="1.0"/>
<path d="M509.73,585.75 L508.35,593.49 L505.78,602.95 L502.83,610.69 L497.9,620.15 L491.98,624.02" fill="none" stroke="#0000ff" stroke-width="1.8" stroke-linejoin="round" stroke-linecap="round" />
<path d="M507.73,583.55 L512.13,585.75 L507.73,587.95 Z" fill="none" stroke="#0000ff" stroke-width="1.0"/>
<path d="M506.35,591.29 L510.75,593.49 L506.35,595.69 Z" fill="none" stroke="#0000ff" stroke-width="1.0"/>
<path d="M503.78,600.75 L508.18,602.95 L503.78,605.15 Z" fill="none" stroke="#0000ff" stroke-width="1.0"/>
<path d="M500.83,608.49 L505.23,610.69 L500.83,612.89 Z" fill="none" stroke="#0000ff" stroke-width="1.0"/>
<path d="M495.9,617.95 L500.3,620.15 L495.9,622.35 Z" fill="none" stroke="#0000ff" stroke-width="1.0"/>
<path d="M489.98,621.82 L494.38,624.02 L489.98,626.22 Z" fill="none" stroke="#0000ff" stroke-width="1.0"/>
<path d="M316.47,636.49 L324.36,633.48 L334.22,630.9 L353.94,628.32 L373.66,625.74 L393.38,623.16 L413.1,620.58 L432.82,616.28 L445.05,611.55 L454.51,608.11 L463.98,603.81 L474.23,592.63 L481.33,584.03 L488.04,568.55 L497.9,536.3 L505.39,519.1 L510.32,480.4" fill="none" stroke="#008000" stroke-width="1.8" stroke-linejoin="round" stroke-linecap="round" />
<path d="M314.27,634.29 L316.47,636.49 L318.67,634.29 M316.47,636.49 L316.47,638.89" fill="none" stroke="#008000" stroke-width="0.9"/>
<path d="M315.59,633.79 L317.79,635.99 L319.99,633.79 M317.79,635.99 L317.79,638.39" fill="none" stroke="#008000" stroke-width="0.9"/>
<path d="M316.9,633.29 L319.1,635.49 L321.3,633.29 M319.1,635.49 L319.1,637.89" fill="none" stroke="#008000" stroke-width="0.9"/>
<path d="M318.22,632.78 L320.42,634.98 L322.62,632.78 M320.42,634.98 L320.42,637.38" fill="none" stroke="#008000" stroke-width="0.9"/>
<path d="M319.53,632.28 L321.73,634.48 L323.93,632.28 M321.73,634.48 L321.73,636.88" fill="none" stroke="#008000" stroke-width="0.9"/>
<path d="M320.85,631.78 L323.05,633.98 L325.25,631.78 M323.05,633.98 L323.05,636.38" fill="none" stroke="#008000" stroke-width="0.9"/>
<path d="M322.16,631.28 L324.36,633.48 L326.56,631.28 M324.36,633.48 L324.36,635.88" fill="none" stroke="#008000" stroke-width="0.9"/>
<path d="M323.39,630.96 L325.59,633.16 L327.79,630.96 M325.59,633.16 L325.59,635.56" fill="none" stroke="#008000" stroke-width="0.9"/>
<path d="M324.62,630.63 L326.82,632.83 L329.02,630.63 M326.82,632.83 L326.82,635.23" fill="none" stroke="#008000" stroke-width="0.9"/>
<path d="M325.86,630.31 L328.06,632.51 L330.26,630.31 M328.06,632.51 L328.06,634.91" fill="none" stroke="#008000" stroke-width="0.9"/>
<path d="M327.09,629.99 L329.29,632.19 L331.49,629.99 M329.29,632.19 L329.29,634.59" fill="none" stroke="#008000" stroke-width="0.9"/>
<path d="M328.32,629.67 L330.52,631.87 L332.72,629.67 M330.52,631.87 L330.52,634.27" fill="none" stroke="#008000" stroke-width="0.9"/>
<path d="M329.56,629.34 L331.75,631.54 L333.95,629.34 M331.75,631.54 L331.75,633.94" fill="none" stroke="#008000" stroke-width="0.9"/>
<path d="M330.79,629.02 L332.99,631.22 L335.19,629.02 M332.99,631.22 L332.99,633.62" fill="none" stroke="#008000" stroke-width="0.9"/>
<path d="M332.02,628.7 L334.22,630.9 L336.42,628.7 M334.22,630.9 L334.22,633.3" fill="none" stroke="#008000" stroke-width="0.9"/>
<path d="M333.25,628.54 L335.45,630.74 L337.65,628.54 M335.45,630.74 L335.45,633.14" fill="none" stroke="#008000" stroke-width="0.9"/>
<path d="M334.49,628.38 L336.69,630.58 L338.88,628.38 M336.69,630.58 L336.69,632.98" fill="none" stroke="#008000" stroke-width="0.9"/>
<path d="M335.72,628.22 L337.92,630.42 L340.12,628.22 M337.92,630.42 L337.92,632.82" fill="none" stroke="#008000" stroke-width="0.9"/>
<path d="M336.95,628.05 L339.15,630.25 L341.35,628.05 M339.15,630.25 L339.15,632.65" fill="none" stroke="#008000" stroke-width="0.9"/>
<path d="M338.18,627.89 L340.38,630.09 L342.58,627.89 M340.38,630.09 L340.38,632.49" fill="none" stroke="#008000" stroke-width="0.9"/>
<path d="M339.42,627.73 L341.62,629.93 L343.81,627.73 M341.62,629.93 L341.62,632.33" fill="none" stroke="#008000" stroke-width="0.9"/>
<path d="M340.65,627.57 L342.85,629.77 L345.05,627.57 M342.85,629.77 L342.85,632.17" fill="none" stroke="#008000" stroke-width="0.9"/>
<path d="M341.88,627.41 L344.08,629.61 L346.28,627.41 M344.08,629.61 L344.08,632.01" fill="none" stroke="#008000" stroke-width="0.9"/>
<path d="M343.11,627.25 L345.31,629.45 L347.51,627.25 M345.31,629.45 L345.31,631.85" fill="none" stroke="#008000" stroke-width="0.9"/>
<path d="M344.35,627.09 L346.55,629.29 L348.75,627.09 M346.55,629.29 L346.55,631.69" fill="none" stroke="#008000" stroke-width="0.9"/>
<path d="M345.58,626.93 L347.78,629.13 L349.98,626.93 M347.78,629.13 L347.78,631.53" fill="none" stroke="#008000" stroke-width="0.9"/>
<path d="M346.81,626.76 L349.01,628.96 L351.21,626.76 M349.01,628.96 L349.01,631.36" fill="none" stroke="#008000" stroke-width="0.9"/>
<path d="M348.04,626.6 L350.24,628.8 L352.44,626.6 M350.24,628.8 L350.24,631.2" fill="none" stroke="#008000" stroke-width="0.9"/>
<path d="M349.28,626.44 L351.48,628.64 L353.68,626.44 M351.48,628.64 L351.48,631.04" fill="none" stroke="#008000" stroke-width="0.9"/>
<path d="M350.51,626.28 L352.71,628.48 L354.91,626.28 M352.71,628.48 L352.71,630.88" fill="none" stroke="#008000" stroke-width="0.9"/>
<path d="M351.74,626.12 L353.94,628.32 L356.14,626.12 M353.94,628.32 L353.94,630.72" fill="none" stroke="#008000" stroke-width="0.9"/>
<path d="M355.68,625.6 L357.88,627.8 L360.08,625.6 M357.88,627.8 L357.88,630.2" fill="none" stroke="#008000" stroke-width="0.9"/>
<path d="M359.63,625.09 L361.83,627.29 L364.03,625.09 M361.83,627.29 L361.83,629.69" fill="none" stroke="#008000" stroke-width="0.9"/>
<path d="M363.57,624.57 L365.77,626.77 L367.97,624.57 M365.77,626.77 L365.77,629.17" fill="none" stroke="#008000" stroke-width="0.9"/>
<path d="M367.52,624.06 L369.72,626.26 L371.92,624.06 M369.72,626.26 L369.72,628.66" fill="none" stroke="#008000" stroke-width="0.9"/>
<path d="M371.46,623.54 L373.66,625.74 L375.86,623.54 M373.66,625.74 L373.66,628.14" fill="none" stroke="#008000" stroke-width="0.9"/>
<path d="M375.4,623.02 L377.6,625.22 L379.8,623.02 M377.6,625.22 L377.6,627.62" fill="none" stroke="#008000" stroke-width="0.9"/>
<path d="M379.35,622.51 L381.55,624.71 L383.75,622.51 M381.55,624.71 L381.55,627.11" fill="none" stroke="#008000" stroke-width="0.9"/>
<path d="M383.29,621.99 L385.49,624.19 L387.69,621.99 M385.49,624.19 L385.49,626.59" fill="none" stroke="#008000" stroke-width="0.9"/>
<path d="M387.24,621.48 L389.44,623.68 L391.64,621.48 M389.44,623.68 L389.44,626.08" fill="none" stroke="#008000" stroke-width="0.9"/>
<path d="M391.18,620.96 L393.38,623.16 L395.58,620.96 M393.38,623.16 L393.38,625.56" fill="none" stroke="#008000" stroke-width="0.9"/>
<path d="M395.12,620.44 L397.32,622.64 L399.52,620.44 M397.32,622.64 L397.32,625.04" fill="none" stroke="#008000" stroke-width="0.9"/>
<path d="M399.07,619.93 L401.27,622.13 L403.47,619.93 M401.27,622.13 L401.27,624.53" fill="none" stroke="#008000" stroke-width="0.9"/>
<path d="M403.01,619.41 L405.21,621.61 L407.41,619.41 M405.21,621.61 L405.21,624.01" fill="none" stroke="#008000" stroke-width="0.9"/>
<path d="M406.96,618.9 L409.16,621.1 L411.36,618.9 M409.16,621.1 L409.16,623.5" fill="none" stroke="#008000" stroke-width="0.9"/>
<path d="M410.9,618.38 L413.1,620.58 L415.3,618.38 M413.1,620.58 L413.1,622.98" fill="none" stroke="#008000" stroke-width="0.9"/>
<path d="M414.84,617.52 L417.04,619.72 L419.24,617.52 M417.04,619.72 L417.04,622.12" fill="none" stroke="#008000" stroke-width="0.9"/>
<path d="M418.79,616.66 L420.99,618.86 L423.19,616.66 M420.99,618.86 L420.99,621.26" fill="none" stroke="#008000" stroke-width="0.9"/>
<path d="M422.73,615.8 L424.93,618 L427.13,615.8 M424.93,618 L424.93,620.4" fill="none" stroke="#008000" stroke-width="0.9"/>
<path d="M426.68,614.94 L428.88,617.14 L431.08,614.94 M428.88,617.14 L428.88,619.54" fill="none" stroke="#008000" stroke-width="0.9"/>
<path d="M430.62,614.08 L432.82,616.28 L435.02,614.08 M432.82,616.28 L432.82,618.68" fill="none" stroke="#008000" stroke-width="0.9"/>
<path d="M436.73,611.71 L438.93,613.91 L441.13,611.71 M438.93,613.91 L438.93,616.31" fill="none" stroke="#008000" stroke-width="0.9"/>
<path d="M442.85,609.35 L445.05,611.55 L447.25,609.35 M445.05,611.55 L445.05,613.95" fill="none" stroke="#008000" stroke-width="0.9"/>
<path d="M452.31,605.91 L454.51,608.11 L456.71,605.91 M454.51,608.11 L454.51,610.51" fill="none" stroke="#008000" stroke-width="0.9"/>
<path d="M461.78,601.61 L463.98,603.81 L466.18,601.61 M463.98,603.81 L463.98,606.21" fill="none" stroke="#008000" stroke-width="0.9"/>
<path d="M472.03,590.43 L474.23,592.63 L476.43,590.43 M474.23,592.63 L474.23,595.03" fill="none" stroke="#008000" stroke-width="0.9"/>
<path d="M479.13,581.83 L481.33,584.03 L483.53,581.83 M481.33,584.03 L481.33,586.43" fill="none" stroke="#008000" stroke-width="0.9"/>
<path d="M485.84,566.35 L488.04,568.55 L490.24,566.35 M488.04,568.55 L488.04,570.95" fill="none" stroke="#008000" stroke-width="0.9"/>
<path d="M495.7,534.1 L497.9,536.3 L500.1,534.1 M497.9,536.3 L497.9,538.7" fill="none" stroke="#008000" stroke-width="0.9"/>
<path d="M503.19,516.9 L505.39,519.1 L507.59,516.9 M505.39,519.1 L505.39,521.5" fill="none" stroke="#008000" stroke-width="0.9"/>
<path d="M508.12,478.2 L510.32,480.4 L512.52,478.2 M510.32,480.4 L510.32,482.8" fill="none" stroke="#008000" stroke-width="0.9"/>
<path d="M510.32,480.4 L501.84,510.5 L493.16,531.14 L484.09,551.35 L475.81,568.12 L468.32,585.75 L461.22,599.94 L456.48,606.82" fill="none" stroke="#008000" stroke-width="1.8" stroke-linejoin="round" stroke-linecap="round" />
<path d="M508.12,478.2 L510.32,480.4 L512.52,478.2 M510.32,480.4 L510.32,482.8" fill="none" stroke="#008000" stroke-width="0.9"/>
<path d="M499.64,508.3 L501.84,510.5 L504.04,508.3 M501.84,510.5 L501.84,512.9" fill="none" stroke="#008000" stroke-width="0.9"/>
<path d="M490.96,528.94 L493.16,531.14 L495.36,528.94 M493.16,531.14 L493.16,533.54" fill="none" stroke="#008000" stroke-width="0.9"/>
<path d="M481.89,549.15 L484.09,551.35 L486.29,549.15 M484.09,551.35 L484.09,553.75" fill="none" stroke="#008000" stroke-width="0.9"/>
<path d="M473.61,565.92 L475.81,568.12 L478.01,565.92 M475.81,568.12 L475.81,570.52" fill="none" stroke="#008000" stroke-width="0.9"/>
<path d="M466.12,583.55 L468.32,585.75 L470.52,583.55 M468.32,585.75 L468.32,588.15" fill="none" stroke="#008000" stroke-width="0.9"/>
<path d="M459.02,597.74 L461.22,599.94 L463.42,597.74 M461.22,599.94 L461.22,602.34" fill="none" stroke="#008000" stroke-width="0.9"/>
<path d="M454.28,604.62 L456.48,606.82 L458.68,604.62 M456.48,606.82 L456.48,609.22" fill="none" stroke="#008000" stroke-width="0.9"/>
<path d="M316.47,631.33 L324.36,628.32 L334.22,626.17 L353.94,622.73 L373.66,619.72 L393.38,616.71 L413.1,612.84 L432.82,608.11 L445.05,602.95 L454.51,599.51 L464.37,593.06 L475.22,586.61 L480.94,584.03 L486.06,577.15 L490.6,565.54 L497.9,550.92 L502.83,538.45 L506.77,522.54 L510.32,505.34" fill="none" stroke="#ff0000" stroke-width="1.8" stroke-linejoin="round" stroke-linecap="round" />
<circle cx="316.47" cy="631.33" r="2.1" fill="none" stroke="#ff0000" stroke-width="1.1"/>
<circle cx="317.79" cy="630.83" r="2.1" fill="none" stroke="#ff0000" stroke-width="1.1"/>
<circle cx="319.1" cy="630.33" r="2.1" fill="none" stroke="#ff0000" stroke-width="1.1"/>
<circle cx="320.42" cy="629.82" r="2.1" fill="none" stroke="#ff0000" stroke-width="1.1"/>
<circle cx="321.73" cy="629.32" r="2.1" fill="none" stroke="#ff0000" stroke-width="1.1"/>
<circle cx="323.05" cy="628.82" r="2.1" fill="none" stroke="#ff0000" stroke-width="1.1"/>
<circle cx="324.36" cy="628.32" r="2.1" fill="none" stroke="#ff0000" stroke-width="1.1"/>
<circle cx="325.59" cy="628.05" r="2.1" fill="none" stroke="#ff0000" stroke-width="1.1"/>
<circle cx="326.82" cy="627.78" r="2.1" fill="none" stroke="#ff0000" stroke-width="1.1"/>
<circle cx="328.06" cy="627.51" r="2.1" fill="none" stroke="#ff0000" stroke-width="1.1"/>
<circle cx="329.29" cy="627.25" r="2.1" fill="none" stroke="#ff0000" stroke-width="1.1"/>
<circle cx="330.52" cy="626.98" r="2.1" fill="none" stroke="#ff0000" stroke-width="1.1"/>
<circle cx="331.75" cy="626.71" r="2.1" fill="none" stroke="#ff0000" stroke-width="1.1"/>
<circle cx="332.99" cy="626.44" r="2.1" fill="none" stroke="#ff0000" stroke-width="1.1"/>
<circle cx="334.22" cy="626.17" r="2.1" fill="none" stroke="#ff0000" stroke-width="1.1"/>
<circle cx="335.45" cy="625.95" r="2.1" fill="none" stroke="#ff0000" stroke-width="1.1"/>
<circle cx="336.69" cy="625.74" r="2.1" fill="none" stroke="#ff0000" stroke-width="1.1"/>
<circle cx="337.92" cy="625.52" r="2.1" fill="none" stroke="#ff0000" stroke-width="1.1"/>
<circle cx="339.15" cy="625.31" r="2.1" fill="none" stroke="#ff0000" stroke-width="1.1"/>
<circle cx="340.38" cy="625.09" r="2.1" fill="none" stroke="#ff0000" stroke-width="1.1"/>
<circle cx="341.62" cy="624.88" r="2.1" fill="none" stroke="#ff0000" stroke-width="1.1"/>
<circle cx="342.85" cy="624.66" r="2.1" fill="none" stroke="#ff0000" stroke-width="1.1"/>
<circle cx="344.08" cy="624.45" r="2.1" fill="none" stroke="#ff0000" stroke-width="1.1"/>
<circle cx="345.31" cy="624.23" r="2.1" fill="none" stroke="#ff0000" stroke-width="1.1"/>
<circle cx="346.55" cy="624.02" r="2.1" fill="none" stroke="#ff0000" stroke-width="1.1"/>
<circle cx="347.78" cy="623.8" r="2.1" fill="none" stroke="#ff0000" stroke-width="1.1"/>
<circle cx="349.01" cy="623.59" r="2.1" fill="none" stroke="#ff0000" stroke-width="1.1"/>
<circle cx="350.24" cy="623.38" r="2.1" fill="none" stroke="#ff0000" stroke-width="1.1"/>
<circle cx="351.48" cy="623.16" r="2.1" fill="none" stroke="#ff0000" stroke-width="1.1"/>
<circle cx="352.71" cy="622.94" r="2.1" fill="none" stroke="#ff0000" stroke-width="1.1"/>
<circle cx="353.94" cy="622.73" r="2.1" fill="none" stroke="#ff0000" stroke-width="1.1"/>
<circle cx="357.88" cy="622.13" r="2.1" fill="none" stroke="#ff0000" stroke-width="1.1"/>
<circle cx="361.83" cy="621.53" r="2.1" fill="none" stroke="#ff0000" stroke-width="1.1"/>
<circle cx="365.77" cy="620.92" r="2.1" fill="none" stroke="#ff0000" stroke-width="1.1"/>
<circle cx="369.72" cy="620.32" r="2.1" fill="none" stroke="#ff0000" stroke-width="1.1"/>
<circle cx="373.66" cy="619.72" r="2.1" fill="none" stroke="#ff0000" stroke-width="1.1"/>
<circle cx="377.6" cy="619.12" r="2.1" fill="none" stroke="#ff0000" stroke-width="1.1"/>
<circle cx="381.55" cy="618.52" r="2.1" fill="none" stroke="#ff0000" stroke-width="1.1"/>
<circle cx="385.49" cy="617.91" r="2.1" fill="none" stroke="#ff0000" stroke-width="1.1"/>
<circle cx="389.44" cy="617.31" r="2.1" fill="none" stroke="#ff0000" stroke-width="1.1"/>
<circle cx="393.38" cy="616.71" r="2.1" fill="none" stroke="#ff0000" stroke-width="1.1"/>
<circle cx="397.32" cy="615.94" r="2.1" fill="none" stroke="#ff0000" stroke-width="1.1"/>
<circle cx="401.27" cy="615.16" r="2.1" fill="none" stroke="#ff0000" stroke-width="1.1"/>
<circle cx="405.21" cy="614.39" r="2.1" fill="none" stroke="#ff0000" stroke-width="1.1"/>
<circle cx="409.16" cy="613.61" r="2.1" fill="none" stroke="#ff0000" stroke-width="1.1"/>
<circle cx="413.1" cy="612.84" r="2.1" fill="none" stroke="#ff0000" stroke-width="1.1"/>
<circle cx="417.04" cy="611.89" r="2.1" fill="none" stroke="#ff0000" stroke-width="1.1"/>
<circle cx="420.99" cy="610.95" r="2.1" fill="none" stroke="#ff0000" stroke-width="1.1"/>
<circle cx="424.93" cy="610" r="2.1" fill="none" stroke="#ff0000" stroke-width="1.1"/>
<circle cx="428.88" cy="609.06" r="2.1" fill="none" stroke="#ff0000" stroke-width="1.1"/>
<circle cx="432.82" cy="608.11" r="2.1" fill="none" stroke="#ff0000" stroke-width="1.1"/>
<circle cx="438.93" cy="605.53" r="2.1" fill="none" stroke="#ff0000" stroke-width="1.1"/>
<circle cx="445.05" cy="602.95" r="2.1" fill="none" stroke="#ff0000" stroke-width="1.1"/>
<circle cx="454.51" cy="599.51" r="2.1" fill="none" stroke="#ff0000" stroke-width="1.1"/>
<circle cx="464.37" cy="593.06" r="2.1" fill="none" stroke="#ff0000" stroke-width="1.1"/>
<circle cx="475.22" cy="586.61" r="2.1" fill="none" stroke="#ff0000" stroke-width="1.1"/>
<circle cx="480.94" cy="584.03" r="2.1" fill="none" stroke="#ff0000" stroke-width="1.1"/>
<circle cx="486.06" cy="577.15" r="2.1" fill="none" stroke="#ff0000" stroke-width="1.1"/>
<circle cx="490.6" cy="565.54" r="2.1" fill="none" stroke="#ff0000" stroke-width="1.1"/>
<circle cx="497.9" cy="550.92" r="2.1" fill="none" stroke="#ff0000" stroke-width="1.1"/>
<circle cx="502.83" cy="538.45" r="2.1" fill="none" stroke="#ff0000" stroke-width="1.1"/>
<circle cx="506.77" cy="522.54" r="2.1" fill="none" stroke="#ff0000" stroke-width="1.1"/>
<circle cx="510.32" cy="505.34" r="2.1" fill="none" stroke="#ff0000" stroke-width="1.1"/>
<path d="M510.32,505.34 L507.76,519.1 L501.84,536.3 L495.92,545.76 L488.04,553.5 L480.15,562.1 L473.44,570.7 L464.77,579.3 L455.3,586.61 L445.84,591.77 L436.76,595.64 L428.88,599.08 L417.04,605.1 L409.16,609.4" fill="none" stroke="#ff0000" stroke-width="1.8" stroke-linejoin="round" stroke-linecap="round" />
<circle cx="510.32" cy="505.34" r="2.1" fill="none" stroke="#ff0000" stroke-width="1.1"/>
<circle cx="507.76" cy="519.1" r="2.1" fill="none" stroke="#ff0000" stroke-width="1.1"/>
<circle cx="501.84" cy="536.3" r="2.1" fill="none" stroke="#ff0000" stroke-width="1.1"/>
<circle cx="495.92" cy="545.76" r="2.1" fill="none" stroke="#ff0000" stroke-width="1.1"/>
<circle cx="488.04" cy="553.5" r="2.1" fill="none" stroke="#ff0000" stroke-width="1.1"/>
<circle cx="480.15" cy="562.1" r="2.1" fill="none" stroke="#ff0000" stroke-width="1.1"/>
<circle cx="473.44" cy="570.7" r="2.1" fill="none" stroke="#ff0000" stroke-width="1.1"/>
<circle cx="464.77" cy="579.3" r="2.1" fill="none" stroke="#ff0000" stroke-width="1.1"/>
<circle cx="455.3" cy="586.61" r="2.1" fill="none" stroke="#ff0000" stroke-width="1.1"/>
<circle cx="445.84" cy="591.77" r="2.1" fill="none" stroke="#ff0000" stroke-width="1.1"/>
<circle cx="436.76" cy="595.64" r="2.1" fill="none" stroke="#ff0000" stroke-width="1.1"/>
<circle cx="432.82" cy="597.36" r="2.1" fill="none" stroke="#ff0000" stroke-width="1.1"/>
<circle cx="428.88" cy="599.08" r="2.1" fill="none" stroke="#ff0000" stroke-width="1.1"/>
<circle cx="424.93" cy="601.09" r="2.1" fill="none" stroke="#ff0000" stroke-width="1.1"/>
<circle cx="420.99" cy="603.09" r="2.1" fill="none" stroke="#ff0000" stroke-width="1.1"/>
<circle cx="417.04" cy="605.1" r="2.1" fill="none" stroke="#ff0000" stroke-width="1.1"/>
<circle cx="413.1" cy="607.25" r="2.1" fill="none" stroke="#ff0000" stroke-width="1.1"/>
<circle cx="409.16" cy="609.4" r="2.1" fill="none" stroke="#ff0000" stroke-width="1.1"/>
</g>
<rect x="294.1" y="462.5" width="237.5" height="192.8" fill="none" stroke="#000" stroke-width="1.7"/>
<line x1="294.78" y1="655.3" x2="294.78" y2="657.8" stroke="#000" stroke-width="1.2"/>
<line x1="314.5" y1="655.3" x2="314.5" y2="659.3" stroke="#000" stroke-width="1.2"/>
<line x1="334.22" y1="655.3" x2="334.22" y2="657.8" stroke="#000" stroke-width="1.2"/>
<line x1="353.94" y1="655.3" x2="353.94" y2="659.3" stroke="#000" stroke-width="1.2"/>
<line x1="373.66" y1="655.3" x2="373.66" y2="657.8" stroke="#000" stroke-width="1.2"/>
<line x1="393.38" y1="655.3" x2="393.38" y2="659.3" stroke="#000" stroke-width="1.2"/>
<line x1="413.1" y1="655.3" x2="413.1" y2="657.8" stroke="#000" stroke-width="1.2"/>
<line x1="432.82" y1="655.3" x2="432.82" y2="659.3" stroke="#000" stroke-width="1.2"/>
<line x1="452.54" y1="655.3" x2="452.54" y2="657.8" stroke="#000" stroke-width="1.2"/>
<line x1="472.26" y1="655.3" x2="472.26" y2="659.3" stroke="#000" stroke-width="1.2"/>
<line x1="491.98" y1="655.3" x2="491.98" y2="657.8" stroke="#000" stroke-width="1.2"/>
<line x1="511.7" y1="655.3" x2="511.7" y2="659.3" stroke="#000" stroke-width="1.2"/>
<line x1="531.42" y1="655.3" x2="531.42" y2="657.8" stroke="#000" stroke-width="1.2"/>
<text x="0" y="0" font-family="Liberation Serif" font-weight="bold" font-size="10.56" text-anchor="middle" fill="#000" transform="translate(314.5 669.5) scale(0.9091 1)" >0.0</text>
<text x="0" y="0" font-family="Liberation Serif" font-weight="bold" font-size="10.56" text-anchor="middle" fill="#000" transform="translate(353.94 669.5) scale(0.9091 1)" >0.2</text>
<text x="0" y="0" font-family="Liberation Serif" font-weight="bold" font-size="10.56" text-anchor="middle" fill="#000" transform="translate(393.38 669.5) scale(0.9091 1)" >0.4</text>
<text x="0" y="0" font-family="Liberation Serif" font-weight="bold" font-size="10.56" text-anchor="middle" fill="#000" transform="translate(432.82 669.5) scale(0.9091 1)" >0.6</text>
<text x="0" y="0" font-family="Liberation Serif" font-weight="bold" font-size="10.56" text-anchor="middle" fill="#000" transform="translate(472.26 669.5) scale(0.9091 1)" >0.8</text>
<text x="0" y="0" font-family="Liberation Serif" font-weight="bold" font-size="10.56" text-anchor="middle" fill="#000" transform="translate(511.7 669.5) scale(0.9091 1)" >1.0</text>
<line x1="290.6" y1="643.8" x2="294.1" y2="643.8" stroke="#000" stroke-width="1.2"/>
<line x1="291.9" y1="622.3" x2="294.1" y2="622.3" stroke="#000" stroke-width="1.2"/>
<line x1="290.6" y1="600.8" x2="294.1" y2="600.8" stroke="#000" stroke-width="1.2"/>
<line x1="291.9" y1="579.3" x2="294.1" y2="579.3" stroke="#000" stroke-width="1.2"/>
<line x1="290.6" y1="557.8" x2="294.1" y2="557.8" stroke="#000" stroke-width="1.2"/>
<line x1="291.9" y1="536.3" x2="294.1" y2="536.3" stroke="#000" stroke-width="1.2"/>
<line x1="290.6" y1="514.8" x2="294.1" y2="514.8" stroke="#000" stroke-width="1.2"/>
<line x1="291.9" y1="493.3" x2="294.1" y2="493.3" stroke="#000" stroke-width="1.2"/>
<line x1="290.6" y1="471.8" x2="294.1" y2="471.8" stroke="#000" stroke-width="1.2"/>
<text x="0" y="0" font-family="Liberation Serif" font-weight="bold" font-size="10.56" text-anchor="end" fill="#000" transform="translate(288.8 647.4) scale(0.9091 1)" >0</text>
<text x="0" y="0" font-family="Liberation Serif" font-weight="bold" font-size="10.56" text-anchor="end" fill="#000" transform="translate(288.8 604.4) scale(0.9091 1)" >10</text>
<text x="0" y="0" font-family="Liberation Serif" font-weight="bold" font-size="10.56" text-anchor="end" fill="#000" transform="translate(288.8 561.4) scale(0.9091 1)" >20</text>
<text x="0" y="0" font-family="Liberation Serif" font-weight="bold" font-size="10.56" text-anchor="end" fill="#000" transform="translate(288.8 518.4) scale(0.9091 1)" >30</text>
<text x="0" y="0" font-family="Liberation Serif" font-weight="bold" font-size="10.56" text-anchor="end" fill="#000" transform="translate(288.8 475.4) scale(0.9091 1)" >40</text>
<text x="0" y="0" font-family="Liberation Serif" font-weight="bold" font-size="11.44" text-anchor="middle" fill="#000" transform="translate(410.5 682) scale(0.9091 1)" >Relative pressure (<tspan font-style="italic">P</tspan>/<tspan font-style="italic">P</tspan><tspan font-size="6" dy="2">0</tspan><tspan dy="-2">)</tspan></text>
<text x="0" y="0" font-family="Liberation Serif" font-weight="bold" font-size="10.3" text-anchor="middle" fill="#000" transform="translate(275.57 556) scale(0.8800 1) rotate(-90)" >Quantity adsorbed (cm<tspan font-size="6.5" dy="-4">3</tspan><tspan dy="4">/g STP)</tspan></text>
<text x="0" y="0" font-family="Liberation Serif" font-weight="bold" font-size="23.85" text-anchor="start" fill="#000" stroke="#000" stroke-width="0.3" transform="translate(300.5 480.8) scale(0.9434 1)" >(f)</text>
<line x1="334.8" y1="470.5" x2="358.6" y2="470.5" stroke="#ff0000" stroke-width="1.6"/>
<circle cx="346.7" cy="470.5" r="2" fill="none" stroke="#ff0000" stroke-width="1.1"/>
<text x="0" y="0" font-family="Liberation Serif" font-weight="bold" font-size="11.22" text-anchor="start" fill="#000" transform="translate(361.7 474) scale(0.9091 1)" >CoMn-LDH</text>
<line x1="334.8" y1="485" x2="358.6" y2="485" stroke="#0000ff" stroke-width="1.6"/>
<path d="M344.7,482.8 L349.09999999999997,485 L344.7,487.2 Z" fill="none" stroke="#0000ff" stroke-width="1"/>
<text x="0" y="0" font-family="Liberation Serif" font-weight="bold" font-size="11.22" text-anchor="start" fill="#000" transform="translate(361.7 488.5) scale(0.9091 1)" >CoMn-LDH@CuZnS</text>
<line x1="334.8" y1="498.9" x2="358.6" y2="498.9" stroke="#008000" stroke-width="1.6"/>
<path d="M344.5,496.7 L346.7,498.9 L348.9,496.7 M346.7,498.9 L346.7,501.29999999999995" fill="none" stroke="#008000" stroke-width="0.9"/>
<text x="0" y="0" font-family="Liberation Serif" font-weight="bold" font-size="11.22" text-anchor="start" fill="#000" transform="translate(361.7 502.4) scale(0.9091 1)" >CoMn-LDH@CuZnFeS</text></svg></body></html>
